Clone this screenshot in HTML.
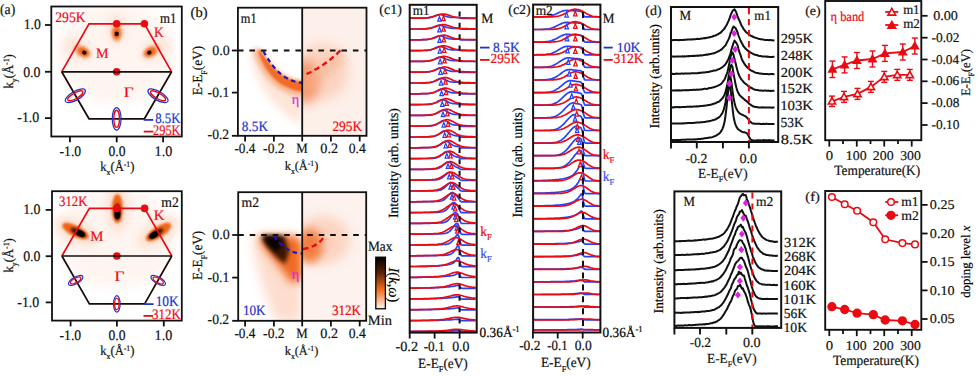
<!DOCTYPE html>
<html><head><meta charset="utf-8"><style>
html,body{margin:0;padding:0;background:#fff;width:980px;height:376px;overflow:hidden}
svg{display:block}
text{font-family:"Liberation Serif", serif; text-rendering:geometricPrecision}
</style></head><body>
<svg width="980" height="376" viewBox="0 0 980 376">
<defs>
<filter id="blur05" x="-50%" y="-50%" width="200%" height="200%"><feGaussianBlur stdDeviation="0.8"/></filter>
<filter id="blur1" x="-50%" y="-50%" width="200%" height="200%"><feGaussianBlur stdDeviation="1.8"/></filter>
<filter id="blur1s" x="-50%" y="-50%" width="200%" height="200%"><feGaussianBlur stdDeviation="1.3"/></filter>
<filter id="blur05s" x="-50%" y="-50%" width="200%" height="200%"><feGaussianBlur stdDeviation="0.6"/></filter>
<filter id="blur2" x="-50%" y="-50%" width="200%" height="200%"><feGaussianBlur stdDeviation="2.2"/></filter>
<filter id="blur4" x="-80%" y="-80%" width="260%" height="260%"><feGaussianBlur stdDeviation="5.5"/></filter>
<filter id="blur3" x="-80%" y="-80%" width="260%" height="260%"><feGaussianBlur stdDeviation="4"/></filter>
<clipPath id="clipa1"><rect x="51.3" y="6.5" width="130.5" height="130"/></clipPath>
<clipPath id="clipa0"><rect x="52" y="191.2" width="129.8" height="129.4"/></clipPath>
<clipPath id="clipb1L"><rect x="237.9" y="7.7" width="64.3" height="128.1"/></clipPath>
<clipPath id="clipb1R"><rect x="302.2" y="7.7" width="64.3" height="128.1"/></clipPath>
<clipPath id="clipb0L"><rect x="238.2" y="192.2" width="64" height="128.6"/></clipPath>
<clipPath id="clipb0R"><rect x="302.2" y="192.2" width="64" height="128.6"/></clipPath>
<linearGradient id="cbar" x1="0" y1="0" x2="0" y2="1"><stop offset="0" stop-color="#000"/><stop offset="0.3" stop-color="#5a2208"/><stop offset="0.62" stop-color="#f26a18"/><stop offset="1" stop-color="#fff4ee"/></linearGradient>
</defs>
<g clip-path="url(#clipa1)">
<ellipse cx="116.65" cy="53.8" rx="60" ry="50" fill="#fef5f1" filter="url(#blur4)"/>
<g transform="translate(116.7 33.9) rotate(90)">
<ellipse cx="-5" rx="16" ry="10" fill="#fcd9c6" opacity="0.55" filter="url(#blur3)"/>
<ellipse cx="-1.5" rx="10" ry="6" fill="#f9b088" opacity="0.7" filter="url(#blur1s)"/>
<ellipse cx="-0.8" rx="6.5" ry="4.2" fill="#f26a1a" filter="url(#blur1s)"/>
<ellipse rx="2.4" ry="2.0" fill="#0a0300" filter="url(#blur05s)"/>
</g>
<g transform="translate(84.3 52.6) rotate(30)">
<ellipse cx="-7.5" rx="16" ry="10" fill="#fcd9c6" opacity="0.55" filter="url(#blur3)"/>
<ellipse cx="-2.25" rx="10" ry="6" fill="#f9b088" opacity="0.7" filter="url(#blur1s)"/>
<ellipse cx="-1.2" rx="6.5" ry="4.2" fill="#f26a1a" filter="url(#blur1s)"/>
<ellipse rx="2.4" ry="2.0" fill="#0a0300" filter="url(#blur05s)"/>
</g>
<g transform="translate(149.3 52.6) rotate(-30)">
<ellipse cx="7.5" rx="16" ry="10" fill="#fcd9c6" opacity="0.55" filter="url(#blur3)"/>
<ellipse cx="2.25" rx="10" ry="6" fill="#f9b088" opacity="0.7" filter="url(#blur1s)"/>
<ellipse cx="1.2" rx="6.5" ry="4.2" fill="#f26a1a" filter="url(#blur1s)"/>
<ellipse rx="2.4" ry="2.0" fill="#0a0300" filter="url(#blur05s)"/>
</g>
</g>
<path d="M61.7 71.8 L89 23.8 L144.4 23.8 L171.6 71.8" stroke="#ec0a12" stroke-width="1.7" fill="none"/>
<path d="M61.7 71.8 L89 118.8 L144.4 118.8 L171.6 71.8" stroke="#1a0a0a" stroke-width="1.7" fill="none"/>
<circle cx="116.65" cy="23.8" r="3.8" fill="#ec0a12"/>
<circle cx="144.4" cy="23.8" r="3.8" fill="#ec0a12"/>
<circle cx="116.65" cy="71.8" r="3.8" fill="#ec0a12"/>
<line x1="61.7" y1="71.8" x2="171.6" y2="71.8" stroke="#111" stroke-width="1.7"/>
<g transform="translate(116.65 118.8) rotate(180)">
<ellipse rx="4.4" ry="11.3" fill="none" stroke="#2233cc" stroke-width="1.25"/>
<ellipse rx="2.8" ry="8.6" fill="none" stroke="#ec0a12" stroke-width="1.35"/>
</g>
<g transform="translate(75.35 95.8) rotate(240)">
<ellipse rx="4.4" ry="11.3" fill="none" stroke="#2233cc" stroke-width="1.25"/>
<ellipse rx="2.8" ry="8.6" fill="none" stroke="#ec0a12" stroke-width="1.35"/>
</g>
<g transform="translate(158 95.8) rotate(120)">
<ellipse rx="4.4" ry="11.3" fill="none" stroke="#2233cc" stroke-width="1.25"/>
<ellipse rx="2.8" ry="8.6" fill="none" stroke="#ec0a12" stroke-width="1.35"/>
</g>
<rect x="51.3" y="6.5" width="130.5" height="130" fill="none" stroke="#111" stroke-width="1.8"/>
<line x1="45" y1="25" x2="51.3" y2="25" stroke="#111" stroke-width="1.8"/>
<line x1="45" y1="71.8" x2="51.3" y2="71.8" stroke="#111" stroke-width="1.8"/>
<line x1="45" y1="118.1" x2="51.3" y2="118.1" stroke="#111" stroke-width="1.8"/>
<line x1="69.9" y1="136.5" x2="69.9" y2="142.3" stroke="#111" stroke-width="1.8"/>
<line x1="116.7" y1="136.5" x2="116.7" y2="142.3" stroke="#111" stroke-width="1.8"/>
<line x1="163.1" y1="136.5" x2="163.1" y2="142.3" stroke="#111" stroke-width="1.8"/>
<text transform="translate(23.64 28.68) scale(0.944 1)" font-size="14.50" fill="#111" stroke="#111" stroke-width="0.2">1.0</text>
<text transform="translate(23.15 76.58) scale(0.955 1)" font-size="14.50" fill="#111" stroke="#111" stroke-width="0.2">0.0</text>
<text transform="translate(17.32 121.88) scale(0.955 1)" font-size="14.50" fill="#111" stroke="#111" stroke-width="0.2">-1.0</text>
<text transform="translate(59.52 156.38) scale(0.941 1)" font-size="14.50" fill="#111" stroke="#111" stroke-width="0.2">-1.0</text>
<text transform="translate(108.56 156.38) scale(0.937 1)" font-size="14.50" fill="#111" stroke="#111" stroke-width="0.2">0.0</text>
<text transform="translate(154.6 156.38) scale(0.975 1)" font-size="14.50" fill="#111" stroke="#111" stroke-width="0.2">1.0</text>
<text transform="translate(100.2 171) scale(0.930 1)" font-size="13.60" fill="#111" stroke="#111" stroke-width="0.2">k<tspan font-size="8.4" dy="4.1">x</tspan><tspan dy="-4.1">(Å</tspan><tspan font-size="8.4" dy="-4.5">-1</tspan><tspan dy="4.5">)</tspan></text>
<text transform="translate(13.2 88.5) rotate(-90) scale(0.930 1)" font-size="13.60" fill="#111" stroke="#111" stroke-width="0.2">k<tspan font-size="8.4" dy="4.1">y</tspan><tspan dy="-4.1">(Å</tspan><tspan font-size="8.4" dy="-4.5">-1</tspan><tspan dy="4.5">)</tspan></text>
<text transform="translate(55.23 21.61) scale(0.948 1)" font-size="14.50" fill="#ec0a12" stroke="#ec0a12" stroke-width="0.2">295K</text>
<text transform="translate(159.94 22.55) scale(0.885 1)" font-size="14.50" fill="#111" stroke="#111" stroke-width="0.2">m1</text>
<text transform="translate(96.08 57.9) scale(0.972 1)" font-size="14.50" fill="#ec0a12" stroke="#ec0a12" stroke-width="0.2">M</text>
<text transform="translate(153.99 36.9) scale(0.933 1)" font-size="14.50" fill="#ec0a12" stroke="#ec0a12" stroke-width="0.2">K</text>
<text transform="translate(123.79 96.5) scale(1.178 1)" font-size="14.50" fill="#ec0a12" stroke="#ec0a12" stroke-width="0.2">Γ</text>
<line x1="143.7" y1="119.9" x2="153.3" y2="119.9" stroke="#2233cc" stroke-width="1.8"/>
<text transform="translate(155.19 123.38) scale(0.887 1)" font-size="14.50" fill="#2233cc" stroke="#2233cc" stroke-width="0.2">8.5K</text>
<line x1="143.7" y1="131.6" x2="153.3" y2="131.6" stroke="#ec0a12" stroke-width="1.8"/>
<text transform="translate(153.04 135.16) scale(0.854 1)" font-size="14.50" fill="#ec0a12" stroke="#ec0a12" stroke-width="0.2">295K</text>
<g clip-path="url(#clipa0)">
<ellipse cx="116.85" cy="238" rx="60" ry="50" fill="#fef5f1" filter="url(#blur4)"/>
<g transform="translate(117.4 208.7) rotate(90)">
<ellipse rx="24" ry="11" fill="#fcd0b8" opacity="0.55" filter="url(#blur3)"/>
<ellipse rx="14.5" ry="5.6" fill="#f26418" filter="url(#blur1s)"/>
<ellipse cx="3" rx="8.5" ry="2.9" fill="#3a1400" filter="url(#blur1s)"/>
<ellipse cx="5.5" rx="5" ry="2.9" fill="#000" filter="url(#blur05s)"/>
</g>
<g transform="translate(75.5 231) rotate(27)">
<ellipse rx="24" ry="11" fill="#fcd0b8" opacity="0.55" filter="url(#blur3)"/>
<ellipse rx="14.5" ry="5.6" fill="#f26418" filter="url(#blur1s)"/>
<ellipse cx="3" rx="8.5" ry="2.9" fill="#3a1400" filter="url(#blur1s)"/>
<ellipse cx="5.5" rx="5" ry="2.9" fill="#000" filter="url(#blur05s)"/>
</g>
<g transform="translate(158.5 232) rotate(-33)">
<ellipse rx="24" ry="11" fill="#fcd0b8" opacity="0.55" filter="url(#blur3)"/>
<ellipse rx="14.5" ry="5.6" fill="#f26418" filter="url(#blur1s)"/>
<ellipse cx="-3" rx="8.5" ry="2.9" fill="#3a1400" filter="url(#blur1s)"/>
<ellipse cx="-5.5" rx="5" ry="2.9" fill="#000" filter="url(#blur05s)"/>
</g>
</g>
<path d="M61.9 256 L89.4 208.4 L144.6 208.4 L171.8 256" stroke="#ec0a12" stroke-width="1.7" fill="none"/>
<path d="M61.9 256 L89.4 303.9 L144.6 303.9 L171.8 256" stroke="#1a0a0a" stroke-width="1.7" fill="none"/>
<circle cx="116.85" cy="208.4" r="3.8" fill="#ec0a12"/>
<circle cx="144.6" cy="208.4" r="3.8" fill="#ec0a12"/>
<circle cx="116.85" cy="256" r="3.8" fill="#ec0a12"/>
<line x1="61.9" y1="256" x2="171.8" y2="256" stroke="#111" stroke-width="1.7"/>
<g transform="translate(116.85 303.9) rotate(180)">
<ellipse rx="3.3" ry="8.2" fill="none" stroke="#2233cc" stroke-width="1.2"/>
<ellipse rx="2.2" ry="5.8" fill="none" stroke="#ec0a12" stroke-width="1.3"/>
</g>
<g transform="translate(75.65 280.45) rotate(240)">
<ellipse rx="3.3" ry="8.2" fill="none" stroke="#2233cc" stroke-width="1.2"/>
<ellipse rx="2.2" ry="5.8" fill="none" stroke="#ec0a12" stroke-width="1.3"/>
</g>
<g transform="translate(158.2 280.45) rotate(120)">
<ellipse rx="3.3" ry="8.2" fill="none" stroke="#2233cc" stroke-width="1.2"/>
<ellipse rx="2.2" ry="5.8" fill="none" stroke="#ec0a12" stroke-width="1.3"/>
</g>
<rect x="52" y="191.2" width="129.8" height="129.4" fill="none" stroke="#111" stroke-width="1.8"/>
<line x1="45.7" y1="209.9" x2="52" y2="209.9" stroke="#111" stroke-width="1.8"/>
<line x1="45.7" y1="256.2" x2="52" y2="256.2" stroke="#111" stroke-width="1.8"/>
<line x1="45.7" y1="302.4" x2="52" y2="302.4" stroke="#111" stroke-width="1.8"/>
<line x1="70.6" y1="320.6" x2="70.6" y2="326.4" stroke="#111" stroke-width="1.8"/>
<line x1="116.9" y1="320.6" x2="116.9" y2="326.4" stroke="#111" stroke-width="1.8"/>
<line x1="163.8" y1="320.6" x2="163.8" y2="326.4" stroke="#111" stroke-width="1.8"/>
<text transform="translate(23.13 213.98) scale(0.950 1)" font-size="14.50" fill="#111" stroke="#111" stroke-width="0.2">1.0</text>
<text transform="translate(23.15 260.58) scale(0.955 1)" font-size="14.50" fill="#111" stroke="#111" stroke-width="0.2">0.0</text>
<text transform="translate(17.32 306.88) scale(0.955 1)" font-size="14.50" fill="#111" stroke="#111" stroke-width="0.2">-1.0</text>
<text transform="translate(59.52 340.38) scale(0.941 1)" font-size="14.50" fill="#111" stroke="#111" stroke-width="0.2">-1.0</text>
<text transform="translate(108.56 340.38) scale(0.937 1)" font-size="14.50" fill="#111" stroke="#111" stroke-width="0.2">0.0</text>
<text transform="translate(154.6 340.38) scale(0.975 1)" font-size="14.50" fill="#111" stroke="#111" stroke-width="0.2">1.0</text>
<text transform="translate(100.2 355) scale(0.930 1)" font-size="13.60" fill="#111" stroke="#111" stroke-width="0.2">k<tspan font-size="8.4" dy="4.1">x</tspan><tspan dy="-4.1">(Å</tspan><tspan font-size="8.4" dy="-4.5">-1</tspan><tspan dy="4.5">)</tspan></text>
<text transform="translate(13.2 272.5) rotate(-90) scale(0.930 1)" font-size="13.60" fill="#111" stroke="#111" stroke-width="0.2">k<tspan font-size="8.4" dy="4.1">y</tspan><tspan dy="-4.1">(Å</tspan><tspan font-size="8.4" dy="-4.5">-1</tspan><tspan dy="4.5">)</tspan></text>
<text transform="translate(59.03 206.05) scale(0.879 1)" font-size="14.50" fill="#ec0a12" stroke="#ec0a12" stroke-width="0.2">312K</text>
<text transform="translate(161.33 206.8) scale(0.944 1)" font-size="14.50" fill="#111" stroke="#111" stroke-width="0.2">m2</text>
<text transform="translate(90.16 240.9) scale(1.022 1)" font-size="14.50" fill="#ec0a12" stroke="#ec0a12" stroke-width="0.2">M</text>
<text transform="translate(153.65 219.6) scale(1.034 1)" font-size="14.50" fill="#ec0a12" stroke="#ec0a12" stroke-width="0.2">K</text>
<text transform="translate(114.49 280.5) scale(1.178 1)" font-size="14.50" fill="#ec0a12" stroke="#ec0a12" stroke-width="0.2">Γ</text>
<line x1="144" y1="304.1" x2="153.6" y2="304.1" stroke="#2233cc" stroke-width="1.8"/>
<text transform="translate(155.66 305.75) scale(0.925 1)" font-size="14.50" fill="#2233cc" stroke="#2233cc" stroke-width="0.2">10K</text>
<line x1="143.5" y1="315.9" x2="153" y2="315.9" stroke="#ec0a12" stroke-width="1.8"/>
<text transform="translate(152.02 319.06) scale(0.895 1)" font-size="14.50" fill="#ec0a12" stroke="#ec0a12" stroke-width="0.2">312K</text>
<text transform="translate(0.05 14.48) scale(0.943 1)" font-size="14.50" fill="#111" stroke="#111" stroke-width="0.2">(a)</text>
<g clip-path="url(#clipb1L)">
<path d="M258 50 L268 56 Q285 82 302 90 L302 125 Q275 112 258 80 Q250 62 252 50 Z" fill="#fcd0b8" opacity="0.55" filter="url(#blur3)"/>
<path d="M256 47 Q266 64 281 74 Q292 80 303 80 L303 98 Q288 95 276 87 Q260 74 253 52 Z" fill="#f9b690" filter="url(#blur2)"/>
<path d="M259.5 48.5 Q269 65 282 75 Q292 81 303 82 L303 92 Q290 90 279 83 Q265 72 258 52 Z" fill="#f26a26" filter="url(#blur1s)"/>
</g>
<g clip-path="url(#clipb1R)">
<rect x="302.2" y="7.7" width="64.3" height="128.1" fill="#fdefe9"/>
<ellipse cx="322" cy="72" rx="26" ry="28" fill="#fbcfba" opacity="0.85" filter="url(#blur4)"/>
<ellipse cx="306" cy="82" rx="12" ry="22" fill="#f39060" opacity="0.9" filter="url(#blur4)"/>
<path d="M303 76 Q322 66 340 50 L346 58 Q325 78 303 96 Z" fill="#f7b08c" opacity="0.6" filter="url(#blur3)"/>
</g>
<line x1="237.9" y1="50.5" x2="366.5" y2="50.5" stroke="#111" stroke-width="2.0" stroke-dasharray="5.6 5.9"/>
<path d="M263.3 51 Q280 82 302 82.6" stroke="#1a1ab8" stroke-width="2.2" fill="none" stroke-dasharray="4.6 3.6"/>
<path d="M306.5 74 Q325 66 340.5 50.3" stroke="#ec0a12" stroke-width="2.3" fill="none" stroke-dasharray="5.5 3.5"/>
<line x1="302.2" y1="7.7" x2="302.2" y2="135.8" stroke="#111" stroke-width="1.8"/>
<rect x="237.9" y="7.7" width="128.6" height="128.1" fill="none" stroke="#111" stroke-width="1.8"/>
<line x1="231.9" y1="50.5" x2="237.9" y2="50.5" stroke="#111" stroke-width="1.8"/>
<line x1="231.9" y1="92.6" x2="237.9" y2="92.6" stroke="#111" stroke-width="1.8"/>
<line x1="231.9" y1="135.8" x2="237.9" y2="135.8" stroke="#111" stroke-width="1.8"/>
<line x1="245.1" y1="135.8" x2="245.1" y2="141.4" stroke="#111" stroke-width="1.8"/>
<line x1="273.9" y1="135.8" x2="273.9" y2="141.4" stroke="#111" stroke-width="1.8"/>
<line x1="302.2" y1="135.8" x2="302.2" y2="141.4" stroke="#111" stroke-width="1.8"/>
<line x1="330.9" y1="135.8" x2="330.9" y2="141.4" stroke="#111" stroke-width="1.8"/>
<line x1="359.7" y1="135.8" x2="359.7" y2="141.4" stroke="#111" stroke-width="1.8"/>
<text transform="translate(212.24 54.79) scale(0.980 1)" font-size="14.30" fill="#111" stroke="#111" stroke-width="0.2">0.0</text>
<text transform="translate(207.62 96.99) scale(0.953 1)" font-size="14.30" fill="#111" stroke="#111" stroke-width="0.2">-0.1</text>
<text transform="translate(207.62 139.09) scale(0.950 1)" font-size="14.30" fill="#111" stroke="#111" stroke-width="0.2">-0.2</text>
<text transform="translate(234.44 153.09) scale(0.925 1)" font-size="14.30" fill="#111" stroke="#111" stroke-width="0.2">-0.4</text>
<text transform="translate(263.12 153.09) scale(0.950 1)" font-size="14.30" fill="#111" stroke="#111" stroke-width="0.2">-0.2</text>
<text transform="translate(296.31 153.3) scale(0.902 1)" font-size="14.30" fill="#111" stroke="#111" stroke-width="0.2">M</text>
<text transform="translate(320.33 153.09) scale(0.993 1)" font-size="14.30" fill="#111" stroke="#111" stroke-width="0.2">0.2</text>
<text transform="translate(348.75 153.09) scale(0.954 1)" font-size="14.30" fill="#111" stroke="#111" stroke-width="0.2">0.4</text>
<text transform="translate(284.7 170.1) scale(0.950 1)" font-size="13.00" fill="#111" stroke="#111" stroke-width="0.2">k<tspan font-size="8.1" dy="3.9">x</tspan><tspan dy="-3.9">(Å</tspan><tspan font-size="8.1" dy="-4.3">-1</tspan><tspan dy="4.3">)</tspan></text>
<text transform="translate(202.4 95.2) rotate(-90) scale(0.950 1)" font-size="13.90" fill="#111" stroke="#111" stroke-width="0.2">E-E<tspan font-size="8.6" dy="4.2">F</tspan><tspan dy="-4.2">(eV)</tspan></text>
<text transform="translate(240.85 22.7) scale(0.862 1)" font-size="14.30" fill="#111" stroke="#111" stroke-width="0.2">m1</text>
<text transform="translate(241.87 131.09) scale(0.929 1)" font-size="14.30" fill="#2233cc" stroke="#2233cc" stroke-width="0.2">8.5K</text>
<text transform="translate(332.4 131.16) scale(0.940 1)" font-size="14.30" fill="#ec0a12" stroke="#ec0a12" stroke-width="0.2">295K</text>
<text transform="translate(291.79 103.63) scale(0.999 1)" font-size="14.30" fill="#e020e0" stroke="#e020e0" stroke-width="0.2">η</text>
<g clip-path="url(#clipb0L)">
<path d="M256 236 L302 236 L302 322 L276 322 Q258 280 252 240 Z" fill="#fcd2be" opacity="0.75" filter="url(#blur4)"/>
<path d="M259 236 L296 236 L302 244 L302 278 L292 284 Q282 270 272 258 Q262 246 259 238 Z" fill="#f06a22" filter="url(#blur3)"/>
<path d="M262 236 L285 236 L289 252 L285 264 Q276 258 269 249 Q263 242 262 238 Z" fill="#3a1604" filter="url(#blur2)"/>
<path d="M264 236 L280 236 L281 247 L276 252 Q268 246 265 240 Z" fill="#000" opacity="0.85" filter="url(#blur2)"/>
</g>
<g clip-path="url(#clipb0R)">
<rect x="302.2" y="192.2" width="64" height="128.6" fill="#fdf2ee"/>
<ellipse cx="322" cy="240" rx="28" ry="24" fill="#fbc8ae" opacity="0.7" filter="url(#blur4)"/>
<ellipse cx="310" cy="246" rx="13" ry="17" fill="#f27a3a" opacity="0.95" filter="url(#blur3)"/>
</g>
<line x1="238.2" y1="235" x2="366.2" y2="235" stroke="#111" stroke-width="2.0" stroke-dasharray="5.6 5.9"/>
<path d="M274 236 Q286 253 302 253.5" stroke="#1a1ab8" stroke-width="2.2" fill="none" stroke-dasharray="4.6 3.6"/>
<path d="M303 249 Q318 247 324.5 236" stroke="#ec0a12" stroke-width="2.3" fill="none" stroke-dasharray="5.5 3.5"/>
<line x1="302.2" y1="192.2" x2="302.2" y2="320.8" stroke="#111" stroke-width="1.8"/>
<rect x="238.2" y="192.2" width="128" height="128.6" fill="none" stroke="#111" stroke-width="1.8"/>
<line x1="232.2" y1="235" x2="238.2" y2="235" stroke="#111" stroke-width="1.8"/>
<line x1="232.2" y1="277.6" x2="238.2" y2="277.6" stroke="#111" stroke-width="1.8"/>
<line x1="232.2" y1="320.8" x2="238.2" y2="320.8" stroke="#111" stroke-width="1.8"/>
<line x1="245.1" y1="320.8" x2="245.1" y2="326.4" stroke="#111" stroke-width="1.8"/>
<line x1="273.9" y1="320.8" x2="273.9" y2="326.4" stroke="#111" stroke-width="1.8"/>
<line x1="302.2" y1="320.8" x2="302.2" y2="326.4" stroke="#111" stroke-width="1.8"/>
<line x1="330.9" y1="320.8" x2="330.9" y2="326.4" stroke="#111" stroke-width="1.8"/>
<line x1="359.7" y1="320.8" x2="359.7" y2="326.4" stroke="#111" stroke-width="1.8"/>
<text transform="translate(212.24 239.29) scale(0.980 1)" font-size="14.30" fill="#111" stroke="#111" stroke-width="0.2">0.0</text>
<text transform="translate(207.62 281.99) scale(0.953 1)" font-size="14.30" fill="#111" stroke="#111" stroke-width="0.2">-0.1</text>
<text transform="translate(207.62 324.09) scale(0.950 1)" font-size="14.30" fill="#111" stroke="#111" stroke-width="0.2">-0.2</text>
<text transform="translate(234.44 337.89) scale(0.925 1)" font-size="14.30" fill="#111" stroke="#111" stroke-width="0.2">-0.4</text>
<text transform="translate(263.12 337.89) scale(0.950 1)" font-size="14.30" fill="#111" stroke="#111" stroke-width="0.2">-0.2</text>
<text transform="translate(296.31 338.1) scale(0.902 1)" font-size="14.30" fill="#111" stroke="#111" stroke-width="0.2">M</text>
<text transform="translate(320.33 337.89) scale(0.993 1)" font-size="14.30" fill="#111" stroke="#111" stroke-width="0.2">0.2</text>
<text transform="translate(348.75 337.89) scale(0.954 1)" font-size="14.30" fill="#111" stroke="#111" stroke-width="0.2">0.4</text>
<text transform="translate(284.7 354.9) scale(0.950 1)" font-size="13.00" fill="#111" stroke="#111" stroke-width="0.2">k<tspan font-size="8.1" dy="3.9">x</tspan><tspan dy="-3.9">(Å</tspan><tspan font-size="8.1" dy="-4.3">-1</tspan><tspan dy="4.3">)</tspan></text>
<text transform="translate(202.4 280) rotate(-90) scale(0.950 1)" font-size="13.90" fill="#111" stroke="#111" stroke-width="0.2">E-E<tspan font-size="8.6" dy="4.2">F</tspan><tspan dy="-4.2">(eV)</tspan></text>
<text transform="translate(241.53 207) scale(0.958 1)" font-size="14.30" fill="#111" stroke="#111" stroke-width="0.2">m2</text>
<text transform="translate(242.88 315.06) scale(0.925 1)" font-size="14.30" fill="#2233cc" stroke="#2233cc" stroke-width="0.2">10K</text>
<text transform="translate(331.91 315.06) scale(0.914 1)" font-size="14.30" fill="#ec0a12" stroke="#ec0a12" stroke-width="0.2">312K</text>
<text transform="translate(291.79 278.63) scale(0.999 1)" font-size="14.30" fill="#e020e0" stroke="#e020e0" stroke-width="0.2">η</text>
<text transform="translate(190.55 16.53) scale(1.017 1)" font-size="14.30" fill="#111" stroke="#111" stroke-width="0.2">(b)</text>
<rect x="375.8" y="257.2" width="9.6" height="51.6" fill="url(#cbar)" stroke="#000" stroke-width="1.3"/>
<text transform="translate(367.9 250.56) scale(0.935 1)" font-size="14.30" fill="#111" stroke="#111" stroke-width="0.2">Max</text>
<text transform="translate(367.86 324.6) scale(1.014 1)" font-size="14.30" fill="#111" stroke="#111" stroke-width="0.2">Min</text>
<text transform="translate(389.0 267.5) rotate(90) scale(0.97 1)" font-size="15" fill="#000" stroke="#000" stroke-width="0.2"><tspan font-style="italic">I</tspan>(<tspan font-style="italic">k</tspan>,<tspan font-style="italic">ω</tspan>)</text>
<path d="M409.7 18.2 L410.9 18.2 L412.1 18.2 L413.3 18.2 L414.5 18.2 L415.7 18.2 L416.9 18.2 L418.1 18.2 L419.3 18.2 L420.5 18.2 L421.7 18.2 L422.9 18.1 L424.1 18.1 L425.3 18.0 L426.5 18.0 L427.7 17.8 L428.9 17.7 L430.1 17.4 L431.3 17.1 L432.5 16.7 L433.7 16.3 L434.9 15.8 L436.1 15.4 L437.3 15.0 L438.5 14.7 L439.7 14.6 L440.9 14.7 L442.1 15.0 L443.3 15.4 L444.5 15.9 L445.7 16.3 L446.9 16.6 L448.1 17.0 L449.3 17.2 L450.5 17.4 L451.7 17.5 L452.9 17.5 L454.1 17.5 L455.3 17.5 L456.5 17.5 L457.7 17.5 L458.9 17.6 L460.1 18.0 L461.3 18.3 L462.5 18.3 L463.7 18.3 L464.9 18.3 L466.1 18.3 L467.3 18.3 L468.5 18.3 L469.7 18.3 L470.9 18.3 L472.1 18.3 L473.3 18.3 L474.5 18.3 L475.7 18.3" stroke="#2244ff" stroke-width="1.7" fill="none" stroke-linejoin="round"/>
<path d="M409.7 18.2 L410.9 18.2 L412.1 18.2 L413.3 18.2 L414.5 18.2 L415.7 18.2 L416.9 18.2 L418.1 18.2 L419.3 18.2 L420.5 18.2 L421.7 18.1 L422.9 18.1 L424.1 18.1 L425.3 18.0 L426.5 17.9 L427.7 17.8 L428.9 17.6 L430.1 17.4 L431.3 17.2 L432.5 16.9 L433.7 16.5 L434.9 16.1 L436.1 15.7 L437.3 15.3 L438.5 14.9 L439.7 14.5 L440.9 14.2 L442.1 14.1 L443.3 14.0 L444.5 14.1 L445.7 14.3 L446.9 14.6 L448.1 15.0 L449.3 15.4 L450.5 15.8 L451.7 16.2 L452.9 16.6 L454.1 16.9 L455.3 17.1 L456.5 17.3 L457.7 17.5 L458.9 17.6 L460.1 17.7 L461.3 17.8 L462.5 17.8 L463.7 17.9 L464.9 17.9 L466.1 17.9 L467.3 17.9 L468.5 18.0 L469.7 18.0 L470.9 18.0 L472.1 18.0 L473.3 18.1 L474.5 18.1 L475.7 18.1" stroke="#ec0a12" stroke-width="1.7" fill="none" stroke-linejoin="round"/>
<path d="M409.7 29.0 L410.9 29.0 L412.1 29.0 L413.3 29.0 L414.5 29.0 L415.7 29.0 L416.9 29.0 L418.1 29.0 L419.3 29.0 L420.5 29.0 L421.7 29.0 L422.9 28.9 L424.1 28.9 L425.3 28.8 L426.5 28.8 L427.7 28.6 L428.9 28.5 L430.1 28.2 L431.3 27.9 L432.5 27.5 L433.7 27.1 L434.9 26.6 L436.1 26.1 L437.3 25.6 L438.5 25.3 L439.7 25.2 L440.9 25.4 L442.1 25.7 L443.3 26.1 L444.5 26.6 L445.7 27.0 L446.9 27.4 L448.1 27.7 L449.3 28.0 L450.5 28.1 L451.7 28.2 L452.9 28.3 L454.1 28.3 L455.3 28.3 L456.5 28.3 L457.7 28.3 L458.9 28.4 L460.1 28.8 L461.3 29.1 L462.5 29.1 L463.7 29.1 L464.9 29.1 L466.1 29.1 L467.3 29.1 L468.5 29.1 L469.7 29.1 L470.9 29.1 L472.1 29.1 L473.3 29.1 L474.5 29.1 L475.7 29.1" stroke="#2244ff" stroke-width="1.7" fill="none" stroke-linejoin="round"/>
<path d="M409.7 29.0 L410.9 29.0 L412.1 29.0 L413.3 29.0 L414.5 29.0 L415.7 29.0 L416.9 29.0 L418.1 29.0 L419.3 29.0 L420.5 29.0 L421.7 28.9 L422.9 28.9 L424.1 28.8 L425.3 28.8 L426.5 28.7 L427.7 28.6 L428.9 28.4 L430.1 28.2 L431.3 27.9 L432.5 27.6 L433.7 27.3 L434.9 26.9 L436.1 26.4 L437.3 26.0 L438.5 25.6 L439.7 25.2 L440.9 24.9 L442.1 24.7 L443.3 24.6 L444.5 24.7 L445.7 24.9 L446.9 25.2 L448.1 25.6 L449.3 26.0 L450.5 26.4 L451.7 26.9 L452.9 27.2 L454.1 27.6 L455.3 27.8 L456.5 28.1 L457.7 28.2 L458.9 28.4 L460.1 28.5 L461.3 28.5 L462.5 28.6 L463.7 28.6 L464.9 28.7 L466.1 28.7 L467.3 28.7 L468.5 28.8 L469.7 28.8 L470.9 28.8 L472.1 28.8 L473.3 28.9 L474.5 28.9 L475.7 28.9" stroke="#ec0a12" stroke-width="1.7" fill="none" stroke-linejoin="round"/>
<path d="M409.7 39.8 L410.9 39.8 L412.1 39.8 L413.3 39.8 L414.5 39.8 L415.7 39.8 L416.9 39.8 L418.1 39.8 L419.3 39.8 L420.5 39.8 L421.7 39.8 L422.9 39.7 L424.1 39.7 L425.3 39.6 L426.5 39.6 L427.7 39.4 L428.9 39.3 L430.1 39.0 L431.3 38.7 L432.5 38.3 L433.7 37.9 L434.9 37.3 L436.1 36.8 L437.3 36.3 L438.5 36.0 L439.7 35.9 L440.9 36.0 L442.1 36.3 L443.3 36.7 L444.5 37.2 L445.7 37.7 L446.9 38.1 L448.1 38.5 L449.3 38.7 L450.5 38.9 L451.7 39.0 L452.9 39.1 L454.1 39.1 L455.3 39.1 L456.5 39.1 L457.7 39.0 L458.9 39.2 L460.1 39.6 L461.3 39.9 L462.5 39.9 L463.7 39.9 L464.9 39.9 L466.1 39.9 L467.3 39.9 L468.5 39.9 L469.7 39.9 L470.9 39.9 L472.1 39.9 L473.3 39.9 L474.5 39.9 L475.7 39.9" stroke="#2244ff" stroke-width="1.7" fill="none" stroke-linejoin="round"/>
<path d="M409.7 39.8 L410.9 39.8 L412.1 39.8 L413.3 39.8 L414.5 39.8 L415.7 39.8 L416.9 39.8 L418.1 39.8 L419.3 39.8 L420.5 39.8 L421.7 39.7 L422.9 39.7 L424.1 39.6 L425.3 39.6 L426.5 39.5 L427.7 39.4 L428.9 39.2 L430.1 39.0 L431.3 38.7 L432.5 38.4 L433.7 38.1 L434.9 37.6 L436.1 37.2 L437.3 36.7 L438.5 36.3 L439.7 35.9 L440.9 35.5 L442.1 35.3 L443.3 35.2 L444.5 35.2 L445.7 35.4 L446.9 35.7 L448.1 36.1 L449.3 36.6 L450.5 37.0 L451.7 37.5 L452.9 37.9 L454.1 38.3 L455.3 38.6 L456.5 38.8 L457.7 39.0 L458.9 39.1 L460.1 39.2 L461.3 39.3 L462.5 39.4 L463.7 39.4 L464.9 39.5 L466.1 39.5 L467.3 39.5 L468.5 39.5 L469.7 39.6 L470.9 39.6 L472.1 39.6 L473.3 39.7 L474.5 39.7 L475.7 39.7" stroke="#ec0a12" stroke-width="1.7" fill="none" stroke-linejoin="round"/>
<path d="M409.7 50.6 L410.9 50.6 L412.1 50.6 L413.3 50.6 L414.5 50.6 L415.7 50.6 L416.9 50.6 L418.1 50.6 L419.3 50.6 L420.5 50.6 L421.7 50.6 L422.9 50.5 L424.1 50.5 L425.3 50.4 L426.5 50.4 L427.7 50.3 L428.9 50.1 L430.1 49.9 L431.3 49.6 L432.5 49.2 L433.7 48.7 L434.9 48.2 L436.1 47.6 L437.3 47.1 L438.5 46.7 L439.7 46.5 L440.9 46.6 L442.1 46.9 L443.3 47.3 L444.5 47.8 L445.7 48.3 L446.9 48.8 L448.1 49.2 L449.3 49.5 L450.5 49.7 L451.7 49.8 L452.9 49.9 L454.1 49.9 L455.3 49.9 L456.5 49.9 L457.7 49.8 L458.9 50.0 L460.1 50.4 L461.3 50.7 L462.5 50.7 L463.7 50.7 L464.9 50.7 L466.1 50.7 L467.3 50.7 L468.5 50.7 L469.7 50.7 L470.9 50.7 L472.1 50.7 L473.3 50.7 L474.5 50.7 L475.7 50.7" stroke="#2244ff" stroke-width="1.7" fill="none" stroke-linejoin="round"/>
<path d="M409.7 50.6 L410.9 50.6 L412.1 50.6 L413.3 50.6 L414.5 50.6 L415.7 50.6 L416.9 50.6 L418.1 50.6 L419.3 50.6 L420.5 50.5 L421.7 50.5 L422.9 50.5 L424.1 50.4 L425.3 50.4 L426.5 50.3 L427.7 50.2 L428.9 50.0 L430.1 49.8 L431.3 49.6 L432.5 49.2 L433.7 48.9 L434.9 48.4 L436.1 48.0 L437.3 47.5 L438.5 47.0 L439.7 46.6 L440.9 46.2 L442.1 45.9 L443.3 45.8 L444.5 45.8 L445.7 46.0 L446.9 46.3 L448.1 46.7 L449.3 47.1 L450.5 47.6 L451.7 48.1 L452.9 48.5 L454.1 48.9 L455.3 49.2 L456.5 49.5 L457.7 49.7 L458.9 49.9 L460.1 50.0 L461.3 50.1 L462.5 50.1 L463.7 50.2 L464.9 50.2 L466.1 50.3 L467.3 50.3 L468.5 50.3 L469.7 50.4 L470.9 50.4 L472.1 50.4 L473.3 50.4 L474.5 50.5 L475.7 50.5" stroke="#ec0a12" stroke-width="1.7" fill="none" stroke-linejoin="round"/>
<path d="M409.7 61.4 L410.9 61.4 L412.1 61.4 L413.3 61.4 L414.5 61.4 L415.7 61.4 L416.9 61.4 L418.1 61.4 L419.3 61.4 L420.5 61.4 L421.7 61.4 L422.9 61.3 L424.1 61.3 L425.3 61.3 L426.5 61.2 L427.7 61.1 L428.9 60.9 L430.1 60.7 L431.3 60.4 L432.5 60.0 L433.7 59.6 L434.9 59.0 L436.1 58.4 L437.3 57.9 L438.5 57.4 L439.7 57.2 L440.9 57.2 L442.1 57.5 L443.3 57.9 L444.5 58.4 L445.7 59.0 L446.9 59.4 L448.1 59.8 L449.3 60.2 L450.5 60.4 L451.7 60.5 L452.9 60.6 L454.1 60.7 L455.3 60.7 L456.5 60.6 L457.7 60.6 L458.9 60.7 L460.1 61.2 L461.3 61.5 L462.5 61.5 L463.7 61.5 L464.9 61.5 L466.1 61.5 L467.3 61.5 L468.5 61.5 L469.7 61.5 L470.9 61.5 L472.1 61.5 L473.3 61.5 L474.5 61.5 L475.7 61.5" stroke="#2244ff" stroke-width="1.7" fill="none" stroke-linejoin="round"/>
<path d="M409.7 61.4 L410.9 61.4 L412.1 61.4 L413.3 61.4 L414.5 61.4 L415.7 61.4 L416.9 61.4 L418.1 61.4 L419.3 61.4 L420.5 61.3 L421.7 61.3 L422.9 61.3 L424.1 61.2 L425.3 61.2 L426.5 61.1 L427.7 61.0 L428.9 60.8 L430.1 60.6 L431.3 60.4 L432.5 60.1 L433.7 59.7 L434.9 59.3 L436.1 58.8 L437.3 58.3 L438.5 57.8 L439.7 57.3 L440.9 56.9 L442.1 56.6 L443.3 56.4 L444.5 56.4 L445.7 56.5 L446.9 56.8 L448.1 57.2 L449.3 57.6 L450.5 58.1 L451.7 58.6 L452.9 59.1 L454.1 59.5 L455.3 59.9 L456.5 60.2 L457.7 60.4 L458.9 60.6 L460.1 60.7 L461.3 60.8 L462.5 60.9 L463.7 61.0 L464.9 61.0 L466.1 61.1 L467.3 61.1 L468.5 61.1 L469.7 61.2 L470.9 61.2 L472.1 61.2 L473.3 61.2 L474.5 61.3 L475.7 61.3" stroke="#ec0a12" stroke-width="1.7" fill="none" stroke-linejoin="round"/>
<path d="M409.7 72.2 L410.9 72.2 L412.1 72.2 L413.3 72.2 L414.5 72.2 L415.7 72.2 L416.9 72.2 L418.1 72.2 L419.3 72.2 L420.5 72.2 L421.7 72.2 L422.9 72.1 L424.1 72.1 L425.3 72.1 L426.5 72.0 L427.7 71.9 L428.9 71.8 L430.1 71.6 L431.3 71.3 L432.5 71.0 L433.7 70.5 L434.9 70.0 L436.1 69.4 L437.3 68.8 L438.5 68.2 L439.7 67.9 L440.9 67.8 L442.1 68.0 L443.3 68.4 L444.5 68.9 L445.7 69.5 L446.9 70.0 L448.1 70.5 L449.3 70.8 L450.5 71.1 L451.7 71.3 L452.9 71.4 L454.1 71.4 L455.3 71.4 L456.5 71.4 L457.7 71.4 L458.9 71.5 L460.1 72.0 L461.3 72.3 L462.5 72.3 L463.7 72.3 L464.9 72.3 L466.1 72.3 L467.3 72.3 L468.5 72.3 L469.7 72.3 L470.9 72.3 L472.1 72.3 L473.3 72.3 L474.5 72.3 L475.7 72.3" stroke="#2244ff" stroke-width="1.7" fill="none" stroke-linejoin="round"/>
<path d="M409.7 72.2 L410.9 72.2 L412.1 72.2 L413.3 72.2 L414.5 72.2 L415.7 72.2 L416.9 72.2 L418.1 72.2 L419.3 72.2 L420.5 72.1 L421.7 72.1 L422.9 72.1 L424.1 72.1 L425.3 72.0 L426.5 71.9 L427.7 71.8 L428.9 71.7 L430.1 71.5 L431.3 71.2 L432.5 70.9 L433.7 70.6 L434.9 70.2 L436.1 69.7 L437.3 69.2 L438.5 68.6 L439.7 68.1 L440.9 67.7 L442.1 67.3 L443.3 67.0 L444.5 66.9 L445.7 67.0 L446.9 67.3 L448.1 67.6 L449.3 68.1 L450.5 68.6 L451.7 69.1 L452.9 69.6 L454.1 70.1 L455.3 70.5 L456.5 70.8 L457.7 71.1 L458.9 71.3 L460.1 71.5 L461.3 71.6 L462.5 71.7 L463.7 71.7 L464.9 71.8 L466.1 71.8 L467.3 71.9 L468.5 71.9 L469.7 71.9 L470.9 72.0 L472.1 72.0 L473.3 72.0 L474.5 72.1 L475.7 72.1" stroke="#ec0a12" stroke-width="1.7" fill="none" stroke-linejoin="round"/>
<path d="M409.7 83.0 L410.9 83.0 L412.1 83.0 L413.3 83.0 L414.5 83.0 L415.7 83.0 L416.9 83.0 L418.1 83.0 L419.3 83.0 L420.5 83.0 L421.7 83.0 L422.9 82.9 L424.1 82.9 L425.3 82.9 L426.5 82.8 L427.7 82.8 L428.9 82.7 L430.1 82.5 L431.3 82.2 L432.5 81.9 L433.7 81.5 L434.9 80.9 L436.1 80.3 L437.3 79.7 L438.5 79.1 L439.7 78.6 L440.9 78.4 L442.1 78.5 L443.3 78.9 L444.5 79.4 L445.7 80.0 L446.9 80.6 L448.1 81.1 L449.3 81.5 L450.5 81.8 L451.7 82.0 L452.9 82.1 L454.1 82.2 L455.3 82.2 L456.5 82.2 L457.7 82.2 L458.9 82.3 L460.1 82.8 L461.3 83.1 L462.5 83.1 L463.7 83.1 L464.9 83.1 L466.1 83.1 L467.3 83.1 L468.5 83.1 L469.7 83.1 L470.9 83.1 L472.1 83.1 L473.3 83.1 L474.5 83.1 L475.7 83.1" stroke="#2244ff" stroke-width="1.7" fill="none" stroke-linejoin="round"/>
<path d="M409.7 83.0 L410.9 83.0 L412.1 83.0 L413.3 83.0 L414.5 83.0 L415.7 83.0 L416.9 83.0 L418.1 83.0 L419.3 83.0 L420.5 82.9 L421.7 82.9 L422.9 82.9 L424.1 82.9 L425.3 82.8 L426.5 82.7 L427.7 82.6 L428.9 82.5 L430.1 82.3 L431.3 82.1 L432.5 81.8 L433.7 81.5 L434.9 81.1 L436.1 80.6 L437.3 80.1 L438.5 79.5 L439.7 79.0 L440.9 78.5 L442.1 78.0 L443.3 77.7 L444.5 77.5 L445.7 77.6 L446.9 77.7 L448.1 78.1 L449.3 78.5 L450.5 79.1 L451.7 79.6 L452.9 80.2 L454.1 80.7 L455.3 81.1 L456.5 81.5 L457.7 81.8 L458.9 82.0 L460.1 82.2 L461.3 82.3 L462.5 82.4 L463.7 82.5 L464.9 82.6 L466.1 82.6 L467.3 82.7 L468.5 82.7 L469.7 82.7 L470.9 82.8 L472.1 82.8 L473.3 82.8 L474.5 82.8 L475.7 82.9" stroke="#ec0a12" stroke-width="1.7" fill="none" stroke-linejoin="round"/>
<path d="M409.7 93.8 L410.9 93.8 L412.1 93.8 L413.3 93.8 L414.5 93.8 L415.7 93.8 L416.9 93.8 L418.1 93.8 L419.3 93.8 L420.5 93.8 L421.7 93.8 L422.9 93.7 L424.1 93.7 L425.3 93.7 L426.5 93.7 L427.7 93.6 L428.9 93.5 L430.1 93.4 L431.3 93.2 L432.5 92.9 L433.7 92.5 L434.9 92.0 L436.1 91.4 L437.3 90.7 L438.5 90.1 L439.7 89.5 L440.9 89.1 L442.1 89.1 L443.3 89.3 L444.5 89.8 L445.7 90.4 L446.9 91.0 L448.1 91.6 L449.3 92.1 L450.5 92.4 L451.7 92.7 L452.9 92.9 L454.1 92.9 L455.3 93.0 L456.5 93.0 L457.7 93.0 L458.9 93.1 L460.1 93.6 L461.3 93.9 L462.5 93.9 L463.7 93.9 L464.9 93.9 L466.1 93.9 L467.3 93.9 L468.5 93.9 L469.7 93.9 L470.9 93.9 L472.1 93.9 L473.3 93.9 L474.5 93.9 L475.7 93.9" stroke="#2244ff" stroke-width="1.7" fill="none" stroke-linejoin="round"/>
<path d="M409.7 93.8 L410.9 93.8 L412.1 93.8 L413.3 93.8 L414.5 93.8 L415.7 93.8 L416.9 93.8 L418.1 93.8 L419.3 93.8 L420.5 93.7 L421.7 93.7 L422.9 93.7 L424.1 93.7 L425.3 93.6 L426.5 93.6 L427.7 93.5 L428.9 93.4 L430.1 93.2 L431.3 93.0 L432.5 92.7 L433.7 92.4 L434.9 92.0 L436.1 91.5 L437.3 91.0 L438.5 90.4 L439.7 89.9 L440.9 89.3 L442.1 88.8 L443.3 88.4 L444.5 88.2 L445.7 88.1 L446.9 88.2 L448.1 88.5 L449.3 89.0 L450.5 89.5 L451.7 90.0 L452.9 90.6 L454.1 91.2 L455.3 91.7 L456.5 92.1 L457.7 92.4 L458.9 92.7 L460.1 92.9 L461.3 93.1 L462.5 93.2 L463.7 93.3 L464.9 93.3 L466.1 93.4 L467.3 93.4 L468.5 93.5 L469.7 93.5 L470.9 93.6 L472.1 93.6 L473.3 93.6 L474.5 93.6 L475.7 93.7" stroke="#ec0a12" stroke-width="1.7" fill="none" stroke-linejoin="round"/>
<path d="M409.7 104.6 L410.9 104.6 L412.1 104.6 L413.3 104.6 L414.5 104.6 L415.7 104.6 L416.9 104.6 L418.1 104.6 L419.3 104.6 L420.5 104.6 L421.7 104.6 L422.9 104.5 L424.1 104.5 L425.3 104.5 L426.5 104.5 L427.7 104.4 L428.9 104.4 L430.1 104.2 L431.3 104.1 L432.5 103.8 L433.7 103.5 L434.9 103.0 L436.1 102.5 L437.3 101.8 L438.5 101.1 L439.7 100.5 L440.9 99.9 L442.1 99.7 L443.3 99.8 L444.5 100.2 L445.7 100.8 L446.9 101.4 L448.1 102.0 L449.3 102.6 L450.5 103.0 L451.7 103.3 L452.9 103.6 L454.1 103.7 L455.3 103.7 L456.5 103.8 L457.7 103.7 L458.9 103.9 L460.1 104.4 L461.3 104.7 L462.5 104.7 L463.7 104.7 L464.9 104.7 L466.1 104.7 L467.3 104.7 L468.5 104.7 L469.7 104.7 L470.9 104.7 L472.1 104.7 L473.3 104.7 L474.5 104.7 L475.7 104.7" stroke="#2244ff" stroke-width="1.7" fill="none" stroke-linejoin="round"/>
<path d="M409.7 104.6 L410.9 104.6 L412.1 104.6 L413.3 104.6 L414.5 104.6 L415.7 104.6 L416.9 104.6 L418.1 104.6 L419.3 104.6 L420.5 104.5 L421.7 104.5 L422.9 104.5 L424.1 104.5 L425.3 104.4 L426.5 104.4 L427.7 104.3 L428.9 104.2 L430.1 104.0 L431.3 103.9 L432.5 103.6 L433.7 103.3 L434.9 102.9 L436.1 102.5 L437.3 101.9 L438.5 101.4 L439.7 100.8 L440.9 100.2 L442.1 99.7 L443.3 99.2 L444.5 98.9 L445.7 98.7 L446.9 98.7 L448.1 99.0 L449.3 99.4 L450.5 99.9 L451.7 100.4 L452.9 101.0 L454.1 101.6 L455.3 102.2 L456.5 102.6 L457.7 103.0 L458.9 103.4 L460.1 103.6 L461.3 103.8 L462.5 103.9 L463.7 104.0 L464.9 104.1 L466.1 104.2 L467.3 104.2 L468.5 104.3 L469.7 104.3 L470.9 104.3 L472.1 104.4 L473.3 104.4 L474.5 104.4 L475.7 104.5" stroke="#ec0a12" stroke-width="1.7" fill="none" stroke-linejoin="round"/>
<path d="M409.7 115.4 L410.9 115.4 L412.1 115.4 L413.3 115.4 L414.5 115.4 L415.7 115.4 L416.9 115.4 L418.1 115.4 L419.3 115.4 L420.5 115.4 L421.7 115.4 L422.9 115.3 L424.1 115.3 L425.3 115.3 L426.5 115.3 L427.7 115.2 L428.9 115.2 L430.1 115.1 L431.3 115.0 L432.5 114.8 L433.7 114.4 L434.9 114.0 L436.1 113.5 L437.3 112.8 L438.5 112.1 L439.7 111.3 L440.9 110.7 L442.1 110.2 L443.3 110.1 L444.5 110.3 L445.7 110.8 L446.9 111.5 L448.1 112.2 L449.3 112.9 L450.5 113.4 L451.7 113.8 L452.9 114.1 L454.1 114.3 L455.3 114.4 L456.5 114.5 L457.7 114.5 L458.9 114.7 L460.1 115.2 L461.3 115.5 L462.5 115.5 L463.7 115.5 L464.9 115.5 L466.1 115.5 L467.3 115.5 L468.5 115.5 L469.7 115.5 L470.9 115.5 L472.1 115.5 L473.3 115.5 L474.5 115.5 L475.7 115.5" stroke="#2244ff" stroke-width="1.7" fill="none" stroke-linejoin="round"/>
<path d="M409.7 115.4 L410.9 115.4 L412.1 115.4 L413.3 115.4 L414.5 115.4 L415.7 115.4 L416.9 115.4 L418.1 115.4 L419.3 115.4 L420.5 115.3 L421.7 115.3 L422.9 115.3 L424.1 115.3 L425.3 115.2 L426.5 115.2 L427.7 115.1 L428.9 115.0 L430.1 114.9 L431.3 114.7 L432.5 114.5 L433.7 114.2 L434.9 113.8 L436.1 113.4 L437.3 112.9 L438.5 112.3 L439.7 111.7 L440.9 111.1 L442.1 110.5 L443.3 109.9 L444.5 109.5 L445.7 109.3 L446.9 109.2 L448.1 109.3 L449.3 109.7 L450.5 110.1 L451.7 110.7 L452.9 111.4 L454.1 112.0 L455.3 112.6 L456.5 113.1 L457.7 113.6 L458.9 113.9 L460.1 114.2 L461.3 114.5 L462.5 114.6 L463.7 114.8 L464.9 114.9 L466.1 114.9 L467.3 115.0 L468.5 115.0 L469.7 115.1 L470.9 115.1 L472.1 115.2 L473.3 115.2 L474.5 115.2 L475.7 115.2" stroke="#ec0a12" stroke-width="1.7" fill="none" stroke-linejoin="round"/>
<path d="M409.7 126.2 L410.9 126.2 L412.1 126.2 L413.3 126.2 L414.5 126.2 L415.7 126.2 L416.9 126.2 L418.1 126.2 L419.3 126.2 L420.5 126.2 L421.7 126.2 L422.9 126.1 L424.1 126.1 L425.3 126.1 L426.5 126.1 L427.7 126.1 L428.9 126.0 L430.1 125.9 L431.3 125.8 L432.5 125.7 L433.7 125.4 L434.9 125.1 L436.1 124.6 L437.3 124.0 L438.5 123.2 L439.7 122.4 L440.9 121.6 L442.1 120.9 L443.3 120.5 L444.5 120.5 L445.7 120.9 L446.9 121.5 L448.1 122.3 L449.3 123.0 L450.5 123.7 L451.7 124.2 L452.9 124.6 L454.1 124.9 L455.3 125.1 L456.5 125.2 L457.7 125.2 L458.9 125.4 L460.1 126.0 L461.3 126.3 L462.5 126.3 L463.7 126.3 L464.9 126.3 L466.1 126.3 L467.3 126.3 L468.5 126.3 L469.7 126.3 L470.9 126.3 L472.1 126.3 L473.3 126.3 L474.5 126.3 L475.7 126.3" stroke="#2244ff" stroke-width="1.7" fill="none" stroke-linejoin="round"/>
<path d="M409.7 126.2 L410.9 126.2 L412.1 126.2 L413.3 126.2 L414.5 126.2 L415.7 126.2 L416.9 126.2 L418.1 126.2 L419.3 126.2 L420.5 126.1 L421.7 126.1 L422.9 126.1 L424.1 126.1 L425.3 126.0 L426.5 126.0 L427.7 125.9 L428.9 125.9 L430.1 125.7 L431.3 125.6 L432.5 125.4 L433.7 125.1 L434.9 124.8 L436.1 124.3 L437.3 123.8 L438.5 123.3 L439.7 122.7 L440.9 122.0 L442.1 121.4 L443.3 120.8 L444.5 120.2 L445.7 119.9 L446.9 119.7 L448.1 119.7 L449.3 120.0 L450.5 120.4 L451.7 121.0 L452.9 121.6 L454.1 122.3 L455.3 122.9 L456.5 123.5 L457.7 124.1 L458.9 124.5 L460.1 124.9 L461.3 125.1 L462.5 125.3 L463.7 125.5 L464.9 125.6 L466.1 125.7 L467.3 125.8 L468.5 125.8 L469.7 125.9 L470.9 125.9 L472.1 125.9 L473.3 126.0 L474.5 126.0 L475.7 126.0" stroke="#ec0a12" stroke-width="1.7" fill="none" stroke-linejoin="round"/>
<path d="M409.7 137.0 L410.9 137.0 L412.1 137.0 L413.3 137.0 L414.5 137.0 L415.7 137.0 L416.9 137.0 L418.1 137.0 L419.3 137.0 L420.5 137.0 L421.7 137.0 L422.9 136.9 L424.1 136.9 L425.3 136.9 L426.5 136.9 L427.7 136.9 L428.9 136.8 L430.1 136.8 L431.3 136.7 L432.5 136.6 L433.7 136.4 L434.9 136.1 L436.1 135.7 L437.3 135.1 L438.5 134.4 L439.7 133.6 L440.9 132.7 L442.1 131.8 L443.3 131.2 L444.5 130.8 L445.7 130.9 L446.9 131.4 L448.1 132.2 L449.3 133.0 L450.5 133.8 L451.7 134.5 L452.9 135.0 L454.1 135.4 L455.3 135.7 L456.5 135.8 L457.7 135.9 L458.9 136.1 L460.1 136.8 L461.3 137.1 L462.5 137.1 L463.7 137.1 L464.9 137.1 L466.1 137.1 L467.3 137.1 L468.5 137.1 L469.7 137.1 L470.9 137.1 L472.1 137.1 L473.3 137.1 L474.5 137.1 L475.7 137.1" stroke="#2244ff" stroke-width="1.7" fill="none" stroke-linejoin="round"/>
<path d="M409.7 137.0 L410.9 137.0 L412.1 137.0 L413.3 137.0 L414.5 137.0 L415.7 137.0 L416.9 137.0 L418.1 137.0 L419.3 136.9 L420.5 136.9 L421.7 136.9 L422.9 136.9 L424.1 136.9 L425.3 136.8 L426.5 136.8 L427.7 136.8 L428.9 136.7 L430.1 136.6 L431.3 136.4 L432.5 136.3 L433.7 136.0 L434.9 135.7 L436.1 135.3 L437.3 134.8 L438.5 134.3 L439.7 133.7 L440.9 133.0 L442.1 132.3 L443.3 131.6 L444.5 131.0 L445.7 130.6 L446.9 130.3 L448.1 130.2 L449.3 130.3 L450.5 130.6 L451.7 131.2 L452.9 131.8 L454.1 132.5 L455.3 133.2 L456.5 133.9 L457.7 134.5 L458.9 135.0 L460.1 135.4 L461.3 135.8 L462.5 136.0 L463.7 136.2 L464.9 136.3 L466.1 136.4 L467.3 136.5 L468.5 136.6 L469.7 136.6 L470.9 136.7 L472.1 136.7 L473.3 136.8 L474.5 136.8 L475.7 136.8" stroke="#ec0a12" stroke-width="1.7" fill="none" stroke-linejoin="round"/>
<path d="M409.7 147.8 L410.9 147.8 L412.1 147.8 L413.3 147.8 L414.5 147.8 L415.7 147.8 L416.9 147.8 L418.1 147.8 L419.3 147.8 L420.5 147.8 L421.7 147.8 L422.9 147.7 L424.1 147.7 L425.3 147.7 L426.5 147.7 L427.7 147.7 L428.9 147.6 L430.1 147.6 L431.3 147.5 L432.5 147.5 L433.7 147.3 L434.9 147.1 L436.1 146.8 L437.3 146.3 L438.5 145.7 L439.7 145.0 L440.9 144.0 L442.1 143.1 L443.3 142.2 L444.5 141.5 L445.7 141.2 L446.9 141.3 L448.1 141.9 L449.3 142.8 L450.5 143.7 L451.7 144.5 L452.9 145.2 L454.1 145.8 L455.3 146.2 L456.5 146.4 L457.7 146.5 L458.9 146.8 L460.1 147.5 L461.3 147.9 L462.5 147.9 L463.7 147.9 L464.9 147.9 L466.1 147.9 L467.3 147.9 L468.5 147.9 L469.7 147.9 L470.9 147.9 L472.1 147.9 L473.3 147.9 L474.5 147.9 L475.7 147.9" stroke="#2244ff" stroke-width="1.7" fill="none" stroke-linejoin="round"/>
<path d="M409.7 147.8 L410.9 147.8 L412.1 147.8 L413.3 147.8 L414.5 147.8 L415.7 147.8 L416.9 147.8 L418.1 147.8 L419.3 147.7 L420.5 147.7 L421.7 147.7 L422.9 147.7 L424.1 147.7 L425.3 147.7 L426.5 147.6 L427.7 147.6 L428.9 147.5 L430.1 147.4 L431.3 147.3 L432.5 147.1 L433.7 146.9 L434.9 146.6 L436.1 146.3 L437.3 145.8 L438.5 145.3 L439.7 144.7 L440.9 144.0 L442.1 143.3 L443.3 142.6 L444.5 141.9 L445.7 141.3 L446.9 140.9 L448.1 140.7 L449.3 140.7 L450.5 140.9 L451.7 141.4 L452.9 142.0 L454.1 142.7 L455.3 143.5 L456.5 144.2 L457.7 144.9 L458.9 145.4 L460.1 145.9 L461.3 146.3 L462.5 146.6 L463.7 146.9 L464.9 147.1 L466.1 147.2 L467.3 147.3 L468.5 147.4 L469.7 147.4 L470.9 147.5 L472.1 147.5 L473.3 147.5 L474.5 147.6 L475.7 147.6" stroke="#ec0a12" stroke-width="1.7" fill="none" stroke-linejoin="round"/>
<path d="M409.7 158.6 L410.9 158.6 L412.1 158.6 L413.3 158.6 L414.5 158.6 L415.7 158.6 L416.9 158.6 L418.1 158.6 L419.3 158.6 L420.5 158.6 L421.7 158.6 L422.9 158.5 L424.1 158.5 L425.3 158.5 L426.5 158.5 L427.7 158.5 L428.9 158.5 L430.1 158.4 L431.3 158.4 L432.5 158.3 L433.7 158.2 L434.9 158.1 L436.1 157.9 L437.3 157.5 L438.5 157.0 L439.7 156.4 L440.9 155.5 L442.1 154.5 L443.3 153.5 L444.5 152.5 L445.7 151.8 L446.9 151.5 L448.1 151.8 L449.3 152.5 L450.5 153.4 L451.7 154.3 L452.9 155.2 L454.1 155.9 L455.3 156.5 L456.5 156.9 L457.7 157.1 L458.9 157.5 L460.1 158.3 L461.3 158.7 L462.5 158.7 L463.7 158.7 L464.9 158.7 L466.1 158.7 L467.3 158.7 L468.5 158.7 L469.7 158.7 L470.9 158.7 L472.1 158.7 L473.3 158.7 L474.5 158.7 L475.7 158.7" stroke="#2244ff" stroke-width="1.7" fill="none" stroke-linejoin="round"/>
<path d="M409.7 158.6 L410.9 158.6 L412.1 158.6 L413.3 158.6 L414.5 158.6 L415.7 158.6 L416.9 158.6 L418.1 158.6 L419.3 158.5 L420.5 158.5 L421.7 158.5 L422.9 158.5 L424.1 158.5 L425.3 158.5 L426.5 158.4 L427.7 158.4 L428.9 158.3 L430.1 158.2 L431.3 158.1 L432.5 158.0 L433.7 157.8 L434.9 157.6 L436.1 157.2 L437.3 156.8 L438.5 156.3 L439.7 155.8 L440.9 155.1 L442.1 154.4 L443.3 153.6 L444.5 152.9 L445.7 152.2 L446.9 151.7 L448.1 151.3 L449.3 151.1 L450.5 151.2 L451.7 151.6 L452.9 152.1 L454.1 152.8 L455.3 153.6 L456.5 154.4 L457.7 155.1 L458.9 155.8 L460.1 156.4 L461.3 156.9 L462.5 157.2 L463.7 157.5 L464.9 157.7 L466.1 157.9 L467.3 158.0 L468.5 158.1 L469.7 158.2 L470.9 158.2 L472.1 158.3 L473.3 158.3 L474.5 158.4 L475.7 158.4" stroke="#ec0a12" stroke-width="1.7" fill="none" stroke-linejoin="round"/>
<path d="M409.7 169.4 L410.9 169.4 L412.1 169.4 L413.3 169.4 L414.5 169.4 L415.7 169.4 L416.9 169.4 L418.1 169.4 L419.3 169.4 L420.5 169.4 L421.7 169.4 L422.9 169.3 L424.1 169.3 L425.3 169.3 L426.5 169.3 L427.7 169.3 L428.9 169.3 L430.1 169.2 L431.3 169.2 L432.5 169.2 L433.7 169.1 L434.9 169.0 L436.1 168.9 L437.3 168.6 L438.5 168.3 L439.7 167.8 L440.9 167.0 L442.1 166.2 L443.3 165.1 L444.5 164.0 L445.7 162.9 L446.9 162.2 L448.1 161.9 L449.3 162.2 L450.5 162.9 L451.7 163.9 L452.9 164.9 L454.1 165.8 L455.3 166.6 L456.5 167.2 L457.7 167.6 L458.9 168.1 L460.1 169.0 L461.3 169.5 L462.5 169.5 L463.7 169.5 L464.9 169.5 L466.1 169.5 L467.3 169.5 L468.5 169.5 L469.7 169.5 L470.9 169.5 L472.1 169.5 L473.3 169.5 L474.5 169.5 L475.7 169.5" stroke="#2244ff" stroke-width="1.7" fill="none" stroke-linejoin="round"/>
<path d="M409.7 169.4 L410.9 169.4 L412.1 169.4 L413.3 169.4 L414.5 169.4 L415.7 169.4 L416.9 169.4 L418.1 169.3 L419.3 169.3 L420.5 169.3 L421.7 169.3 L422.9 169.3 L424.1 169.3 L425.3 169.2 L426.5 169.2 L427.7 169.2 L428.9 169.1 L430.1 169.1 L431.3 169.0 L432.5 168.9 L433.7 168.7 L434.9 168.5 L436.1 168.2 L437.3 167.8 L438.5 167.4 L439.7 166.8 L440.9 166.2 L442.1 165.5 L443.3 164.7 L444.5 163.9 L445.7 163.2 L446.9 162.5 L448.1 162.0 L449.3 161.7 L450.5 161.6 L451.7 161.8 L452.9 162.3 L454.1 162.9 L455.3 163.7 L456.5 164.5 L457.7 165.4 L458.9 166.1 L460.1 166.8 L461.3 167.3 L462.5 167.8 L463.7 168.1 L464.9 168.4 L466.1 168.6 L467.3 168.7 L468.5 168.9 L469.7 168.9 L470.9 169.0 L472.1 169.1 L473.3 169.1 L474.5 169.1 L475.7 169.2" stroke="#ec0a12" stroke-width="1.7" fill="none" stroke-linejoin="round"/>
<path d="M409.7 180.2 L410.9 180.2 L412.1 180.2 L413.3 180.2 L414.5 180.2 L415.7 180.2 L416.9 180.2 L418.1 180.2 L419.3 180.2 L420.5 180.2 L421.7 180.2 L422.9 180.1 L424.1 180.1 L425.3 180.1 L426.5 180.1 L427.7 180.1 L428.9 180.1 L430.1 180.0 L431.3 180.0 L432.5 180.0 L433.7 179.9 L434.9 179.9 L436.1 179.8 L437.3 179.6 L438.5 179.4 L439.7 179.0 L440.9 178.5 L442.1 177.8 L443.3 176.9 L444.5 175.8 L445.7 174.6 L446.9 173.4 L448.1 172.6 L449.3 172.2 L450.5 172.5 L451.7 173.3 L452.9 174.3 L454.1 175.4 L455.3 176.4 L456.5 177.2 L457.7 177.9 L458.9 178.6 L460.1 179.8 L461.3 180.3 L462.5 180.3 L463.7 180.3 L464.9 180.3 L466.1 180.3 L467.3 180.3 L468.5 180.3 L469.7 180.3 L470.9 180.3 L472.1 180.3 L473.3 180.3 L474.5 180.3 L475.7 180.3" stroke="#2244ff" stroke-width="1.7" fill="none" stroke-linejoin="round"/>
<path d="M409.7 180.2 L410.9 180.2 L412.1 180.2 L413.3 180.2 L414.5 180.2 L415.7 180.2 L416.9 180.2 L418.1 180.1 L419.3 180.1 L420.5 180.1 L421.7 180.1 L422.9 180.1 L424.1 180.1 L425.3 180.0 L426.5 180.0 L427.7 180.0 L428.9 179.9 L430.1 179.9 L431.3 179.8 L432.5 179.7 L433.7 179.6 L434.9 179.4 L436.1 179.1 L437.3 178.8 L438.5 178.4 L439.7 177.9 L440.9 177.3 L442.1 176.6 L443.3 175.8 L444.5 175.0 L445.7 174.2 L446.9 173.5 L448.1 172.8 L449.3 172.4 L450.5 172.1 L451.7 172.2 L452.9 172.5 L454.1 173.0 L455.3 173.8 L456.5 174.6 L457.7 175.5 L458.9 176.3 L460.1 177.1 L461.3 177.7 L462.5 178.3 L463.7 178.7 L464.9 179.0 L466.1 179.3 L467.3 179.5 L468.5 179.6 L469.7 179.7 L470.9 179.8 L472.1 179.8 L473.3 179.9 L474.5 179.9 L475.7 180.0" stroke="#ec0a12" stroke-width="1.7" fill="none" stroke-linejoin="round"/>
<path d="M409.7 191.0 L410.9 191.0 L412.1 191.0 L413.3 191.0 L414.5 191.0 L415.7 191.0 L416.9 191.0 L418.1 191.0 L419.3 191.0 L420.5 191.0 L421.7 191.0 L422.9 190.9 L424.1 190.9 L425.3 190.9 L426.5 190.9 L427.7 190.9 L428.9 190.9 L430.1 190.8 L431.3 190.8 L432.5 190.8 L433.7 190.8 L434.9 190.7 L436.1 190.7 L437.3 190.6 L438.5 190.4 L439.7 190.2 L440.9 189.9 L442.1 189.3 L443.3 188.6 L444.5 187.7 L445.7 186.5 L446.9 185.3 L448.1 184.0 L449.3 183.1 L450.5 182.6 L451.7 182.8 L452.9 183.6 L454.1 184.7 L455.3 185.8 L456.5 186.9 L457.7 187.8 L458.9 188.9 L460.1 190.4 L461.3 191.0 L462.5 191.1 L463.7 191.1 L464.9 191.1 L466.1 191.1 L467.3 191.1 L468.5 191.1 L469.7 191.1 L470.9 191.1 L472.1 191.1 L473.3 191.1 L474.5 191.1 L475.7 191.1" stroke="#2244ff" stroke-width="1.7" fill="none" stroke-linejoin="round"/>
<path d="M409.7 191.0 L410.9 191.0 L412.1 191.0 L413.3 191.0 L414.5 191.0 L415.7 191.0 L416.9 191.0 L418.1 190.9 L419.3 190.9 L420.5 190.9 L421.7 190.9 L422.9 190.9 L424.1 190.9 L425.3 190.8 L426.5 190.8 L427.7 190.8 L428.9 190.7 L430.1 190.7 L431.3 190.6 L432.5 190.6 L433.7 190.4 L434.9 190.3 L436.1 190.1 L437.3 189.8 L438.5 189.4 L439.7 189.0 L440.9 188.4 L442.1 187.8 L443.3 187.0 L444.5 186.2 L445.7 185.4 L446.9 184.5 L448.1 183.8 L449.3 183.2 L450.5 182.7 L451.7 182.6 L452.9 182.7 L454.1 183.2 L455.3 183.8 L456.5 184.6 L457.7 185.5 L458.9 186.4 L460.1 187.3 L461.3 188.0 L462.5 188.7 L463.7 189.2 L464.9 189.6 L466.1 189.9 L467.3 190.1 L468.5 190.3 L469.7 190.4 L470.9 190.5 L472.1 190.6 L473.3 190.7 L474.5 190.7 L475.7 190.7" stroke="#ec0a12" stroke-width="1.7" fill="none" stroke-linejoin="round"/>
<path d="M409.7 201.8 L410.9 201.8 L412.1 201.8 L413.3 201.8 L414.5 201.8 L415.7 201.8 L416.9 201.8 L418.1 201.8 L419.3 201.8 L420.5 201.8 L421.7 201.8 L422.9 201.7 L424.1 201.7 L425.3 201.7 L426.5 201.7 L427.7 201.7 L428.9 201.7 L430.1 201.6 L431.3 201.6 L432.5 201.6 L433.7 201.6 L434.9 201.5 L436.1 201.5 L437.3 201.4 L438.5 201.3 L439.7 201.2 L440.9 201.0 L442.1 200.7 L443.3 200.1 L444.5 199.4 L445.7 198.4 L446.9 197.2 L448.1 195.8 L449.3 194.4 L450.5 193.3 L451.7 192.6 L452.9 192.7 L454.1 193.5 L455.3 194.6 L456.5 195.9 L457.7 197.2 L458.9 198.8 L460.1 200.9 L461.3 201.8 L462.5 201.9 L463.7 201.9 L464.9 201.9 L466.1 201.9 L467.3 201.9 L468.5 201.9 L469.7 201.9 L470.9 201.9 L472.1 201.9 L473.3 201.9 L474.5 201.9 L475.7 201.9" stroke="#2244ff" stroke-width="1.7" fill="none" stroke-linejoin="round"/>
<path d="M409.7 201.8 L410.9 201.8 L412.1 201.8 L413.3 201.8 L414.5 201.8 L415.7 201.8 L416.9 201.7 L418.1 201.7 L419.3 201.7 L420.5 201.7 L421.7 201.7 L422.9 201.7 L424.1 201.6 L425.3 201.6 L426.5 201.6 L427.7 201.6 L428.9 201.5 L430.1 201.5 L431.3 201.4 L432.5 201.4 L433.7 201.3 L434.9 201.1 L436.1 201.0 L437.3 200.7 L438.5 200.4 L439.7 200.0 L440.9 199.5 L442.1 199.0 L443.3 198.3 L444.5 197.5 L445.7 196.6 L446.9 195.8 L448.1 194.9 L449.3 194.2 L450.5 193.6 L451.7 193.3 L452.9 193.2 L454.1 193.5 L455.3 194.0 L456.5 194.7 L457.7 195.6 L458.9 196.5 L460.1 197.4 L461.3 198.3 L462.5 199.0 L463.7 199.6 L464.9 200.1 L466.1 200.5 L467.3 200.7 L468.5 201.0 L469.7 201.1 L470.9 201.2 L472.1 201.3 L473.3 201.4 L474.5 201.5 L475.7 201.5" stroke="#ec0a12" stroke-width="1.7" fill="none" stroke-linejoin="round"/>
<path d="M409.7 212.6 L410.9 212.6 L412.1 212.6 L413.3 212.6 L414.5 212.6 L415.7 212.6 L416.9 212.6 L418.1 212.6 L419.3 212.6 L420.5 212.6 L421.7 212.6 L422.9 212.5 L424.1 212.5 L425.3 212.5 L426.5 212.5 L427.7 212.5 L428.9 212.5 L430.1 212.4 L431.3 212.4 L432.5 212.4 L433.7 212.4 L434.9 212.3 L436.1 212.3 L437.3 212.3 L438.5 212.2 L439.7 212.1 L440.9 212.0 L442.1 211.8 L443.3 211.5 L444.5 211.0 L445.7 210.3 L446.9 209.3 L448.1 208.0 L449.3 206.5 L450.5 205.0 L451.7 203.6 L452.9 202.7 L454.1 202.6 L455.3 203.3 L456.5 204.5 L457.7 205.9 L458.9 208.1 L460.1 211.3 L461.3 212.6 L462.5 212.7 L463.7 212.7 L464.9 212.7 L466.1 212.7 L467.3 212.7 L468.5 212.7 L469.7 212.7 L470.9 212.7 L472.1 212.7 L473.3 212.7 L474.5 212.7 L475.7 212.7" stroke="#2244ff" stroke-width="1.7" fill="none" stroke-linejoin="round"/>
<path d="M409.7 212.6 L410.9 212.6 L412.1 212.6 L413.3 212.6 L414.5 212.6 L415.7 212.5 L416.9 212.5 L418.1 212.5 L419.3 212.5 L420.5 212.5 L421.7 212.5 L422.9 212.5 L424.1 212.4 L425.3 212.4 L426.5 212.4 L427.7 212.4 L428.9 212.3 L430.1 212.3 L431.3 212.2 L432.5 212.2 L433.7 212.1 L434.9 212.0 L436.1 211.8 L437.3 211.7 L438.5 211.4 L439.7 211.1 L440.9 210.6 L442.1 210.1 L443.3 209.5 L444.5 208.7 L445.7 207.9 L446.9 207.0 L448.1 206.2 L449.3 205.4 L450.5 204.7 L451.7 204.2 L452.9 203.9 L454.1 203.9 L455.3 204.3 L456.5 204.8 L457.7 205.6 L458.9 206.6 L460.1 207.5 L461.3 208.4 L462.5 209.2 L463.7 209.9 L464.9 210.5 L466.1 211.0 L467.3 211.3 L468.5 211.6 L469.7 211.8 L470.9 211.9 L472.1 212.0 L473.3 212.1 L474.5 212.2 L475.7 212.3" stroke="#ec0a12" stroke-width="1.7" fill="none" stroke-linejoin="round"/>
<path d="M409.7 223.4 L410.9 223.4 L412.1 223.4 L413.3 223.4 L414.5 223.4 L415.7 223.4 L416.9 223.4 L418.1 223.4 L419.3 223.4 L420.5 223.4 L421.7 223.4 L422.9 223.3 L424.1 223.3 L425.3 223.3 L426.5 223.3 L427.7 223.3 L428.9 223.3 L430.1 223.3 L431.3 223.2 L432.5 223.2 L433.7 223.2 L434.9 223.2 L436.1 223.1 L437.3 223.1 L438.5 223.0 L439.7 223.0 L440.9 222.9 L442.1 222.8 L443.3 222.6 L444.5 222.3 L445.7 221.9 L446.9 221.2 L448.1 220.3 L449.3 219.0 L450.5 217.5 L451.7 215.8 L452.9 214.2 L454.1 213.0 L455.3 212.5 L456.5 213.0 L457.7 214.2 L458.9 217.0 L460.1 221.4 L461.3 223.3 L462.5 223.5 L463.7 223.5 L464.9 223.5 L466.1 223.5 L467.3 223.5 L468.5 223.5 L469.7 223.5 L470.9 223.5 L472.1 223.5 L473.3 223.5 L474.5 223.5 L475.7 223.5" stroke="#2244ff" stroke-width="1.7" fill="none" stroke-linejoin="round"/>
<path d="M409.7 223.4 L410.9 223.4 L412.1 223.4 L413.3 223.4 L414.5 223.3 L415.7 223.3 L416.9 223.3 L418.1 223.3 L419.3 223.3 L420.5 223.3 L421.7 223.3 L422.9 223.2 L424.1 223.2 L425.3 223.2 L426.5 223.2 L427.7 223.1 L428.9 223.1 L430.1 223.1 L431.3 223.0 L432.5 223.0 L433.7 222.9 L434.9 222.8 L436.1 222.7 L437.3 222.5 L438.5 222.3 L439.7 222.0 L440.9 221.7 L442.1 221.2 L443.3 220.6 L444.5 220.0 L445.7 219.2 L446.9 218.3 L448.1 217.5 L449.3 216.6 L450.5 215.8 L451.7 215.1 L452.9 214.7 L454.1 214.5 L455.3 214.6 L456.5 215.0 L457.7 215.7 L458.9 216.6 L460.1 217.5 L461.3 218.5 L462.5 219.4 L463.7 220.2 L464.9 220.9 L466.1 221.4 L467.3 221.8 L468.5 222.2 L469.7 222.4 L470.9 222.6 L472.1 222.7 L473.3 222.9 L474.5 222.9 L475.7 223.0" stroke="#ec0a12" stroke-width="1.7" fill="none" stroke-linejoin="round"/>
<path d="M409.7 234.2 L410.9 234.2 L412.1 234.2 L413.3 234.2 L414.5 234.2 L415.7 234.2 L416.9 234.2 L418.1 234.2 L419.3 234.2 L420.5 234.2 L421.7 234.2 L422.9 234.2 L424.1 234.2 L425.3 234.1 L426.5 234.1 L427.7 234.1 L428.9 234.1 L430.1 234.1 L431.3 234.1 L432.5 234.0 L433.7 234.0 L434.9 234.0 L436.1 234.0 L437.3 233.9 L438.5 233.9 L439.7 233.9 L440.9 233.8 L442.1 233.7 L443.3 233.6 L444.5 233.5 L445.7 233.3 L446.9 232.9 L448.1 232.4 L449.3 231.6 L450.5 230.5 L451.7 229.1 L452.9 227.4 L454.1 225.8 L455.3 224.3 L456.5 223.5 L457.7 223.7 L458.9 226.3 L460.1 231.7 L461.3 234.1 L462.5 234.3 L463.7 234.3 L464.9 234.3 L466.1 234.3 L467.3 234.3 L468.5 234.3 L469.7 234.3 L470.9 234.3 L472.1 234.3 L473.3 234.3 L474.5 234.3 L475.7 234.3" stroke="#2244ff" stroke-width="1.7" fill="none" stroke-linejoin="round"/>
<path d="M409.7 234.2 L410.9 234.2 L412.1 234.2 L413.3 234.2 L414.5 234.1 L415.7 234.1 L416.9 234.1 L418.1 234.1 L419.3 234.1 L420.5 234.1 L421.7 234.1 L422.9 234.0 L424.1 234.0 L425.3 234.0 L426.5 234.0 L427.7 234.0 L428.9 233.9 L430.1 233.9 L431.3 233.8 L432.5 233.8 L433.7 233.7 L434.9 233.7 L436.1 233.6 L437.3 233.5 L438.5 233.3 L439.7 233.1 L440.9 232.8 L442.1 232.5 L443.3 232.0 L444.5 231.5 L445.7 230.8 L446.9 230.1 L448.1 229.3 L449.3 228.5 L450.5 227.7 L451.7 227.0 L452.9 226.5 L454.1 226.1 L455.3 226.1 L456.5 226.2 L457.7 226.7 L458.9 227.4 L460.1 228.2 L461.3 229.1 L462.5 229.9 L463.7 230.7 L464.9 231.4 L466.1 232.0 L467.3 232.5 L468.5 232.9 L469.7 233.1 L470.9 233.4 L472.1 233.5 L473.3 233.6 L474.5 233.7 L475.7 233.8" stroke="#ec0a12" stroke-width="1.7" fill="none" stroke-linejoin="round"/>
<path d="M409.7 245.0 L410.9 245.0 L412.1 245.0 L413.3 245.0 L414.5 245.0 L415.7 245.0 L416.9 245.0 L418.1 245.0 L419.3 245.0 L420.5 245.0 L421.7 245.0 L422.9 245.0 L424.1 245.0 L425.3 244.9 L426.5 244.9 L427.7 244.9 L428.9 244.9 L430.1 244.9 L431.3 244.9 L432.5 244.9 L433.7 244.8 L434.9 244.8 L436.1 244.8 L437.3 244.8 L438.5 244.7 L439.7 244.7 L440.9 244.6 L442.1 244.6 L443.3 244.5 L444.5 244.5 L445.7 244.3 L446.9 244.2 L448.1 243.9 L449.3 243.4 L450.5 242.7 L451.7 241.7 L452.9 240.4 L454.1 238.9 L455.3 237.1 L456.5 235.5 L457.7 234.5 L458.9 236.2 L460.1 242.0 L461.3 244.8 L462.5 245.1 L463.7 245.1 L464.9 245.1 L466.1 245.1 L467.3 245.1 L468.5 245.1 L469.7 245.1 L470.9 245.1 L472.1 245.1 L473.3 245.1 L474.5 245.1 L475.7 245.1" stroke="#2244ff" stroke-width="1.7" fill="none" stroke-linejoin="round"/>
<path d="M409.7 245.0 L410.9 245.0 L412.1 245.0 L413.3 245.0 L414.5 245.0 L415.7 244.9 L416.9 244.9 L418.1 244.9 L419.3 244.9 L420.5 244.9 L421.7 244.9 L422.9 244.9 L424.1 244.8 L425.3 244.8 L426.5 244.8 L427.7 244.8 L428.9 244.7 L430.1 244.7 L431.3 244.7 L432.5 244.6 L433.7 244.6 L434.9 244.5 L436.1 244.5 L437.3 244.4 L438.5 244.2 L439.7 244.1 L440.9 243.9 L442.1 243.6 L443.3 243.3 L444.5 242.9 L445.7 242.3 L446.9 241.7 L448.1 241.1 L449.3 240.4 L450.5 239.6 L451.7 238.9 L452.9 238.3 L454.1 237.9 L455.3 237.6 L456.5 237.6 L457.7 237.9 L458.9 238.3 L460.1 239.0 L461.3 239.7 L462.5 240.5 L463.7 241.3 L464.9 242.0 L466.1 242.6 L467.3 243.1 L468.5 243.5 L469.7 243.8 L470.9 244.1 L472.1 244.3 L473.3 244.4 L474.5 244.5 L475.7 244.6" stroke="#ec0a12" stroke-width="1.7" fill="none" stroke-linejoin="round"/>
<path d="M409.7 255.8 L410.9 255.8 L412.1 255.8 L413.3 255.8 L414.5 255.8 L415.7 255.8 L416.9 255.8 L418.1 255.8 L419.3 255.8 L420.5 255.8 L421.7 255.8 L422.9 255.8 L424.1 255.7 L425.3 255.7 L426.5 255.7 L427.7 255.7 L428.9 255.7 L430.1 255.7 L431.3 255.7 L432.5 255.6 L433.7 255.6 L434.9 255.6 L436.1 255.6 L437.3 255.5 L438.5 255.5 L439.7 255.5 L440.9 255.4 L442.1 255.4 L443.3 255.3 L444.5 255.3 L445.7 255.2 L446.9 255.1 L448.1 254.9 L449.3 254.6 L450.5 254.2 L451.7 253.6 L452.9 252.6 L454.1 251.3 L455.3 249.6 L456.5 247.6 L457.7 245.7 L458.9 246.5 L460.1 252.4 L461.3 255.6 L462.5 255.9 L463.7 255.9 L464.9 255.9 L466.1 255.9 L467.3 255.9 L468.5 255.9 L469.7 255.9 L470.9 255.9 L472.1 255.9 L473.3 255.9 L474.5 255.9 L475.7 255.9" stroke="#2244ff" stroke-width="1.7" fill="none" stroke-linejoin="round"/>
<path d="M409.7 255.8 L410.9 255.8 L412.1 255.8 L413.3 255.8 L414.5 255.8 L415.7 255.8 L416.9 255.7 L418.1 255.7 L419.3 255.7 L420.5 255.7 L421.7 255.7 L422.9 255.7 L424.1 255.7 L425.3 255.6 L426.5 255.6 L427.7 255.6 L428.9 255.6 L430.1 255.5 L431.3 255.5 L432.5 255.5 L433.7 255.4 L434.9 255.4 L436.1 255.3 L437.3 255.3 L438.5 255.2 L439.7 255.1 L440.9 254.9 L442.1 254.8 L443.3 254.5 L444.5 254.2 L445.7 253.9 L446.9 253.4 L448.1 252.9 L449.3 252.3 L450.5 251.7 L451.7 251.1 L452.9 250.6 L454.1 250.1 L455.3 249.8 L456.5 249.6 L457.7 249.7 L458.9 249.9 L460.1 250.3 L461.3 250.9 L462.5 251.6 L463.7 252.2 L464.9 252.9 L466.1 253.4 L467.3 253.9 L468.5 254.3 L469.7 254.6 L470.9 254.9 L472.1 255.1 L473.3 255.2 L474.5 255.3 L475.7 255.4" stroke="#ec0a12" stroke-width="1.7" fill="none" stroke-linejoin="round"/>
<path d="M409.7 266.5 L410.9 266.5 L412.1 266.5 L413.3 266.5 L414.5 266.5 L415.7 266.5 L416.9 266.5 L418.1 266.4 L419.3 266.4 L420.5 266.4 L421.7 266.4 L422.9 266.3 L424.1 266.3 L425.3 266.3 L426.5 266.3 L427.7 266.2 L428.9 266.2 L430.1 266.1 L431.3 266.1 L432.5 266.0 L433.7 266.0 L434.9 265.9 L436.1 265.9 L437.3 265.8 L438.5 265.7 L439.7 265.6 L440.9 265.5 L442.1 265.4 L443.3 265.3 L444.5 265.2 L445.7 265.1 L446.9 264.9 L448.1 264.7 L449.3 264.5 L450.5 264.2 L451.7 263.8 L452.9 263.2 L454.1 262.3 L455.3 261.0 L456.5 259.4 L457.7 257.5 L458.9 257.9 L460.1 263.3 L461.3 266.4 L462.5 266.7 L463.7 266.7 L464.9 266.7 L466.1 266.7 L467.3 266.7 L468.5 266.7 L469.7 266.7 L470.9 266.7 L472.1 266.7 L473.3 266.7 L474.5 266.7 L475.7 266.7" stroke="#2244ff" stroke-width="1.7" fill="none" stroke-linejoin="round"/>
<path d="M409.7 266.6 L410.9 266.6 L412.1 266.5 L413.3 266.5 L414.5 266.5 L415.7 266.5 L416.9 266.5 L418.1 266.5 L419.3 266.5 L420.5 266.4 L421.7 266.4 L422.9 266.4 L424.1 266.4 L425.3 266.3 L426.5 266.3 L427.7 266.3 L428.9 266.2 L430.1 266.2 L431.3 266.2 L432.5 266.1 L433.7 266.1 L434.9 266.0 L436.1 265.9 L437.3 265.9 L438.5 265.8 L439.7 265.7 L440.9 265.5 L442.1 265.3 L443.3 265.1 L444.5 264.8 L445.7 264.5 L446.9 264.1 L448.1 263.7 L449.3 263.2 L450.5 262.7 L451.7 262.2 L452.9 261.7 L454.1 261.3 L455.3 261.0 L456.5 260.9 L457.7 260.9 L458.9 261.1 L460.1 261.5 L461.3 262.0 L462.5 262.5 L463.7 263.1 L464.9 263.6 L466.1 264.1 L467.3 264.5 L468.5 264.9 L469.7 265.2 L470.9 265.4 L472.1 265.6 L473.3 265.8 L474.5 265.9 L475.7 266.0" stroke="#ec0a12" stroke-width="1.7" fill="none" stroke-linejoin="round"/>
<path d="M409.7 277.4 L410.9 277.4 L412.1 277.4 L413.3 277.4 L414.5 277.3 L415.7 277.3 L416.9 277.3 L418.1 277.3 L419.3 277.3 L420.5 277.3 L421.7 277.3 L422.9 277.2 L424.1 277.2 L425.3 277.2 L426.5 277.2 L427.7 277.1 L428.9 277.1 L430.1 277.1 L431.3 277.0 L432.5 277.0 L433.7 277.0 L434.9 276.9 L436.1 276.9 L437.3 276.8 L438.5 276.8 L439.7 276.7 L440.9 276.6 L442.1 276.5 L443.3 276.5 L444.5 276.4 L445.7 276.3 L446.9 276.2 L448.1 276.1 L449.3 275.9 L450.5 275.8 L451.7 275.6 L452.9 275.4 L454.1 275.1 L455.3 274.7 L456.5 274.1 L457.7 273.5 L458.9 273.7 L460.1 276.0 L461.3 277.4 L462.5 277.5 L463.7 277.5 L464.9 277.5 L466.1 277.5 L467.3 277.5 L468.5 277.5 L469.7 277.5 L470.9 277.5 L472.1 277.5 L473.3 277.5 L474.5 277.5 L475.7 277.5" stroke="#2244ff" stroke-width="1.7" fill="none" stroke-linejoin="round"/>
<path d="M409.7 277.3 L410.9 277.3 L412.1 277.3 L413.3 277.3 L414.5 277.3 L415.7 277.3 L416.9 277.3 L418.1 277.2 L419.3 277.2 L420.5 277.2 L421.7 277.2 L422.9 277.1 L424.1 277.1 L425.3 277.1 L426.5 277.0 L427.7 277.0 L428.9 277.0 L430.1 276.9 L431.3 276.9 L432.5 276.8 L433.7 276.8 L434.9 276.7 L436.1 276.6 L437.3 276.6 L438.5 276.5 L439.7 276.3 L440.9 276.2 L442.1 276.0 L443.3 275.8 L444.5 275.6 L445.7 275.3 L446.9 275.0 L448.1 274.6 L449.3 274.2 L450.5 273.7 L451.7 273.3 L452.9 272.9 L454.1 272.6 L455.3 272.3 L456.5 272.2 L457.7 272.2 L458.9 272.4 L460.1 272.7 L461.3 273.1 L462.5 273.5 L463.7 274.0 L464.9 274.5 L466.1 274.9 L467.3 275.3 L468.5 275.6 L469.7 275.9 L470.9 276.1 L472.1 276.3 L473.3 276.4 L474.5 276.5 L475.7 276.6" stroke="#ec0a12" stroke-width="1.7" fill="none" stroke-linejoin="round"/>
<path d="M409.7 288.2 L410.9 288.2 L412.1 288.2 L413.3 288.2 L414.5 288.1 L415.7 288.1 L416.9 288.1 L418.1 288.1 L419.3 288.1 L420.5 288.1 L421.7 288.1 L422.9 288.0 L424.1 288.0 L425.3 288.0 L426.5 288.0 L427.7 287.9 L428.9 287.9 L430.1 287.9 L431.3 287.8 L432.5 287.8 L433.7 287.8 L434.9 287.7 L436.1 287.7 L437.3 287.6 L438.5 287.6 L439.7 287.5 L440.9 287.4 L442.1 287.4 L443.3 287.3 L444.5 287.2 L445.7 287.1 L446.9 287.0 L448.1 286.9 L449.3 286.8 L450.5 286.6 L451.7 286.5 L452.9 286.3 L454.1 286.1 L455.3 285.9 L456.5 285.5 L457.7 285.2 L458.9 285.4 L460.1 287.2 L461.3 288.2 L462.5 288.3 L463.7 288.3 L464.9 288.3 L466.1 288.3 L467.3 288.3 L468.5 288.3 L469.7 288.3 L470.9 288.3 L472.1 288.3 L473.3 288.3 L474.5 288.3 L475.7 288.3" stroke="#2244ff" stroke-width="1.7" fill="none" stroke-linejoin="round"/>
<path d="M409.7 288.2 L410.9 288.1 L412.1 288.1 L413.3 288.1 L414.5 288.1 L415.7 288.1 L416.9 288.1 L418.1 288.1 L419.3 288.0 L420.5 288.0 L421.7 288.0 L422.9 288.0 L424.1 287.9 L425.3 287.9 L426.5 287.9 L427.7 287.8 L428.9 287.8 L430.1 287.8 L431.3 287.7 L432.5 287.7 L433.7 287.6 L434.9 287.6 L436.1 287.5 L437.3 287.4 L438.5 287.3 L439.7 287.2 L440.9 287.1 L442.1 287.0 L443.3 286.8 L444.5 286.6 L445.7 286.3 L446.9 286.0 L448.1 285.7 L449.3 285.4 L450.5 285.0 L451.7 284.6 L452.9 284.3 L454.1 284.0 L455.3 283.8 L456.5 283.7 L457.7 283.7 L458.9 283.9 L460.1 284.1 L461.3 284.4 L462.5 284.8 L463.7 285.2 L464.9 285.6 L466.1 286.0 L467.3 286.3 L468.5 286.6 L469.7 286.8 L470.9 287.0 L472.1 287.2 L473.3 287.3 L474.5 287.4 L475.7 287.5" stroke="#ec0a12" stroke-width="1.7" fill="none" stroke-linejoin="round"/>
<path d="M409.7 299.0 L410.9 299.0 L412.1 299.0 L413.3 299.0 L414.5 299.0 L415.7 299.0 L416.9 298.9 L418.1 298.9 L419.3 298.9 L420.5 298.9 L421.7 298.9 L422.9 298.9 L424.1 298.9 L425.3 298.8 L426.5 298.8 L427.7 298.8 L428.9 298.8 L430.1 298.7 L431.3 298.7 L432.5 298.7 L433.7 298.6 L434.9 298.6 L436.1 298.6 L437.3 298.5 L438.5 298.5 L439.7 298.4 L440.9 298.4 L442.1 298.3 L443.3 298.2 L444.5 298.2 L445.7 298.1 L446.9 298.0 L448.1 297.9 L449.3 297.8 L450.5 297.7 L451.7 297.6 L452.9 297.4 L454.1 297.3 L455.3 297.1 L456.5 296.9 L457.7 296.7 L458.9 297.0 L460.1 298.3 L461.3 299.0 L462.5 299.1 L463.7 299.1 L464.9 299.1 L466.1 299.1 L467.3 299.1 L468.5 299.1 L469.7 299.1 L470.9 299.1 L472.1 299.1 L473.3 299.1 L474.5 299.1 L475.7 299.1" stroke="#2244ff" stroke-width="1.7" fill="none" stroke-linejoin="round"/>
<path d="M409.7 299.0 L410.9 298.9 L412.1 298.9 L413.3 298.9 L414.5 298.9 L415.7 298.9 L416.9 298.9 L418.1 298.9 L419.3 298.8 L420.5 298.8 L421.7 298.8 L422.9 298.8 L424.1 298.7 L425.3 298.7 L426.5 298.7 L427.7 298.6 L428.9 298.6 L430.1 298.6 L431.3 298.5 L432.5 298.5 L433.7 298.4 L434.9 298.4 L436.1 298.3 L437.3 298.2 L438.5 298.1 L439.7 298.1 L440.9 297.9 L442.1 297.8 L443.3 297.6 L444.5 297.4 L445.7 297.2 L446.9 296.9 L448.1 296.6 L449.3 296.3 L450.5 296.0 L451.7 295.6 L452.9 295.3 L454.1 295.1 L455.3 294.9 L456.5 294.8 L457.7 294.8 L458.9 294.9 L460.1 295.2 L461.3 295.5 L462.5 295.8 L463.7 296.2 L464.9 296.5 L466.1 296.9 L467.3 297.2 L468.5 297.4 L469.7 297.6 L470.9 297.8 L472.1 298.0 L473.3 298.1 L474.5 298.2 L475.7 298.3" stroke="#ec0a12" stroke-width="1.7" fill="none" stroke-linejoin="round"/>
<path d="M409.7 309.8 L410.9 309.8 L412.1 309.8 L413.3 309.8 L414.5 309.8 L415.7 309.8 L416.9 309.8 L418.1 309.8 L419.3 309.7 L420.5 309.7 L421.7 309.7 L422.9 309.7 L424.1 309.7 L425.3 309.7 L426.5 309.6 L427.7 309.6 L428.9 309.6 L430.1 309.6 L431.3 309.6 L432.5 309.5 L433.7 309.5 L434.9 309.5 L436.1 309.4 L437.3 309.4 L438.5 309.3 L439.7 309.3 L440.9 309.2 L442.1 309.2 L443.3 309.1 L444.5 309.1 L445.7 309.0 L446.9 308.9 L448.1 308.8 L449.3 308.8 L450.5 308.7 L451.7 308.6 L452.9 308.4 L454.1 308.3 L455.3 308.2 L456.5 308.0 L457.7 307.9 L458.9 308.2 L460.1 309.3 L461.3 309.8 L462.5 309.9 L463.7 309.9 L464.9 309.9 L466.1 309.9 L467.3 309.9 L468.5 309.9 L469.7 309.9 L470.9 309.9 L472.1 309.9 L473.3 309.9 L474.5 309.9 L475.7 309.9" stroke="#2244ff" stroke-width="1.7" fill="none" stroke-linejoin="round"/>
<path d="M409.7 309.8 L410.9 309.7 L412.1 309.7 L413.3 309.7 L414.5 309.7 L415.7 309.7 L416.9 309.7 L418.1 309.7 L419.3 309.6 L420.5 309.6 L421.7 309.6 L422.9 309.6 L424.1 309.5 L425.3 309.5 L426.5 309.5 L427.7 309.5 L428.9 309.4 L430.1 309.4 L431.3 309.3 L432.5 309.3 L433.7 309.2 L434.9 309.2 L436.1 309.1 L437.3 309.1 L438.5 309.0 L439.7 308.9 L440.9 308.8 L442.1 308.6 L443.3 308.5 L444.5 308.3 L445.7 308.1 L446.9 307.8 L448.1 307.6 L449.3 307.3 L450.5 307.0 L451.7 306.7 L452.9 306.4 L454.1 306.2 L455.3 306.0 L456.5 305.9 L457.7 305.9 L458.9 306.0 L460.1 306.2 L461.3 306.5 L462.5 306.8 L463.7 307.2 L464.9 307.5 L466.1 307.8 L467.3 308.0 L468.5 308.3 L469.7 308.5 L470.9 308.7 L472.1 308.8 L473.3 308.9 L474.5 309.0 L475.7 309.1" stroke="#ec0a12" stroke-width="1.7" fill="none" stroke-linejoin="round"/>
<path d="M409.7 320.6 L410.9 320.6 L412.1 320.6 L413.3 320.6 L414.5 320.6 L415.7 320.6 L416.9 320.6 L418.1 320.6 L419.3 320.6 L420.5 320.6 L421.7 320.6 L422.9 320.5 L424.1 320.5 L425.3 320.5 L426.5 320.5 L427.7 320.5 L428.9 320.5 L430.1 320.5 L431.3 320.4 L432.5 320.4 L433.7 320.4 L434.9 320.4 L436.1 320.3 L437.3 320.3 L438.5 320.3 L439.7 320.2 L440.9 320.2 L442.1 320.2 L443.3 320.1 L444.5 320.1 L445.7 320.0 L446.9 320.0 L448.1 319.9 L449.3 319.8 L450.5 319.8 L451.7 319.7 L452.9 319.6 L454.1 319.5 L455.3 319.4 L456.5 319.3 L457.7 319.2 L458.9 319.4 L460.1 320.2 L461.3 320.7 L462.5 320.7 L463.7 320.7 L464.9 320.7 L466.1 320.7 L467.3 320.7 L468.5 320.7 L469.7 320.7 L470.9 320.7 L472.1 320.7 L473.3 320.7 L474.5 320.7 L475.7 320.7" stroke="#2244ff" stroke-width="1.7" fill="none" stroke-linejoin="round"/>
<path d="M409.7 320.6 L410.9 320.6 L412.1 320.6 L413.3 320.5 L414.5 320.5 L415.7 320.5 L416.9 320.5 L418.1 320.5 L419.3 320.5 L420.5 320.5 L421.7 320.4 L422.9 320.4 L424.1 320.4 L425.3 320.4 L426.5 320.3 L427.7 320.3 L428.9 320.3 L430.1 320.2 L431.3 320.2 L432.5 320.2 L433.7 320.1 L434.9 320.1 L436.1 320.0 L437.3 320.0 L438.5 319.9 L439.7 319.8 L440.9 319.7 L442.1 319.6 L443.3 319.5 L444.5 319.3 L445.7 319.1 L446.9 318.9 L448.1 318.7 L449.3 318.4 L450.5 318.2 L451.7 317.9 L452.9 317.7 L454.1 317.5 L455.3 317.4 L456.5 317.3 L457.7 317.3 L458.9 317.4 L460.1 317.6 L461.3 317.8 L462.5 318.1 L463.7 318.3 L464.9 318.6 L466.1 318.9 L467.3 319.1 L468.5 319.3 L469.7 319.5 L470.9 319.6 L472.1 319.7 L473.3 319.8 L474.5 319.9 L475.7 320.0" stroke="#ec0a12" stroke-width="1.7" fill="none" stroke-linejoin="round"/>
<path d="M409.7 331.5 L410.9 331.5 L412.1 331.5 L413.3 331.4 L414.5 331.4 L415.7 331.4 L416.9 331.4 L418.1 331.4 L419.3 331.4 L420.5 331.4 L421.7 331.4 L422.9 331.4 L424.1 331.4 L425.3 331.4 L426.5 331.4 L427.7 331.4 L428.9 331.3 L430.1 331.3 L431.3 331.3 L432.5 331.3 L433.7 331.3 L434.9 331.3 L436.1 331.3 L437.3 331.2 L438.5 331.2 L439.7 331.2 L440.9 331.2 L442.1 331.1 L443.3 331.1 L444.5 331.1 L445.7 331.0 L446.9 331.0 L448.1 331.0 L449.3 330.9 L450.5 330.9 L451.7 330.8 L452.9 330.8 L454.1 330.7 L455.3 330.6 L456.5 330.6 L457.7 330.5 L458.9 330.6 L460.1 331.2 L461.3 331.5 L462.5 331.5 L463.7 331.5 L464.9 331.5 L466.1 331.5 L467.3 331.5 L468.5 331.5 L469.7 331.5 L470.9 331.5 L472.1 331.5 L473.3 331.5 L474.5 331.5 L475.7 331.5" stroke="#2244ff" stroke-width="1.7" fill="none" stroke-linejoin="round"/>
<path d="M409.7 331.4 L410.9 331.4 L412.1 331.4 L413.3 331.4 L414.5 331.4 L415.7 331.4 L416.9 331.4 L418.1 331.4 L419.3 331.3 L420.5 331.3 L421.7 331.3 L422.9 331.3 L424.1 331.3 L425.3 331.3 L426.5 331.3 L427.7 331.2 L428.9 331.2 L430.1 331.2 L431.3 331.2 L432.5 331.1 L433.7 331.1 L434.9 331.1 L436.1 331.0 L437.3 331.0 L438.5 330.9 L439.7 330.9 L440.9 330.8 L442.1 330.8 L443.3 330.7 L444.5 330.6 L445.7 330.5 L446.9 330.3 L448.1 330.2 L449.3 330.0 L450.5 329.9 L451.7 329.7 L452.9 329.6 L454.1 329.4 L455.3 329.3 L456.5 329.3 L457.7 329.3 L458.9 329.4 L460.1 329.5 L461.3 329.6 L462.5 329.8 L463.7 330.0 L464.9 330.1 L466.1 330.3 L467.3 330.4 L468.5 330.6 L469.7 330.7 L470.9 330.8 L472.1 330.8 L473.3 330.9 L474.5 331.0 L475.7 331.0" stroke="#ec0a12" stroke-width="1.7" fill="none" stroke-linejoin="round"/>
<path d="M437.73 21.2 L441.23 21.2 L439.48 16.6 Z" stroke="#2244ff" stroke-width="1.25" fill="#fff"/>
<path d="M441.75 20.61 L445.25 20.61 L443.5 16.01 Z" stroke="#ec0a12" stroke-width="1.25" fill="#fff"/>
<path d="M437.77 31.84 L441.27 31.84 L439.52 27.24 Z" stroke="#2244ff" stroke-width="1.25" fill="#fff"/>
<path d="M441.87 31.19 L445.37 31.19 L443.62 26.59 Z" stroke="#ec0a12" stroke-width="1.25" fill="#fff"/>
<path d="M437.9 42.48 L441.4 42.48 L439.65 37.88 Z" stroke="#2244ff" stroke-width="1.25" fill="#fff"/>
<path d="M442.1 41.78 L445.6 41.78 L443.85 37.18 Z" stroke="#ec0a12" stroke-width="1.25" fill="#fff"/>
<path d="M438.12 53.11 L441.62 53.11 L439.87 48.51 Z" stroke="#2244ff" stroke-width="1.25" fill="#fff"/>
<path d="M442.42 52.37 L445.92 52.37 L444.17 47.77 Z" stroke="#ec0a12" stroke-width="1.25" fill="#fff"/>
<path d="M438.43 63.75 L441.93 63.75 L440.18 59.15 Z" stroke="#2244ff" stroke-width="1.25" fill="#fff"/>
<path d="M442.81 62.96 L446.31 62.96 L444.56 58.36 Z" stroke="#ec0a12" stroke-width="1.25" fill="#fff"/>
<path d="M438.82 74.39 L442.32 74.39 L440.57 69.79 Z" stroke="#2244ff" stroke-width="1.25" fill="#fff"/>
<path d="M443.26 73.55 L446.76 73.55 L445.01 68.95 Z" stroke="#ec0a12" stroke-width="1.25" fill="#fff"/>
<path d="M439.3 85.03 L442.8 85.03 L441.05 80.43 Z" stroke="#2244ff" stroke-width="1.25" fill="#fff"/>
<path d="M443.77 84.14 L447.27 84.14 L445.52 79.54 Z" stroke="#ec0a12" stroke-width="1.25" fill="#fff"/>
<path d="M439.86 95.66 L443.36 95.66 L441.61 91.06 Z" stroke="#2244ff" stroke-width="1.25" fill="#fff"/>
<path d="M444.33 94.73 L447.83 94.73 L446.08 90.13 Z" stroke="#ec0a12" stroke-width="1.25" fill="#fff"/>
<path d="M440.52 106.3 L444.02 106.3 L442.27 101.7 Z" stroke="#2244ff" stroke-width="1.25" fill="#fff"/>
<path d="M444.94 105.32 L448.44 105.32 L446.69 100.72 Z" stroke="#ec0a12" stroke-width="1.25" fill="#fff"/>
<path d="M441.26 116.66 L444.76 116.66 L443.01 112.06 Z" stroke="#2244ff" stroke-width="1.25" fill="#fff"/>
<path d="M445.61 115.82 L449.11 115.82 L447.36 111.22 Z" stroke="#ec0a12" stroke-width="1.25" fill="#fff"/>
<path d="M442.08 127.03 L445.58 127.03 L443.83 122.43 Z" stroke="#2244ff" stroke-width="1.25" fill="#fff"/>
<path d="M446.31 126.32 L449.81 126.32 L448.06 121.72 Z" stroke="#ec0a12" stroke-width="1.25" fill="#fff"/>
<path d="M443 137.39 L446.5 137.39 L444.75 132.79 Z" stroke="#2244ff" stroke-width="1.25" fill="#fff"/>
<path d="M447.06 136.82 L450.56 136.82 L448.81 132.22 Z" stroke="#ec0a12" stroke-width="1.25" fill="#fff"/>
<path d="M444 147.75 L447.5 147.75 L445.75 143.15 Z" stroke="#2244ff" stroke-width="1.25" fill="#fff"/>
<path d="M447.86 147.32 L451.36 147.32 L449.61 142.72 Z" stroke="#ec0a12" stroke-width="1.25" fill="#fff"/>
<path d="M445.09 158.11 L448.59 158.11 L446.84 153.51 Z" stroke="#2244ff" stroke-width="1.25" fill="#fff"/>
<path d="M448.69 157.83 L452.19 157.83 L450.44 153.23 Z" stroke="#ec0a12" stroke-width="1.25" fill="#fff"/>
<path d="M446.26 168.48 L449.76 168.48 L448.01 163.88 Z" stroke="#2244ff" stroke-width="1.25" fill="#fff"/>
<path d="M449.56 168.35 L453.06 168.35 L451.31 163.75 Z" stroke="#ec0a12" stroke-width="1.25" fill="#fff"/>
<path d="M447.52 178.84 L451.02 178.84 L449.27 174.24 Z" stroke="#2244ff" stroke-width="1.25" fill="#fff"/>
<path d="M450.48 178.87 L453.98 178.87 L452.23 174.27 Z" stroke="#ec0a12" stroke-width="1.25" fill="#fff"/>
<path d="M448.87 189.2 L452.37 189.2 L450.62 184.6 Z" stroke="#2244ff" stroke-width="1.25" fill="#fff"/>
<path d="M451.42 189.41 L454.92 189.41 L453.17 184.81 Z" stroke="#ec0a12" stroke-width="1.25" fill="#fff"/>
<path d="M450.31 199.17 L453.81 199.17 L452.06 194.57 Z" stroke="#2244ff" stroke-width="1.25" fill="#fff"/>
<path d="M452.41 200.1 L455.91 200.1 L454.16 195.5 Z" stroke="#ec0a12" stroke-width="1.25" fill="#fff"/>
<path d="M451.83 209.14 L455.33 209.14 L453.58 204.54 Z" stroke="#2244ff" stroke-width="1.25" fill="#fff"/>
<path d="M453.43 210.8 L456.93 210.8 L455.18 206.2 Z" stroke="#ec0a12" stroke-width="1.25" fill="#fff"/>
<path d="M453.44 219.1 L456.94 219.1 L455.19 214.5 Z" stroke="#2244ff" stroke-width="1.25" fill="#fff"/>
<path d="M454.48 221.52 L457.98 221.52 L456.23 216.92 Z" stroke="#ec0a12" stroke-width="1.25" fill="#fff"/>
<path d="M455.14 230.07 L458.64 230.07 L456.89 225.47 Z" stroke="#2244ff" stroke-width="1.25" fill="#fff"/>
<path d="M455.57 233.13 L459.07 233.13 L457.32 228.53 Z" stroke="#ec0a12" stroke-width="1.25" fill="#fff"/>
<path d="M456.7 244.73 L460.2 244.73 L458.45 240.13 Z" stroke="#ec0a12" stroke-width="1.25" fill="#fff"/>
<line x1="459.6" y1="5.8" x2="459.6" y2="332.6" stroke="#111" stroke-width="2.0" stroke-dasharray="5 6.375" stroke-dashoffset="5.775"/>
<rect x="409.7" y="4.8" width="67" height="327.8" fill="none" stroke="#111" stroke-width="2.0"/>
<line x1="409.7" y1="332.6" x2="409.7" y2="338.6" stroke="#111" stroke-width="1.8"/>
<line x1="434.6" y1="332.6" x2="434.6" y2="338.6" stroke="#111" stroke-width="1.8"/>
<line x1="459.6" y1="332.6" x2="459.6" y2="338.6" stroke="#111" stroke-width="1.8"/>
<text transform="translate(395.5 351.09) scale(1.018 1)" font-size="14.00" fill="#111" stroke="#111" stroke-width="0.2">-0.2</text>
<text transform="translate(423.74 351.09) scale(0.940 1)" font-size="14.00" fill="#111" stroke="#111" stroke-width="0.2">-0.1</text>
<text transform="translate(452.15 351.09) scale(0.989 1)" font-size="14.00" fill="#111" stroke="#111" stroke-width="0.2">0.0</text>
<text transform="translate(479.6 336.5) scale(0.95 1)" font-size="14" fill="#000" stroke="#000" stroke-width="0.2">0.36Å<tspan font-size="9" dy="-5">-1</tspan></text>
<text transform="translate(418.1 367.6) scale(0.950 1)" font-size="14.00" fill="#111" stroke="#111" stroke-width="0.2">E-E<tspan font-size="8.7" dy="4.2">F</tspan><tspan dy="-4.2">(eV)</tspan></text>
<text transform="translate(397.6 218.1) rotate(-90) scale(0.965 1)" font-size="14" fill="#000" stroke="#000" stroke-width="0.2">Intensity (arb. units)</text>
<text transform="translate(379.37 13.99) scale(0.996 1)" font-size="14.00" fill="#111" stroke="#111" stroke-width="0.2">(c1)</text>
<text transform="translate(412.84 14.9) scale(0.935 1)" font-size="14.00" fill="#111" stroke="#111" stroke-width="0.2">m1</text>
<text transform="translate(481.2 22.7) scale(0.964 1)" font-size="14.00" fill="#111" stroke="#111" stroke-width="0.2">M</text>
<line x1="480" y1="47.6" x2="489.6" y2="47.6" stroke="#2233cc" stroke-width="1.8"/>
<text transform="translate(493.06 51.69) scale(0.964 1)" font-size="14.00" fill="#2233cc" stroke="#2233cc" stroke-width="0.2">8.5K</text>
<line x1="480" y1="59.9" x2="489.6" y2="59.9" stroke="#ec0a12" stroke-width="1.8"/>
<text transform="translate(490.6 62.96) scale(0.947 1)" font-size="14.00" fill="#ec0a12" stroke="#ec0a12" stroke-width="0.2">295K</text>
<text transform="translate(480.3 235.7) scale(0.95 1)" font-size="14.2" fill="#ec0a12" stroke="#ec0a12" stroke-width="0.2">k<tspan font-size="9" dy="4">F</tspan></text>
<text transform="translate(480.3 257.8) scale(0.95 1)" font-size="14.2" fill="#3355ee" stroke="#3355ee" stroke-width="0.2">k<tspan font-size="9" dy="4">F</tspan></text>
<path d="M533.1 16.9 L534.3 16.9 L535.5 16.9 L536.7 16.9 L537.9 16.9 L539.1 16.9 L540.3 16.8 L541.5 16.8 L542.7 16.8 L543.9 16.7 L545.1 16.6 L546.3 16.5 L547.5 16.4 L548.7 16.2 L549.9 16.0 L551.1 15.7 L552.3 15.3 L553.5 14.9 L554.7 14.5 L555.9 14.0 L557.1 13.4 L558.3 12.9 L559.5 12.3 L560.7 11.8 L561.9 11.3 L563.1 10.9 L564.3 10.6 L565.5 10.5 L566.7 10.4 L567.9 10.4 L569.1 10.5 L570.3 10.6 L571.5 10.7 L572.7 10.7 L573.9 10.8 L575.1 10.9 L576.3 10.9 L577.5 11.0 L578.7 11.1 L579.9 11.2 L581.1 11.3 L582.3 12.4 L583.5 15.4 L584.7 16.8 L585.9 16.9 L587.1 16.9 L588.3 16.9 L589.5 16.9 L590.7 16.9 L591.9 16.9 L593.1 16.9 L594.3 16.9 L595.5 16.9 L596.7 16.9 L597.9 16.9 L599.1 16.9 L600.3 16.9" stroke="#2244ff" stroke-width="1.7" fill="none" stroke-linejoin="round"/>
<path d="M533.1 16.9 L534.3 16.9 L535.5 16.9 L536.7 16.9 L537.9 16.9 L539.1 16.9 L540.3 16.9 L541.5 16.9 L542.7 16.9 L543.9 16.9 L545.1 16.9 L546.3 16.9 L547.5 16.9 L548.7 16.9 L549.9 16.8 L551.1 16.8 L552.3 16.8 L553.5 16.7 L554.7 16.6 L555.9 16.5 L557.1 16.3 L558.3 16.1 L559.5 15.8 L560.7 15.4 L561.9 15.0 L563.1 14.4 L564.3 13.8 L565.5 13.2 L566.7 12.5 L567.9 11.8 L569.1 11.1 L570.3 10.5 L571.5 9.9 L572.7 9.5 L573.9 9.3 L575.1 9.2 L576.3 9.3 L577.5 9.5 L578.7 9.7 L579.9 10.1 L581.1 10.6 L582.3 11.1 L583.5 11.8 L584.7 12.5 L585.9 13.2 L587.1 13.9 L588.3 14.5 L589.5 15.1 L590.7 15.6 L591.9 16.0 L593.1 16.3 L594.3 16.5 L595.5 16.6 L596.7 16.7 L597.9 16.8 L599.1 16.8 L600.3 16.9" stroke="#ec0a12" stroke-width="1.7" fill="none" stroke-linejoin="round"/>
<path d="M533.1 29.5 L534.3 29.5 L535.5 29.5 L536.7 29.5 L537.9 29.5 L539.1 29.5 L540.3 29.5 L541.5 29.4 L542.7 29.4 L543.9 29.3 L545.1 29.2 L546.3 29.1 L547.5 29.0 L548.7 28.8 L549.9 28.5 L551.1 28.2 L552.3 27.8 L553.5 27.4 L554.7 26.9 L555.9 26.3 L557.1 25.7 L558.3 25.1 L559.5 24.5 L560.7 23.9 L561.9 23.4 L563.1 23.0 L564.3 22.6 L565.5 22.4 L566.7 22.4 L567.9 22.4 L569.1 22.5 L570.3 22.6 L571.5 22.6 L572.7 22.7 L573.9 22.8 L575.1 22.9 L576.3 23.0 L577.5 23.0 L578.7 23.1 L579.9 23.2 L581.1 23.3 L582.3 24.6 L583.5 27.8 L584.7 29.4 L585.9 29.5 L587.1 29.5 L588.3 29.5 L589.5 29.5 L590.7 29.5 L591.9 29.5 L593.1 29.5 L594.3 29.5 L595.5 29.5 L596.7 29.5 L597.9 29.5 L599.1 29.5 L600.3 29.5" stroke="#2244ff" stroke-width="1.7" fill="none" stroke-linejoin="round"/>
<path d="M533.1 29.5 L534.3 29.5 L535.5 29.5 L536.7 29.5 L537.9 29.5 L539.1 29.5 L540.3 29.5 L541.5 29.5 L542.7 29.5 L543.9 29.5 L545.1 29.5 L546.3 29.5 L547.5 29.5 L548.7 29.5 L549.9 29.5 L551.1 29.4 L552.3 29.4 L553.5 29.3 L554.7 29.2 L555.9 29.1 L557.1 28.9 L558.3 28.7 L559.5 28.4 L560.7 28.0 L561.9 27.6 L563.1 27.0 L564.3 26.4 L565.5 25.8 L566.7 25.1 L567.9 24.3 L569.1 23.6 L570.3 23.0 L571.5 22.5 L572.7 22.0 L573.9 21.8 L575.1 21.7 L576.3 21.8 L577.5 22.0 L578.7 22.3 L579.9 22.6 L581.1 23.1 L582.3 23.7 L583.5 24.3 L584.7 25.0 L585.9 25.7 L587.1 26.5 L588.3 27.1 L589.5 27.7 L590.7 28.2 L591.9 28.6 L593.1 28.9 L594.3 29.1 L595.5 29.3 L596.7 29.4 L597.9 29.4 L599.1 29.5 L600.3 29.5" stroke="#ec0a12" stroke-width="1.7" fill="none" stroke-linejoin="round"/>
<path d="M533.1 42.1 L534.3 42.1 L535.5 42.1 L536.7 42.1 L537.9 42.1 L539.1 42.1 L540.3 42.1 L541.5 42.1 L542.7 42.0 L543.9 41.9 L545.1 41.9 L546.3 41.7 L547.5 41.6 L548.7 41.4 L549.9 41.1 L551.1 40.8 L552.3 40.4 L553.5 39.9 L554.7 39.4 L555.9 38.8 L557.1 38.2 L558.3 37.5 L559.5 36.8 L560.7 36.2 L561.9 35.6 L563.1 35.1 L564.3 34.7 L565.5 34.4 L566.7 34.3 L567.9 34.3 L569.1 34.4 L570.3 34.5 L571.5 34.6 L572.7 34.7 L573.9 34.8 L575.1 34.9 L576.3 35.0 L577.5 35.0 L578.7 35.1 L579.9 35.2 L581.1 35.4 L582.3 36.7 L583.5 40.3 L584.7 42.0 L585.9 42.1 L587.1 42.1 L588.3 42.1 L589.5 42.1 L590.7 42.1 L591.9 42.1 L593.1 42.1 L594.3 42.1 L595.5 42.1 L596.7 42.1 L597.9 42.1 L599.1 42.1 L600.3 42.1" stroke="#2244ff" stroke-width="1.7" fill="none" stroke-linejoin="round"/>
<path d="M533.1 42.1 L534.3 42.1 L535.5 42.1 L536.7 42.1 L537.9 42.1 L539.1 42.1 L540.3 42.1 L541.5 42.1 L542.7 42.1 L543.9 42.1 L545.1 42.1 L546.3 42.1 L547.5 42.1 L548.7 42.1 L549.9 42.1 L551.1 42.1 L552.3 42.0 L553.5 41.9 L554.7 41.8 L555.9 41.7 L557.1 41.5 L558.3 41.3 L559.5 41.0 L560.7 40.6 L561.9 40.2 L563.1 39.6 L564.3 39.0 L565.5 38.3 L566.7 37.6 L567.9 36.9 L569.1 36.2 L570.3 35.5 L571.5 35.0 L572.7 34.6 L573.9 34.3 L575.1 34.2 L576.3 34.3 L577.5 34.5 L578.7 34.8 L579.9 35.2 L581.1 35.7 L582.3 36.2 L583.5 36.9 L584.7 37.6 L585.9 38.3 L587.1 39.0 L588.3 39.7 L589.5 40.3 L590.7 40.8 L591.9 41.2 L593.1 41.5 L594.3 41.7 L595.5 41.9 L596.7 42.0 L597.9 42.0 L599.1 42.1 L600.3 42.1" stroke="#ec0a12" stroke-width="1.7" fill="none" stroke-linejoin="round"/>
<path d="M533.1 54.8 L534.3 54.8 L535.5 54.8 L536.7 54.7 L537.9 54.7 L539.1 54.7 L540.3 54.7 L541.5 54.7 L542.7 54.6 L543.9 54.6 L545.1 54.5 L546.3 54.4 L547.5 54.2 L548.7 54.0 L549.9 53.8 L551.1 53.5 L552.3 53.1 L553.5 52.6 L554.7 52.1 L555.9 51.4 L557.1 50.8 L558.3 50.1 L559.5 49.3 L560.7 48.6 L561.9 47.9 L563.1 47.3 L564.3 46.9 L565.5 46.5 L566.7 46.3 L567.9 46.3 L569.1 46.3 L570.3 46.4 L571.5 46.5 L572.7 46.6 L573.9 46.7 L575.1 46.8 L576.3 46.9 L577.5 47.0 L578.7 47.1 L579.9 47.2 L581.1 47.4 L582.3 48.9 L583.5 52.8 L584.7 54.6 L585.9 54.8 L587.1 54.8 L588.3 54.8 L589.5 54.8 L590.7 54.8 L591.9 54.8 L593.1 54.8 L594.3 54.8 L595.5 54.8 L596.7 54.8 L597.9 54.8 L599.1 54.8 L600.3 54.8" stroke="#2244ff" stroke-width="1.7" fill="none" stroke-linejoin="round"/>
<path d="M533.1 54.8 L534.3 54.8 L535.5 54.8 L536.7 54.8 L537.9 54.8 L539.1 54.8 L540.3 54.8 L541.5 54.8 L542.7 54.8 L543.9 54.8 L545.1 54.8 L546.3 54.7 L547.5 54.7 L548.7 54.7 L549.9 54.7 L551.1 54.7 L552.3 54.6 L553.5 54.6 L554.7 54.5 L555.9 54.3 L557.1 54.2 L558.3 53.9 L559.5 53.6 L560.7 53.2 L561.9 52.8 L563.1 52.2 L564.3 51.6 L565.5 50.9 L566.7 50.2 L567.9 49.5 L569.1 48.8 L570.3 48.1 L571.5 47.5 L572.7 47.1 L573.9 46.9 L575.1 46.8 L576.3 46.8 L577.5 47.0 L578.7 47.3 L579.9 47.7 L581.1 48.2 L582.3 48.8 L583.5 49.4 L584.7 50.1 L585.9 50.9 L587.1 51.6 L588.3 52.3 L589.5 52.9 L590.7 53.4 L591.9 53.8 L593.1 54.1 L594.3 54.3 L595.5 54.5 L596.7 54.6 L597.9 54.7 L599.1 54.7 L600.3 54.7" stroke="#ec0a12" stroke-width="1.7" fill="none" stroke-linejoin="round"/>
<path d="M533.1 67.4 L534.3 67.4 L535.5 67.4 L536.7 67.4 L537.9 67.4 L539.1 67.4 L540.3 67.3 L541.5 67.3 L542.7 67.3 L543.9 67.2 L545.1 67.2 L546.3 67.0 L547.5 66.9 L548.7 66.7 L549.9 66.5 L551.1 66.2 L552.3 65.8 L553.5 65.3 L554.7 64.7 L555.9 64.1 L557.1 63.4 L558.3 62.6 L559.5 61.8 L560.7 61.0 L561.9 60.2 L563.1 59.5 L564.3 58.9 L565.5 58.4 L566.7 58.0 L567.9 57.9 L569.1 57.9 L570.3 58.0 L571.5 58.1 L572.7 58.3 L573.9 58.4 L575.1 58.5 L576.3 58.6 L577.5 58.7 L578.7 58.8 L579.9 59.0 L581.1 59.2 L582.3 60.8 L583.5 65.1 L584.7 67.2 L585.9 67.4 L587.1 67.4 L588.3 67.4 L589.5 67.4 L590.7 67.4 L591.9 67.4 L593.1 67.4 L594.3 67.4 L595.5 67.4 L596.7 67.4 L597.9 67.4 L599.1 67.4 L600.3 67.4" stroke="#2244ff" stroke-width="1.7" fill="none" stroke-linejoin="round"/>
<path d="M533.1 67.4 L534.3 67.4 L535.5 67.4 L536.7 67.4 L537.9 67.4 L539.1 67.4 L540.3 67.4 L541.5 67.4 L542.7 67.4 L543.9 67.4 L545.1 67.4 L546.3 67.4 L547.5 67.4 L548.7 67.3 L549.9 67.3 L551.1 67.3 L552.3 67.3 L553.5 67.2 L554.7 67.1 L555.9 67.0 L557.1 66.8 L558.3 66.5 L559.5 66.2 L560.7 65.9 L561.9 65.4 L563.1 64.9 L564.3 64.3 L565.5 63.6 L566.7 62.8 L567.9 62.1 L569.1 61.4 L570.3 60.7 L571.5 60.1 L572.7 59.7 L573.9 59.4 L575.1 59.3 L576.3 59.3 L577.5 59.5 L578.7 59.8 L579.9 60.2 L581.1 60.7 L582.3 61.3 L583.5 61.9 L584.7 62.7 L585.9 63.4 L587.1 64.1 L588.3 64.8 L589.5 65.5 L590.7 66.0 L591.9 66.4 L593.1 66.7 L594.3 66.9 L595.5 67.1 L596.7 67.2 L597.9 67.3 L599.1 67.3 L600.3 67.3" stroke="#ec0a12" stroke-width="1.7" fill="none" stroke-linejoin="round"/>
<path d="M533.1 80.0 L534.3 80.0 L535.5 80.0 L536.7 80.0 L537.9 80.0 L539.1 80.0 L540.3 80.0 L541.5 79.9 L542.7 79.9 L543.9 79.9 L545.1 79.8 L546.3 79.7 L547.5 79.6 L548.7 79.4 L549.9 79.2 L551.1 78.9 L552.3 78.6 L553.5 78.1 L554.7 77.6 L555.9 76.9 L557.1 76.2 L558.3 75.4 L559.5 74.6 L560.7 73.7 L561.9 72.8 L563.1 71.9 L564.3 71.1 L565.5 70.5 L566.7 69.9 L567.9 69.6 L569.1 69.5 L570.3 69.6 L571.5 69.7 L572.7 69.8 L573.9 70.0 L575.1 70.1 L576.3 70.3 L577.5 70.4 L578.7 70.5 L579.9 70.7 L581.1 70.9 L582.3 72.8 L583.5 77.5 L584.7 79.8 L585.9 80.0 L587.1 80.0 L588.3 80.0 L589.5 80.0 L590.7 80.0 L591.9 80.0 L593.1 80.0 L594.3 80.0 L595.5 80.0 L596.7 80.0 L597.9 80.0 L599.1 80.0 L600.3 80.0" stroke="#2244ff" stroke-width="1.7" fill="none" stroke-linejoin="round"/>
<path d="M533.1 80.0 L534.3 80.0 L535.5 80.0 L536.7 80.0 L537.9 80.0 L539.1 80.0 L540.3 80.0 L541.5 80.0 L542.7 80.0 L543.9 80.0 L545.1 80.0 L546.3 80.0 L547.5 80.0 L548.7 80.0 L549.9 80.0 L551.1 79.9 L552.3 79.9 L553.5 79.8 L554.7 79.7 L555.9 79.6 L557.1 79.4 L558.3 79.2 L559.5 78.9 L560.7 78.5 L561.9 78.1 L563.1 77.5 L564.3 76.9 L565.5 76.2 L566.7 75.5 L567.9 74.8 L569.1 74.0 L570.3 73.3 L571.5 72.7 L572.7 72.2 L573.9 71.9 L575.1 71.8 L576.3 71.8 L577.5 72.0 L578.7 72.3 L579.9 72.7 L581.1 73.2 L582.3 73.8 L583.5 74.4 L584.7 75.2 L585.9 75.9 L587.1 76.7 L588.3 77.4 L589.5 78.0 L590.7 78.6 L591.9 79.0 L593.1 79.3 L594.3 79.5 L595.5 79.7 L596.7 79.8 L597.9 79.9 L599.1 79.9 L600.3 80.0" stroke="#ec0a12" stroke-width="1.7" fill="none" stroke-linejoin="round"/>
<path d="M533.1 92.6 L534.3 92.6 L535.5 92.6 L536.7 92.6 L537.9 92.6 L539.1 92.6 L540.3 92.6 L541.5 92.6 L542.7 92.6 L543.9 92.5 L545.1 92.5 L546.3 92.4 L547.5 92.3 L548.7 92.2 L549.9 92.0 L551.1 91.7 L552.3 91.4 L553.5 91.0 L554.7 90.4 L555.9 89.8 L557.1 89.1 L558.3 88.3 L559.5 87.3 L560.7 86.4 L561.9 85.3 L563.1 84.3 L564.3 83.3 L565.5 82.4 L566.7 81.7 L567.9 81.1 L569.1 80.7 L570.3 80.6 L571.5 80.7 L572.7 80.9 L573.9 81.1 L575.1 81.2 L576.3 81.4 L577.5 81.6 L578.7 81.7 L579.9 81.9 L581.1 82.2 L582.3 84.3 L583.5 89.8 L584.7 92.4 L585.9 92.6 L587.1 92.6 L588.3 92.6 L589.5 92.6 L590.7 92.6 L591.9 92.6 L593.1 92.6 L594.3 92.6 L595.5 92.6 L596.7 92.6 L597.9 92.6 L599.1 92.6 L600.3 92.6" stroke="#2244ff" stroke-width="1.7" fill="none" stroke-linejoin="round"/>
<path d="M533.1 92.6 L534.3 92.6 L535.5 92.6 L536.7 92.6 L537.9 92.6 L539.1 92.6 L540.3 92.6 L541.5 92.6 L542.7 92.6 L543.9 92.6 L545.1 92.6 L546.3 92.6 L547.5 92.6 L548.7 92.6 L549.9 92.6 L551.1 92.5 L552.3 92.5 L553.5 92.5 L554.7 92.4 L555.9 92.2 L557.1 92.1 L558.3 91.9 L559.5 91.6 L560.7 91.2 L561.9 90.8 L563.1 90.3 L564.3 89.7 L565.5 89.0 L566.7 88.3 L567.9 87.5 L569.1 86.7 L570.3 86.0 L571.5 85.4 L572.7 84.9 L573.9 84.6 L575.1 84.4 L576.3 84.4 L577.5 84.6 L578.7 84.8 L579.9 85.2 L581.1 85.7 L582.3 86.3 L583.5 86.9 L584.7 87.7 L585.9 88.4 L587.1 89.2 L588.3 89.9 L589.5 90.6 L590.7 91.1 L591.9 91.6 L593.1 91.9 L594.3 92.1 L595.5 92.3 L596.7 92.4 L597.9 92.5 L599.1 92.5 L600.3 92.6" stroke="#ec0a12" stroke-width="1.7" fill="none" stroke-linejoin="round"/>
<path d="M533.1 105.2 L534.3 105.2 L535.5 105.2 L536.7 105.2 L537.9 105.2 L539.1 105.2 L540.3 105.2 L541.5 105.2 L542.7 105.2 L543.9 105.2 L545.1 105.1 L546.3 105.1 L547.5 105.0 L548.7 104.9 L549.9 104.7 L551.1 104.5 L552.3 104.3 L553.5 103.9 L554.7 103.4 L555.9 102.9 L557.1 102.2 L558.3 101.4 L559.5 100.5 L560.7 99.4 L561.9 98.3 L563.1 97.2 L564.3 96.0 L565.5 94.9 L566.7 93.9 L567.9 93.0 L569.1 92.4 L570.3 91.9 L571.5 91.7 L572.7 91.8 L573.9 92.1 L575.1 92.3 L576.3 92.5 L577.5 92.7 L578.7 92.9 L579.9 93.1 L581.1 93.5 L582.3 95.9 L583.5 102.0 L584.7 105.0 L585.9 105.2 L587.1 105.2 L588.3 105.2 L589.5 105.2 L590.7 105.2 L591.9 105.2 L593.1 105.2 L594.3 105.2 L595.5 105.2 L596.7 105.2 L597.9 105.2 L599.1 105.2 L600.3 105.2" stroke="#2244ff" stroke-width="1.7" fill="none" stroke-linejoin="round"/>
<path d="M533.1 105.2 L534.3 105.2 L535.5 105.2 L536.7 105.2 L537.9 105.2 L539.1 105.2 L540.3 105.2 L541.5 105.2 L542.7 105.2 L543.9 105.2 L545.1 105.2 L546.3 105.2 L547.5 105.2 L548.7 105.2 L549.9 105.2 L551.1 105.2 L552.3 105.1 L553.5 105.1 L554.7 105.0 L555.9 104.9 L557.1 104.8 L558.3 104.5 L559.5 104.3 L560.7 103.9 L561.9 103.5 L563.1 103.0 L564.3 102.4 L565.5 101.8 L566.7 101.1 L567.9 100.3 L569.1 99.5 L570.3 98.8 L571.5 98.1 L572.7 97.6 L573.9 97.2 L575.1 97.0 L576.3 96.9 L577.5 97.1 L578.7 97.3 L579.9 97.7 L581.1 98.2 L582.3 98.7 L583.5 99.4 L584.7 100.2 L585.9 100.9 L587.1 101.7 L588.3 102.5 L589.5 103.1 L590.7 103.7 L591.9 104.1 L593.1 104.5 L594.3 104.7 L595.5 104.9 L596.7 105.0 L597.9 105.1 L599.1 105.2 L600.3 105.2" stroke="#ec0a12" stroke-width="1.7" fill="none" stroke-linejoin="round"/>
<path d="M533.1 117.9 L534.3 117.9 L535.5 117.9 L536.7 117.9 L537.9 117.9 L539.1 117.9 L540.3 117.9 L541.5 117.8 L542.7 117.8 L543.9 117.8 L545.1 117.8 L546.3 117.8 L547.5 117.7 L548.7 117.6 L549.9 117.5 L551.1 117.4 L552.3 117.2 L553.5 116.9 L554.7 116.5 L555.9 116.0 L557.1 115.4 L558.3 114.7 L559.5 113.9 L560.7 112.9 L561.9 111.8 L563.1 110.6 L564.3 109.3 L565.5 108.0 L566.7 106.8 L567.9 105.6 L569.1 104.6 L570.3 103.7 L571.5 103.2 L572.7 102.9 L573.9 102.9 L575.1 103.2 L576.3 103.5 L577.5 103.7 L578.7 104.0 L579.9 104.3 L581.1 104.7 L582.3 107.5 L583.5 114.3 L584.7 117.6 L585.9 117.9 L587.1 117.9 L588.3 117.9 L589.5 117.9 L590.7 117.9 L591.9 117.9 L593.1 117.9 L594.3 117.9 L595.5 117.9 L596.7 117.9 L597.9 117.9 L599.1 117.9 L600.3 117.9" stroke="#2244ff" stroke-width="1.7" fill="none" stroke-linejoin="round"/>
<path d="M533.1 117.9 L534.3 117.9 L535.5 117.9 L536.7 117.9 L537.9 117.9 L539.1 117.9 L540.3 117.9 L541.5 117.9 L542.7 117.9 L543.9 117.9 L545.1 117.9 L546.3 117.9 L547.5 117.8 L548.7 117.8 L549.9 117.8 L551.1 117.8 L552.3 117.8 L553.5 117.7 L554.7 117.7 L555.9 117.6 L557.1 117.4 L558.3 117.3 L559.5 117.0 L560.7 116.7 L561.9 116.3 L563.1 115.8 L564.3 115.3 L565.5 114.7 L566.7 114.0 L567.9 113.2 L569.1 112.4 L570.3 111.7 L571.5 111.0 L572.7 110.4 L573.9 109.9 L575.1 109.7 L576.3 109.6 L577.5 109.6 L578.7 109.9 L579.9 110.2 L581.1 110.7 L582.3 111.2 L583.5 111.9 L584.7 112.6 L585.9 113.4 L587.1 114.2 L588.3 115.0 L589.5 115.7 L590.7 116.2 L591.9 116.7 L593.1 117.1 L594.3 117.3 L595.5 117.5 L596.7 117.6 L597.9 117.7 L599.1 117.8 L600.3 117.8" stroke="#ec0a12" stroke-width="1.7" fill="none" stroke-linejoin="round"/>
<path d="M533.1 130.5 L534.3 130.5 L535.5 130.5 L536.7 130.5 L537.9 130.5 L539.1 130.5 L540.3 130.5 L541.5 130.5 L542.7 130.5 L543.9 130.5 L545.1 130.4 L546.3 130.4 L547.5 130.4 L548.7 130.4 L549.9 130.3 L551.1 130.2 L552.3 130.0 L553.5 129.9 L554.7 129.6 L555.9 129.2 L557.1 128.8 L558.3 128.2 L559.5 127.5 L560.7 126.7 L561.9 125.7 L563.1 124.6 L564.3 123.3 L565.5 122.0 L566.7 120.7 L567.9 119.3 L569.1 118.0 L570.3 116.8 L571.5 115.8 L572.7 115.1 L573.9 114.6 L575.1 114.5 L576.3 114.7 L577.5 115.1 L578.7 115.5 L579.9 115.8 L581.1 116.4 L582.3 119.3 L583.5 126.7 L584.7 130.2 L585.9 130.5 L587.1 130.5 L588.3 130.5 L589.5 130.5 L590.7 130.5 L591.9 130.5 L593.1 130.5 L594.3 130.5 L595.5 130.5 L596.7 130.5 L597.9 130.5 L599.1 130.5 L600.3 130.5" stroke="#2244ff" stroke-width="1.7" fill="none" stroke-linejoin="round"/>
<path d="M533.1 130.5 L534.3 130.5 L535.5 130.5 L536.7 130.5 L537.9 130.5 L539.1 130.5 L540.3 130.5 L541.5 130.5 L542.7 130.5 L543.9 130.5 L545.1 130.5 L546.3 130.5 L547.5 130.5 L548.7 130.5 L549.9 130.5 L551.1 130.4 L552.3 130.4 L553.5 130.4 L554.7 130.3 L555.9 130.2 L557.1 130.1 L558.3 130.0 L559.5 129.8 L560.7 129.5 L561.9 129.1 L563.1 128.7 L564.3 128.2 L565.5 127.6 L566.7 126.9 L567.9 126.2 L569.1 125.4 L570.3 124.7 L571.5 123.9 L572.7 123.3 L573.9 122.7 L575.1 122.4 L576.3 122.2 L577.5 122.2 L578.7 122.4 L579.9 122.7 L581.1 123.1 L582.3 123.7 L583.5 124.3 L584.7 125.1 L585.9 125.9 L587.1 126.7 L588.3 127.4 L589.5 128.2 L590.7 128.8 L591.9 129.3 L593.1 129.6 L594.3 129.9 L595.5 130.1 L596.7 130.2 L597.9 130.3 L599.1 130.4 L600.3 130.4" stroke="#ec0a12" stroke-width="1.7" fill="none" stroke-linejoin="round"/>
<path d="M533.1 143.1 L534.3 143.1 L535.5 143.1 L536.7 143.1 L537.9 143.1 L539.1 143.1 L540.3 143.1 L541.5 143.1 L542.7 143.1 L543.9 143.1 L545.1 143.1 L546.3 143.1 L547.5 143.1 L548.7 143.0 L549.9 143.0 L551.1 142.9 L552.3 142.9 L553.5 142.7 L554.7 142.6 L555.9 142.3 L557.1 142.0 L558.3 141.6 L559.5 141.1 L560.7 140.5 L561.9 139.7 L563.1 138.7 L564.3 137.6 L565.5 136.4 L566.7 135.0 L567.9 133.6 L569.1 132.2 L570.3 130.7 L571.5 129.4 L572.7 128.2 L573.9 127.2 L575.1 126.5 L576.3 126.1 L577.5 126.2 L578.7 126.7 L579.9 127.2 L581.1 127.9 L582.3 131.2 L583.5 139.0 L584.7 142.8 L585.9 143.1 L587.1 143.1 L588.3 143.1 L589.5 143.1 L590.7 143.1 L591.9 143.1 L593.1 143.1 L594.3 143.1 L595.5 143.1 L596.7 143.1 L597.9 143.1 L599.1 143.1 L600.3 143.1" stroke="#2244ff" stroke-width="1.7" fill="none" stroke-linejoin="round"/>
<path d="M533.1 143.1 L534.3 143.1 L535.5 143.1 L536.7 143.1 L537.9 143.1 L539.1 143.1 L540.3 143.1 L541.5 143.1 L542.7 143.1 L543.9 143.1 L545.1 143.1 L546.3 143.1 L547.5 143.1 L548.7 143.1 L549.9 143.1 L551.1 143.1 L552.3 143.1 L553.5 143.0 L554.7 143.0 L555.9 142.9 L557.1 142.8 L558.3 142.7 L559.5 142.5 L560.7 142.3 L561.9 142.0 L563.1 141.6 L564.3 141.1 L565.5 140.6 L566.7 140.0 L567.9 139.2 L569.1 138.5 L570.3 137.7 L571.5 137.0 L572.7 136.3 L573.9 135.6 L575.1 135.2 L576.3 134.9 L577.5 134.8 L578.7 134.9 L579.9 135.2 L581.1 135.6 L582.3 136.1 L583.5 136.7 L584.7 137.4 L585.9 138.2 L587.1 139.1 L588.3 139.9 L589.5 140.6 L590.7 141.3 L591.9 141.8 L593.1 142.2 L594.3 142.5 L595.5 142.7 L596.7 142.8 L597.9 142.9 L599.1 143.0 L600.3 143.0" stroke="#ec0a12" stroke-width="1.7" fill="none" stroke-linejoin="round"/>
<path d="M533.1 155.7 L534.3 155.7 L535.5 155.7 L536.7 155.7 L537.9 155.7 L539.1 155.7 L540.3 155.7 L541.5 155.7 L542.7 155.7 L543.9 155.7 L545.1 155.7 L546.3 155.7 L547.5 155.7 L548.7 155.7 L549.9 155.7 L551.1 155.6 L552.3 155.6 L553.5 155.5 L554.7 155.5 L555.9 155.3 L557.1 155.1 L558.3 154.9 L559.5 154.5 L560.7 154.1 L561.9 153.5 L563.1 152.8 L564.3 151.9 L565.5 150.9 L566.7 149.7 L567.9 148.4 L569.1 146.9 L570.3 145.4 L571.5 143.9 L572.7 142.3 L573.9 140.9 L575.1 139.7 L576.3 138.7 L577.5 138.0 L578.7 137.7 L579.9 138.1 L581.1 139.1 L582.3 142.8 L583.5 151.4 L584.7 155.4 L585.9 155.7 L587.1 155.7 L588.3 155.7 L589.5 155.7 L590.7 155.7 L591.9 155.7 L593.1 155.7 L594.3 155.7 L595.5 155.7 L596.7 155.7 L597.9 155.7 L599.1 155.7 L600.3 155.7" stroke="#2244ff" stroke-width="1.7" fill="none" stroke-linejoin="round"/>
<path d="M533.1 155.7 L534.3 155.7 L535.5 155.7 L536.7 155.7 L537.9 155.7 L539.1 155.7 L540.3 155.7 L541.5 155.7 L542.7 155.7 L543.9 155.7 L545.1 155.7 L546.3 155.7 L547.5 155.7 L548.7 155.7 L549.9 155.7 L551.1 155.7 L552.3 155.7 L553.5 155.7 L554.7 155.6 L555.9 155.6 L557.1 155.5 L558.3 155.4 L559.5 155.3 L560.7 155.1 L561.9 154.8 L563.1 154.5 L564.3 154.1 L565.5 153.6 L566.7 153.0 L567.9 152.3 L569.1 151.6 L570.3 150.8 L571.5 150.0 L572.7 149.2 L573.9 148.5 L575.1 147.9 L576.3 147.5 L577.5 147.3 L578.7 147.2 L579.9 147.4 L581.1 147.8 L582.3 148.3 L583.5 148.9 L584.7 149.6 L585.9 150.5 L587.1 151.3 L588.3 152.2 L589.5 153.0 L590.7 153.7 L591.9 154.2 L593.1 154.7 L594.3 155.0 L595.5 155.3 L596.7 155.4 L597.9 155.5 L599.1 155.6 L600.3 155.6" stroke="#ec0a12" stroke-width="1.7" fill="none" stroke-linejoin="round"/>
<path d="M533.1 168.3 L534.3 168.3 L535.5 168.3 L536.7 168.3 L537.9 168.3 L539.1 168.3 L540.3 168.3 L541.5 168.3 L542.7 168.3 L543.9 168.3 L545.1 168.3 L546.3 168.3 L547.5 168.3 L548.7 168.3 L549.9 168.3 L551.1 168.3 L552.3 168.3 L553.5 168.3 L554.7 168.2 L555.9 168.2 L557.1 168.1 L558.3 167.9 L559.5 167.7 L560.7 167.5 L561.9 167.1 L563.1 166.7 L564.3 166.1 L565.5 165.4 L566.7 164.5 L567.9 163.5 L569.1 162.3 L570.3 161.0 L571.5 159.5 L572.7 158.0 L573.9 156.4 L575.1 154.9 L576.3 153.5 L577.5 152.2 L578.7 151.2 L579.9 150.5 L581.1 150.5 L582.3 154.5 L583.5 163.9 L584.7 168.0 L585.9 168.3 L587.1 168.3 L588.3 168.3 L589.5 168.3 L590.7 168.3 L591.9 168.3 L593.1 168.3 L594.3 168.3 L595.5 168.3 L596.7 168.3 L597.9 168.3 L599.1 168.3 L600.3 168.3" stroke="#2244ff" stroke-width="1.7" fill="none" stroke-linejoin="round"/>
<path d="M533.1 168.3 L534.3 168.3 L535.5 168.3 L536.7 168.3 L537.9 168.3 L539.1 168.3 L540.3 168.3 L541.5 168.3 L542.7 168.3 L543.9 168.3 L545.1 168.3 L546.3 168.3 L547.5 168.3 L548.7 168.3 L549.9 168.3 L551.1 168.3 L552.3 168.3 L553.5 168.3 L554.7 168.3 L555.9 168.2 L557.1 168.2 L558.3 168.1 L559.5 168.0 L560.7 167.9 L561.9 167.7 L563.1 167.4 L564.3 167.1 L565.5 166.6 L566.7 166.1 L567.9 165.5 L569.1 164.9 L570.3 164.1 L571.5 163.3 L572.7 162.6 L573.9 161.8 L575.1 161.1 L576.3 160.6 L577.5 160.2 L578.7 160.0 L579.9 160.1 L581.1 160.3 L582.3 160.7 L583.5 161.3 L584.7 162.0 L585.9 162.8 L587.1 163.7 L588.3 164.6 L589.5 165.4 L590.7 166.1 L591.9 166.7 L593.1 167.2 L594.3 167.6 L595.5 167.8 L596.7 168.0 L597.9 168.1 L599.1 168.2 L600.3 168.3" stroke="#ec0a12" stroke-width="1.7" fill="none" stroke-linejoin="round"/>
<path d="M533.1 180.6 L534.3 180.6 L535.5 180.6 L536.7 180.6 L537.9 180.5 L539.1 180.5 L540.3 180.5 L541.5 180.5 L542.7 180.4 L543.9 180.4 L545.1 180.3 L546.3 180.3 L547.5 180.3 L548.7 180.2 L549.9 180.1 L551.1 180.1 L552.3 180.0 L553.5 179.9 L554.7 179.8 L555.9 179.7 L557.1 179.6 L558.3 179.5 L559.5 179.3 L560.7 179.2 L561.9 179.0 L563.1 178.8 L564.3 178.5 L565.5 178.2 L566.7 177.9 L567.9 177.5 L569.1 177.1 L570.3 176.5 L571.5 175.9 L572.7 175.1 L573.9 174.1 L575.1 172.9 L576.3 171.4 L577.5 169.6 L578.7 167.5 L579.9 165.2 L581.1 163.1 L582.3 165.3 L583.5 175.3 L584.7 180.5 L585.9 181.0 L587.1 181.0 L588.3 181.0 L589.5 181.0 L590.7 181.0 L591.9 181.0 L593.1 181.0 L594.3 181.0 L595.5 181.0 L596.7 181.0 L597.9 181.0 L599.1 181.0 L600.3 181.0" stroke="#2244ff" stroke-width="1.7" fill="none" stroke-linejoin="round"/>
<path d="M533.1 181.0 L534.3 181.0 L535.5 181.0 L536.7 181.0 L537.9 181.0 L539.1 181.0 L540.3 181.0 L541.5 181.0 L542.7 181.0 L543.9 181.0 L545.1 181.0 L546.3 181.0 L547.5 181.0 L548.7 181.0 L549.9 181.0 L551.1 181.0 L552.3 180.9 L553.5 180.9 L554.7 180.9 L555.9 180.9 L557.1 180.9 L558.3 180.8 L559.5 180.7 L560.7 180.6 L561.9 180.5 L563.1 180.3 L564.3 180.0 L565.5 179.7 L566.7 179.3 L567.9 178.8 L569.1 178.2 L570.3 177.5 L571.5 176.8 L572.7 176.0 L573.9 175.2 L575.1 174.5 L576.3 173.8 L577.5 173.3 L578.7 172.9 L579.9 172.8 L581.1 172.9 L582.3 173.2 L583.5 173.7 L584.7 174.4 L585.9 175.2 L587.1 176.0 L588.3 176.9 L589.5 177.8 L590.7 178.5 L591.9 179.2 L593.1 179.7 L594.3 180.1 L595.5 180.4 L596.7 180.6 L597.9 180.7 L599.1 180.8 L600.3 180.9" stroke="#ec0a12" stroke-width="1.7" fill="none" stroke-linejoin="round"/>
<path d="M533.1 193.3 L534.3 193.2 L535.5 193.2 L536.7 193.2 L537.9 193.2 L539.1 193.2 L540.3 193.1 L541.5 193.1 L542.7 193.1 L543.9 193.0 L545.1 193.0 L546.3 192.9 L547.5 192.9 L548.7 192.8 L549.9 192.8 L551.1 192.7 L552.3 192.7 L553.5 192.6 L554.7 192.5 L555.9 192.4 L557.1 192.3 L558.3 192.2 L559.5 192.0 L560.7 191.9 L561.9 191.7 L563.1 191.5 L564.3 191.3 L565.5 191.0 L566.7 190.7 L567.9 190.4 L569.1 190.0 L570.3 189.5 L571.5 188.9 L572.7 188.2 L573.9 187.4 L575.1 186.4 L576.3 185.1 L577.5 183.6 L578.7 181.7 L579.9 179.5 L581.1 177.4 L582.3 178.9 L583.5 188.2 L584.7 193.1 L585.9 193.6 L587.1 193.6 L588.3 193.6 L589.5 193.6 L590.7 193.6 L591.9 193.6 L593.1 193.6 L594.3 193.6 L595.5 193.6 L596.7 193.6 L597.9 193.6 L599.1 193.6 L600.3 193.6" stroke="#2244ff" stroke-width="1.7" fill="none" stroke-linejoin="round"/>
<path d="M533.1 193.6 L534.3 193.6 L535.5 193.6 L536.7 193.6 L537.9 193.6 L539.1 193.6 L540.3 193.6 L541.5 193.6 L542.7 193.6 L543.9 193.6 L545.1 193.6 L546.3 193.6 L547.5 193.6 L548.7 193.6 L549.9 193.6 L551.1 193.6 L552.3 193.6 L553.5 193.6 L554.7 193.6 L555.9 193.5 L557.1 193.5 L558.3 193.5 L559.5 193.5 L560.7 193.4 L561.9 193.3 L563.1 193.2 L564.3 193.0 L565.5 192.7 L566.7 192.4 L567.9 192.0 L569.1 191.5 L570.3 191.0 L571.5 190.3 L572.7 189.6 L573.9 188.8 L575.1 188.0 L576.3 187.3 L577.5 186.6 L578.7 186.0 L579.9 185.7 L581.1 185.6 L582.3 185.7 L583.5 186.1 L584.7 186.7 L585.9 187.5 L587.1 188.3 L588.3 189.2 L589.5 190.1 L590.7 190.9 L591.9 191.6 L593.1 192.1 L594.3 192.6 L595.5 192.9 L596.7 193.1 L597.9 193.3 L599.1 193.4 L600.3 193.5" stroke="#ec0a12" stroke-width="1.7" fill="none" stroke-linejoin="round"/>
<path d="M533.1 205.9 L534.3 205.9 L535.5 205.9 L536.7 205.9 L537.9 205.9 L539.1 205.9 L540.3 205.8 L541.5 205.8 L542.7 205.8 L543.9 205.8 L545.1 205.7 L546.3 205.7 L547.5 205.6 L548.7 205.6 L549.9 205.6 L551.1 205.5 L552.3 205.5 L553.5 205.4 L554.7 205.3 L555.9 205.2 L557.1 205.2 L558.3 205.1 L559.5 205.0 L560.7 204.8 L561.9 204.7 L563.1 204.5 L564.3 204.4 L565.5 204.2 L566.7 203.9 L567.9 203.7 L569.1 203.4 L570.3 203.0 L571.5 202.6 L572.7 202.1 L573.9 201.5 L575.1 200.7 L576.3 199.8 L577.5 198.7 L578.7 197.3 L579.9 195.7 L581.1 194.0 L582.3 195.0 L583.5 202.0 L584.7 205.9 L585.9 206.2 L587.1 206.2 L588.3 206.2 L589.5 206.2 L590.7 206.2 L591.9 206.2 L593.1 206.2 L594.3 206.2 L595.5 206.2 L596.7 206.2 L597.9 206.2 L599.1 206.2 L600.3 206.2" stroke="#2244ff" stroke-width="1.7" fill="none" stroke-linejoin="round"/>
<path d="M533.1 206.2 L534.3 206.2 L535.5 206.2 L536.7 206.2 L537.9 206.2 L539.1 206.2 L540.3 206.2 L541.5 206.2 L542.7 206.2 L543.9 206.2 L545.1 206.2 L546.3 206.2 L547.5 206.2 L548.7 206.2 L549.9 206.2 L551.1 206.2 L552.3 206.2 L553.5 206.2 L554.7 206.2 L555.9 206.2 L557.1 206.2 L558.3 206.2 L559.5 206.1 L560.7 206.1 L561.9 206.0 L563.1 205.9 L564.3 205.8 L565.5 205.6 L566.7 205.4 L567.9 205.1 L569.1 204.7 L570.3 204.3 L571.5 203.7 L572.7 203.1 L573.9 202.5 L575.1 201.8 L576.3 201.1 L577.5 200.4 L578.7 199.9 L579.9 199.5 L581.1 199.2 L582.3 199.2 L583.5 199.5 L584.7 200.0 L585.9 200.6 L587.1 201.3 L588.3 202.1 L589.5 202.9 L590.7 203.6 L591.9 204.3 L593.1 204.8 L594.3 205.2 L595.5 205.5 L596.7 205.7 L597.9 205.9 L599.1 206.0 L600.3 206.1" stroke="#ec0a12" stroke-width="1.7" fill="none" stroke-linejoin="round"/>
<path d="M533.1 218.6 L534.3 218.6 L535.5 218.6 L536.7 218.6 L537.9 218.6 L539.1 218.6 L540.3 218.6 L541.5 218.5 L542.7 218.5 L543.9 218.5 L545.1 218.5 L546.3 218.5 L547.5 218.4 L548.7 218.4 L549.9 218.4 L551.1 218.3 L552.3 218.3 L553.5 218.3 L554.7 218.2 L555.9 218.2 L557.1 218.1 L558.3 218.0 L559.5 218.0 L560.7 217.9 L561.9 217.8 L563.1 217.7 L564.3 217.6 L565.5 217.4 L566.7 217.3 L567.9 217.1 L569.1 216.9 L570.3 216.7 L571.5 216.4 L572.7 216.1 L573.9 215.7 L575.1 215.2 L576.3 214.7 L577.5 214.0 L578.7 213.2 L579.9 212.1 L581.1 211.0 L582.3 211.6 L583.5 216.1 L584.7 218.6 L585.9 218.8 L587.1 218.8 L588.3 218.8 L589.5 218.8 L590.7 218.8 L591.9 218.8 L593.1 218.8 L594.3 218.8 L595.5 218.8 L596.7 218.8 L597.9 218.8 L599.1 218.8 L600.3 218.8" stroke="#2244ff" stroke-width="1.7" fill="none" stroke-linejoin="round"/>
<path d="M533.1 218.8 L534.3 218.8 L535.5 218.8 L536.7 218.8 L537.9 218.8 L539.1 218.8 L540.3 218.8 L541.5 218.8 L542.7 218.8 L543.9 218.8 L545.1 218.8 L546.3 218.8 L547.5 218.8 L548.7 218.8 L549.9 218.8 L551.1 218.8 L552.3 218.8 L553.5 218.8 L554.7 218.8 L555.9 218.8 L557.1 218.8 L558.3 218.8 L559.5 218.8 L560.7 218.7 L561.9 218.7 L563.1 218.6 L564.3 218.5 L565.5 218.4 L566.7 218.2 L567.9 218.0 L569.1 217.7 L570.3 217.3 L571.5 216.9 L572.7 216.4 L573.9 215.8 L575.1 215.2 L576.3 214.5 L577.5 213.9 L578.7 213.3 L579.9 212.8 L581.1 212.5 L582.3 212.4 L583.5 212.5 L584.7 212.9 L585.9 213.4 L587.1 214.1 L588.3 214.9 L589.5 215.6 L590.7 216.3 L591.9 216.9 L593.1 217.4 L594.3 217.8 L595.5 218.1 L596.7 218.4 L597.9 218.5 L599.1 218.6 L600.3 218.7" stroke="#ec0a12" stroke-width="1.7" fill="none" stroke-linejoin="round"/>
<path d="M533.1 231.3 L534.3 231.3 L535.5 231.3 L536.7 231.3 L537.9 231.3 L539.1 231.3 L540.3 231.3 L541.5 231.3 L542.7 231.3 L543.9 231.3 L545.1 231.2 L546.3 231.2 L547.5 231.2 L548.7 231.2 L549.9 231.2 L551.1 231.2 L552.3 231.1 L553.5 231.1 L554.7 231.1 L555.9 231.1 L557.1 231.0 L558.3 231.0 L559.5 230.9 L560.7 230.9 L561.9 230.8 L563.1 230.8 L564.3 230.7 L565.5 230.6 L566.7 230.6 L567.9 230.5 L569.1 230.4 L570.3 230.2 L571.5 230.1 L572.7 229.9 L573.9 229.7 L575.1 229.5 L576.3 229.2 L577.5 228.8 L578.7 228.4 L579.9 227.8 L581.1 227.3 L582.3 227.6 L583.5 230.0 L584.7 231.3 L585.9 231.4 L587.1 231.4 L588.3 231.4 L589.5 231.4 L590.7 231.4 L591.9 231.4 L593.1 231.4 L594.3 231.4 L595.5 231.4 L596.7 231.4 L597.9 231.4 L599.1 231.4 L600.3 231.4" stroke="#2244ff" stroke-width="1.7" fill="none" stroke-linejoin="round"/>
<path d="M533.1 231.4 L534.3 231.4 L535.5 231.4 L536.7 231.4 L537.9 231.4 L539.1 231.4 L540.3 231.4 L541.5 231.4 L542.7 231.4 L543.9 231.4 L545.1 231.4 L546.3 231.4 L547.5 231.4 L548.7 231.4 L549.9 231.4 L551.1 231.4 L552.3 231.4 L553.5 231.4 L554.7 231.4 L555.9 231.4 L557.1 231.4 L558.3 231.4 L559.5 231.4 L560.7 231.4 L561.9 231.4 L563.1 231.3 L564.3 231.2 L565.5 231.1 L566.7 231.0 L567.9 230.8 L569.1 230.6 L570.3 230.3 L571.5 230.0 L572.7 229.5 L573.9 229.0 L575.1 228.5 L576.3 227.9 L577.5 227.2 L578.7 226.7 L579.9 226.2 L581.1 225.8 L582.3 225.6 L583.5 225.6 L584.7 225.8 L585.9 226.3 L587.1 226.9 L588.3 227.5 L589.5 228.3 L590.7 228.9 L591.9 229.5 L593.1 230.0 L594.3 230.4 L595.5 230.7 L596.7 231.0 L597.9 231.1 L599.1 231.2 L600.3 231.3" stroke="#ec0a12" stroke-width="1.7" fill="none" stroke-linejoin="round"/>
<path d="M533.1 244.0 L534.3 244.0 L535.5 244.0 L536.7 244.0 L537.9 243.9 L539.1 243.9 L540.3 243.9 L541.5 243.9 L542.7 243.9 L543.9 243.9 L545.1 243.9 L546.3 243.9 L547.5 243.9 L548.7 243.9 L549.9 243.8 L551.1 243.8 L552.3 243.8 L553.5 243.8 L554.7 243.8 L555.9 243.7 L557.1 243.7 L558.3 243.7 L559.5 243.6 L560.7 243.6 L561.9 243.6 L563.1 243.5 L564.3 243.5 L565.5 243.4 L566.7 243.3 L567.9 243.2 L569.1 243.2 L570.3 243.0 L571.5 242.9 L572.7 242.8 L573.9 242.6 L575.1 242.4 L576.3 242.2 L577.5 241.9 L578.7 241.6 L579.9 241.2 L581.1 240.7 L582.3 241.0 L583.5 242.9 L584.7 244.0 L585.9 244.1 L587.1 244.1 L588.3 244.1 L589.5 244.1 L590.7 244.1 L591.9 244.1 L593.1 244.1 L594.3 244.1 L595.5 244.1 L596.7 244.1 L597.9 244.1 L599.1 244.1 L600.3 244.1" stroke="#2244ff" stroke-width="1.7" fill="none" stroke-linejoin="round"/>
<path d="M533.1 244.1 L534.3 244.1 L535.5 244.1 L536.7 244.1 L537.9 244.1 L539.1 244.1 L540.3 244.1 L541.5 244.1 L542.7 244.1 L543.9 244.1 L545.1 244.1 L546.3 244.1 L547.5 244.1 L548.7 244.1 L549.9 244.1 L551.1 244.1 L552.3 244.1 L553.5 244.1 L554.7 244.1 L555.9 244.1 L557.1 244.1 L558.3 244.0 L559.5 244.0 L560.7 244.0 L561.9 244.0 L563.1 244.0 L564.3 243.9 L565.5 243.9 L566.7 243.8 L567.9 243.7 L569.1 243.5 L570.3 243.3 L571.5 243.0 L572.7 242.7 L573.9 242.3 L575.1 241.8 L576.3 241.4 L577.5 240.8 L578.7 240.3 L579.9 239.8 L581.1 239.5 L582.3 239.2 L583.5 239.1 L584.7 239.2 L585.9 239.5 L587.1 240.0 L588.3 240.6 L589.5 241.2 L590.7 241.8 L591.9 242.3 L593.1 242.8 L594.3 243.1 L595.5 243.4 L596.7 243.6 L597.9 243.8 L599.1 243.9 L600.3 243.9" stroke="#ec0a12" stroke-width="1.7" fill="none" stroke-linejoin="round"/>
<path d="M533.1 256.6 L534.3 256.6 L535.5 256.6 L536.7 256.6 L537.9 256.6 L539.1 256.6 L540.3 256.6 L541.5 256.6 L542.7 256.6 L543.9 256.6 L545.1 256.5 L546.3 256.5 L547.5 256.5 L548.7 256.5 L549.9 256.5 L551.1 256.5 L552.3 256.5 L553.5 256.5 L554.7 256.4 L555.9 256.4 L557.1 256.4 L558.3 256.4 L559.5 256.3 L560.7 256.3 L561.9 256.3 L563.1 256.2 L564.3 256.2 L565.5 256.2 L566.7 256.1 L567.9 256.0 L569.1 256.0 L570.3 255.9 L571.5 255.8 L572.7 255.7 L573.9 255.6 L575.1 255.4 L576.3 255.3 L577.5 255.1 L578.7 254.8 L579.9 254.5 L581.1 254.2 L582.3 254.4 L583.5 255.8 L584.7 256.6 L585.9 256.7 L587.1 256.7 L588.3 256.7 L589.5 256.7 L590.7 256.7 L591.9 256.7 L593.1 256.7 L594.3 256.7 L595.5 256.7 L596.7 256.7 L597.9 256.7 L599.1 256.7 L600.3 256.7" stroke="#2244ff" stroke-width="1.7" fill="none" stroke-linejoin="round"/>
<path d="M533.1 256.7 L534.3 256.7 L535.5 256.7 L536.7 256.7 L537.9 256.7 L539.1 256.7 L540.3 256.7 L541.5 256.7 L542.7 256.7 L543.9 256.7 L545.1 256.7 L546.3 256.7 L547.5 256.7 L548.7 256.7 L549.9 256.7 L551.1 256.7 L552.3 256.7 L553.5 256.7 L554.7 256.7 L555.9 256.7 L557.1 256.7 L558.3 256.7 L559.5 256.7 L560.7 256.7 L561.9 256.7 L563.1 256.6 L564.3 256.6 L565.5 256.6 L566.7 256.5 L567.9 256.4 L569.1 256.3 L570.3 256.2 L571.5 256.0 L572.7 255.7 L573.9 255.5 L575.1 255.1 L576.3 254.7 L577.5 254.3 L578.7 253.9 L579.9 253.5 L581.1 253.1 L582.3 252.8 L583.5 252.7 L584.7 252.7 L585.9 252.9 L587.1 253.2 L588.3 253.7 L589.5 254.2 L590.7 254.7 L591.9 255.1 L593.1 255.5 L594.3 255.8 L595.5 256.1 L596.7 256.3 L597.9 256.4 L599.1 256.5 L600.3 256.6" stroke="#ec0a12" stroke-width="1.7" fill="none" stroke-linejoin="round"/>
<path d="M533.1 269.2 L534.3 269.2 L535.5 269.2 L536.7 269.2 L537.9 269.2 L539.1 269.2 L540.3 269.2 L541.5 269.2 L542.7 269.2 L543.9 269.2 L545.1 269.2 L546.3 269.2 L547.5 269.2 L548.7 269.1 L549.9 269.1 L551.1 269.1 L552.3 269.1 L553.5 269.1 L554.7 269.1 L555.9 269.0 L557.1 269.0 L558.3 269.0 L559.5 269.0 L560.7 268.9 L561.9 268.9 L563.1 268.9 L564.3 268.8 L565.5 268.8 L566.7 268.7 L567.9 268.7 L569.1 268.6 L570.3 268.6 L571.5 268.5 L572.7 268.4 L573.9 268.3 L575.1 268.1 L576.3 268.0 L577.5 267.8 L578.7 267.6 L579.9 267.4 L581.1 267.1 L582.3 267.3 L583.5 268.5 L584.7 269.2 L585.9 269.3 L587.1 269.3 L588.3 269.3 L589.5 269.3 L590.7 269.3 L591.9 269.3 L593.1 269.3 L594.3 269.3 L595.5 269.3 L596.7 269.3 L597.9 269.3 L599.1 269.3 L600.3 269.3" stroke="#2244ff" stroke-width="1.7" fill="none" stroke-linejoin="round"/>
<path d="M533.1 269.3 L534.3 269.3 L535.5 269.3 L536.7 269.3 L537.9 269.3 L539.1 269.3 L540.3 269.3 L541.5 269.3 L542.7 269.3 L543.9 269.3 L545.1 269.3 L546.3 269.3 L547.5 269.3 L548.7 269.3 L549.9 269.3 L551.1 269.3 L552.3 269.3 L553.5 269.3 L554.7 269.3 L555.9 269.3 L557.1 269.3 L558.3 269.3 L559.5 269.3 L560.7 269.3 L561.9 269.3 L563.1 269.3 L564.3 269.3 L565.5 269.2 L566.7 269.2 L567.9 269.2 L569.1 269.1 L570.3 269.0 L571.5 268.9 L572.7 268.7 L573.9 268.5 L575.1 268.3 L576.3 268.0 L577.5 267.7 L578.7 267.4 L579.9 267.0 L581.1 266.7 L582.3 266.5 L583.5 266.3 L584.7 266.3 L585.9 266.4 L587.1 266.6 L588.3 266.9 L589.5 267.3 L590.7 267.7 L591.9 268.0 L593.1 268.4 L594.3 268.6 L595.5 268.8 L596.7 269.0 L597.9 269.1 L599.1 269.1 L600.3 269.2" stroke="#ec0a12" stroke-width="1.7" fill="none" stroke-linejoin="round"/>
<path d="M533.1 281.9 L534.3 281.8 L535.5 281.8 L536.7 281.8 L537.9 281.8 L539.1 281.8 L540.3 281.8 L541.5 281.8 L542.7 281.8 L543.9 281.8 L545.1 281.8 L546.3 281.8 L547.5 281.8 L548.7 281.8 L549.9 281.8 L551.1 281.7 L552.3 281.7 L553.5 281.7 L554.7 281.7 L555.9 281.7 L557.1 281.7 L558.3 281.6 L559.5 281.6 L560.7 281.6 L561.9 281.6 L563.1 281.5 L564.3 281.5 L565.5 281.4 L566.7 281.4 L567.9 281.4 L569.1 281.3 L570.3 281.2 L571.5 281.2 L572.7 281.1 L573.9 281.0 L575.1 280.9 L576.3 280.7 L577.5 280.6 L578.7 280.4 L579.9 280.2 L581.1 280.0 L582.3 280.1 L583.5 281.3 L584.7 281.9 L585.9 281.9 L587.1 281.9 L588.3 281.9 L589.5 281.9 L590.7 281.9 L591.9 281.9 L593.1 281.9 L594.3 281.9 L595.5 281.9 L596.7 281.9 L597.9 281.9 L599.1 281.9 L600.3 281.9" stroke="#2244ff" stroke-width="1.7" fill="none" stroke-linejoin="round"/>
<path d="M533.1 281.9 L534.3 281.9 L535.5 281.9 L536.7 281.9 L537.9 281.9 L539.1 281.9 L540.3 281.9 L541.5 281.9 L542.7 281.9 L543.9 281.9 L545.1 281.9 L546.3 281.9 L547.5 281.9 L548.7 281.9 L549.9 281.9 L551.1 281.9 L552.3 281.9 L553.5 281.9 L554.7 281.9 L555.9 281.9 L557.1 281.9 L558.3 281.9 L559.5 281.9 L560.7 281.9 L561.9 281.9 L563.1 281.9 L564.3 281.9 L565.5 281.9 L566.7 281.9 L567.9 281.8 L569.1 281.8 L570.3 281.8 L571.5 281.7 L572.7 281.6 L573.9 281.5 L575.1 281.3 L576.3 281.2 L577.5 281.0 L578.7 280.7 L579.9 280.5 L581.1 280.3 L582.3 280.1 L583.5 280.0 L584.7 279.9 L585.9 279.9 L587.1 280.1 L588.3 280.2 L589.5 280.5 L590.7 280.8 L591.9 281.0 L593.1 281.2 L594.3 281.4 L595.5 281.6 L596.7 281.7 L597.9 281.7 L599.1 281.8 L600.3 281.8" stroke="#ec0a12" stroke-width="1.7" fill="none" stroke-linejoin="round"/>
<path d="M533.1 294.5 L534.3 294.5 L535.5 294.5 L536.7 294.5 L537.9 294.5 L539.1 294.5 L540.3 294.5 L541.5 294.5 L542.7 294.4 L543.9 294.4 L545.1 294.4 L546.3 294.4 L547.5 294.4 L548.7 294.4 L549.9 294.4 L551.1 294.4 L552.3 294.4 L553.5 294.4 L554.7 294.4 L555.9 294.3 L557.1 294.3 L558.3 294.3 L559.5 294.3 L560.7 294.3 L561.9 294.2 L563.1 294.2 L564.3 294.2 L565.5 294.1 L566.7 294.1 L567.9 294.1 L569.1 294.0 L570.3 294.0 L571.5 293.9 L572.7 293.8 L573.9 293.8 L575.1 293.7 L576.3 293.6 L577.5 293.4 L578.7 293.3 L579.9 293.1 L581.1 293.0 L582.3 293.1 L583.5 294.0 L584.7 294.5 L585.9 294.5 L587.1 294.5 L588.3 294.5 L589.5 294.5 L590.7 294.5 L591.9 294.5 L593.1 294.5 L594.3 294.5 L595.5 294.5 L596.7 294.5 L597.9 294.5 L599.1 294.5 L600.3 294.5" stroke="#2244ff" stroke-width="1.7" fill="none" stroke-linejoin="round"/>
<path d="M533.1 294.5 L534.3 294.5 L535.5 294.5 L536.7 294.5 L537.9 294.5 L539.1 294.5 L540.3 294.5 L541.5 294.5 L542.7 294.5 L543.9 294.5 L545.1 294.5 L546.3 294.5 L547.5 294.5 L548.7 294.5 L549.9 294.5 L551.1 294.5 L552.3 294.5 L553.5 294.5 L554.7 294.5 L555.9 294.5 L557.1 294.5 L558.3 294.5 L559.5 294.5 L560.7 294.5 L561.9 294.5 L563.1 294.5 L564.3 294.5 L565.5 294.5 L566.7 294.5 L567.9 294.5 L569.1 294.5 L570.3 294.4 L571.5 294.4 L572.7 294.3 L573.9 294.3 L575.1 294.2 L576.3 294.0 L577.5 293.9 L578.7 293.7 L579.9 293.6 L581.1 293.4 L582.3 293.3 L583.5 293.1 L584.7 293.1 L585.9 293.0 L587.1 293.1 L588.3 293.2 L589.5 293.4 L590.7 293.6 L591.9 293.8 L593.1 294.0 L594.3 294.1 L595.5 294.2 L596.7 294.3 L597.9 294.4 L599.1 294.4 L600.3 294.5" stroke="#ec0a12" stroke-width="1.7" fill="none" stroke-linejoin="round"/>
<path d="M533.1 307.1 L534.3 307.1 L535.5 307.1 L536.7 307.1 L537.9 307.1 L539.1 307.1 L540.3 307.1 L541.5 307.1 L542.7 307.1 L543.9 307.1 L545.1 307.1 L546.3 307.1 L547.5 307.1 L548.7 307.1 L549.9 307.1 L551.1 307.0 L552.3 307.0 L553.5 307.0 L554.7 307.0 L555.9 307.0 L557.1 307.0 L558.3 307.0 L559.5 307.0 L560.7 306.9 L561.9 306.9 L563.1 306.9 L564.3 306.9 L565.5 306.9 L566.7 306.8 L567.9 306.8 L569.1 306.8 L570.3 306.7 L571.5 306.7 L572.7 306.6 L573.9 306.6 L575.1 306.5 L576.3 306.4 L577.5 306.3 L578.7 306.2 L579.9 306.1 L581.1 306.0 L582.3 306.1 L583.5 306.8 L584.7 307.1 L585.9 307.2 L587.1 307.2 L588.3 307.2 L589.5 307.2 L590.7 307.2 L591.9 307.2 L593.1 307.2 L594.3 307.2 L595.5 307.2 L596.7 307.2 L597.9 307.2 L599.1 307.2 L600.3 307.2" stroke="#2244ff" stroke-width="1.7" fill="none" stroke-linejoin="round"/>
<path d="M533.1 307.2 L534.3 307.2 L535.5 307.2 L536.7 307.2 L537.9 307.2 L539.1 307.2 L540.3 307.2 L541.5 307.2 L542.7 307.2 L543.9 307.2 L545.1 307.2 L546.3 307.2 L547.5 307.2 L548.7 307.2 L549.9 307.2 L551.1 307.2 L552.3 307.2 L553.5 307.2 L554.7 307.2 L555.9 307.2 L557.1 307.2 L558.3 307.2 L559.5 307.2 L560.7 307.2 L561.9 307.2 L563.1 307.2 L564.3 307.2 L565.5 307.2 L566.7 307.1 L567.9 307.1 L569.1 307.1 L570.3 307.1 L571.5 307.1 L572.7 307.1 L573.9 307.0 L575.1 306.9 L576.3 306.9 L577.5 306.8 L578.7 306.7 L579.9 306.6 L581.1 306.5 L582.3 306.3 L583.5 306.2 L584.7 306.2 L585.9 306.2 L587.1 306.2 L588.3 306.2 L589.5 306.4 L590.7 306.5 L591.9 306.6 L593.1 306.7 L594.3 306.8 L595.5 306.9 L596.7 307.0 L597.9 307.0 L599.1 307.1 L600.3 307.1" stroke="#ec0a12" stroke-width="1.7" fill="none" stroke-linejoin="round"/>
<path d="M533.1 319.7 L534.3 319.7 L535.5 319.7 L536.7 319.7 L537.9 319.7 L539.1 319.7 L540.3 319.7 L541.5 319.7 L542.7 319.7 L543.9 319.7 L545.1 319.7 L546.3 319.7 L547.5 319.7 L548.7 319.7 L549.9 319.7 L551.1 319.7 L552.3 319.7 L553.5 319.7 L554.7 319.7 L555.9 319.6 L557.1 319.6 L558.3 319.6 L559.5 319.6 L560.7 319.6 L561.9 319.6 L563.1 319.6 L564.3 319.5 L565.5 319.5 L566.7 319.5 L567.9 319.5 L569.1 319.4 L570.3 319.4 L571.5 319.4 L572.7 319.3 L573.9 319.3 L575.1 319.2 L576.3 319.1 L577.5 319.1 L578.7 319.0 L579.9 318.9 L581.1 318.8 L582.3 318.9 L583.5 319.5 L584.7 319.8 L585.9 319.8 L587.1 319.8 L588.3 319.8 L589.5 319.8 L590.7 319.8 L591.9 319.8 L593.1 319.8 L594.3 319.8 L595.5 319.8 L596.7 319.8 L597.9 319.8 L599.1 319.8 L600.3 319.8" stroke="#2244ff" stroke-width="1.7" fill="none" stroke-linejoin="round"/>
<path d="M533.1 319.8 L534.3 319.8 L535.5 319.8 L536.7 319.8 L537.9 319.8 L539.1 319.8 L540.3 319.8 L541.5 319.8 L542.7 319.8 L543.9 319.8 L545.1 319.8 L546.3 319.8 L547.5 319.8 L548.7 319.8 L549.9 319.8 L551.1 319.8 L552.3 319.8 L553.5 319.8 L554.7 319.8 L555.9 319.8 L557.1 319.8 L558.3 319.8 L559.5 319.8 L560.7 319.8 L561.9 319.8 L563.1 319.8 L564.3 319.8 L565.5 319.8 L566.7 319.8 L567.9 319.8 L569.1 319.8 L570.3 319.7 L571.5 319.7 L572.7 319.7 L573.9 319.7 L575.1 319.6 L576.3 319.6 L577.5 319.5 L578.7 319.4 L579.9 319.4 L581.1 319.3 L582.3 319.2 L583.5 319.1 L584.7 319.0 L585.9 319.0 L587.1 319.0 L588.3 319.0 L589.5 319.1 L590.7 319.2 L591.9 319.3 L593.1 319.4 L594.3 319.5 L595.5 319.6 L596.7 319.6 L597.9 319.7 L599.1 319.7 L600.3 319.7" stroke="#ec0a12" stroke-width="1.7" fill="none" stroke-linejoin="round"/>
<path d="M533.1 330.0 L534.3 330.0 L535.5 330.0 L536.7 330.0 L537.9 330.0 L539.1 330.0 L540.3 330.0 L541.5 330.0 L542.7 329.9 L543.9 329.9 L545.1 329.9 L546.3 329.9 L547.5 329.9 L548.7 329.9 L549.9 329.9 L551.1 329.9 L552.3 329.9 L553.5 329.9 L554.7 329.9 L555.9 329.9 L557.1 329.9 L558.3 329.9 L559.5 329.9 L560.7 329.8 L561.9 329.8 L563.1 329.8 L564.3 329.8 L565.5 329.8 L566.7 329.8 L567.9 329.7 L569.1 329.7 L570.3 329.7 L571.5 329.7 L572.7 329.6 L573.9 329.6 L575.1 329.5 L576.3 329.5 L577.5 329.4 L578.7 329.4 L579.9 329.3 L581.1 329.2 L582.3 329.3 L583.5 329.7 L584.7 330.0 L585.9 330.0 L587.1 330.0 L588.3 330.0 L589.5 330.0 L590.7 330.0 L591.9 330.0 L593.1 330.0 L594.3 330.0 L595.5 330.0 L596.7 330.0 L597.9 330.0 L599.1 330.0 L600.3 330.0" stroke="#2244ff" stroke-width="1.7" fill="none" stroke-linejoin="round"/>
<path d="M533.1 330.0 L534.3 330.0 L535.5 330.0 L536.7 330.0 L537.9 330.0 L539.1 330.0 L540.3 330.0 L541.5 330.0 L542.7 330.0 L543.9 330.0 L545.1 330.0 L546.3 330.0 L547.5 330.0 L548.7 330.0 L549.9 330.0 L551.1 330.0 L552.3 330.0 L553.5 330.0 L554.7 330.0 L555.9 330.0 L557.1 330.0 L558.3 330.0 L559.5 330.0 L560.7 330.0 L561.9 330.0 L563.1 330.0 L564.3 330.0 L565.5 330.0 L566.7 330.0 L567.9 330.0 L569.1 330.0 L570.3 330.0 L571.5 330.0 L572.7 330.0 L573.9 329.9 L575.1 329.9 L576.3 329.9 L577.5 329.9 L578.7 329.8 L579.9 329.8 L581.1 329.7 L582.3 329.6 L583.5 329.6 L584.7 329.5 L585.9 329.5 L587.1 329.5 L588.3 329.5 L589.5 329.6 L590.7 329.6 L591.9 329.7 L593.1 329.7 L594.3 329.8 L595.5 329.9 L596.7 329.9 L597.9 329.9 L599.1 329.9 L600.3 330.0" stroke="#ec0a12" stroke-width="1.7" fill="none" stroke-linejoin="round"/>
<path d="M564.85 17 L568.35 17 L566.6 12.4 Z" stroke="#2244ff" stroke-width="1.25" fill="#fff"/>
<path d="M573.55 15.8 L577.05 15.8 L575.3 11.2 Z" stroke="#ec0a12" stroke-width="1.25" fill="#fff"/>
<path d="M564.95 28.95 L568.45 28.95 L566.7 24.35 Z" stroke="#2244ff" stroke-width="1.25" fill="#fff"/>
<path d="M573.55 28.32 L577.05 28.32 L575.3 23.72 Z" stroke="#ec0a12" stroke-width="1.25" fill="#fff"/>
<path d="M565.27 40.91 L568.77 40.91 L567.02 36.31 Z" stroke="#2244ff" stroke-width="1.25" fill="#fff"/>
<path d="M573.57 40.84 L577.07 40.84 L575.32 36.24 Z" stroke="#ec0a12" stroke-width="1.25" fill="#fff"/>
<path d="M565.79 52.86 L569.29 52.86 L567.54 48.26 Z" stroke="#2244ff" stroke-width="1.25" fill="#fff"/>
<path d="M573.62 53.36 L577.12 53.36 L575.37 48.76 Z" stroke="#ec0a12" stroke-width="1.25" fill="#fff"/>
<path d="M566.53 64.48 L570.03 64.48 L568.28 59.88 Z" stroke="#2244ff" stroke-width="1.25" fill="#fff"/>
<path d="M573.73 65.88 L577.23 65.88 L575.48 61.28 Z" stroke="#ec0a12" stroke-width="1.25" fill="#fff"/>
<path d="M567.47 76.1 L570.97 76.1 L569.22 71.5 Z" stroke="#2244ff" stroke-width="1.25" fill="#fff"/>
<path d="M573.9 78.4 L577.4 78.4 L575.65 73.8 Z" stroke="#ec0a12" stroke-width="1.25" fill="#fff"/>
<path d="M568.63 87.22 L572.13 87.22 L570.38 82.62 Z" stroke="#2244ff" stroke-width="1.25" fill="#fff"/>
<path d="M574.15 90.98 L577.65 90.98 L575.9 86.38 Z" stroke="#ec0a12" stroke-width="1.25" fill="#fff"/>
<path d="M569.99 98.34 L573.49 98.34 L571.74 93.74 Z" stroke="#2244ff" stroke-width="1.25" fill="#fff"/>
<path d="M574.51 103.55 L578.01 103.55 L576.26 98.95 Z" stroke="#ec0a12" stroke-width="1.25" fill="#fff"/>
<path d="M571.57 109.47 L575.07 109.47 L573.32 104.87 Z" stroke="#2244ff" stroke-width="1.25" fill="#fff"/>
<path d="M574.98 116.17 L578.48 116.17 L576.73 111.57 Z" stroke="#ec0a12" stroke-width="1.25" fill="#fff"/>
<path d="M573.35 121.09 L576.85 121.09 L575.1 116.49 Z" stroke="#2244ff" stroke-width="1.25" fill="#fff"/>
<path d="M575.59 128.8 L579.09 128.8 L577.34 124.2 Z" stroke="#ec0a12" stroke-width="1.25" fill="#fff"/>
<path d="M575.35 132.73 L578.85 132.73 L577.1 128.13 Z" stroke="#2244ff" stroke-width="1.25" fill="#fff"/>
<path d="M576.35 141.43 L579.85 141.43 L578.1 136.83 Z" stroke="#ec0a12" stroke-width="1.25" fill="#fff"/>
<path d="M577.55 144.4 L581.05 144.4 L579.3 139.8 Z" stroke="#2244ff" stroke-width="1.25" fill="#fff"/>
<path d="M577.28 153.87 L580.78 153.87 L579.03 149.27 Z" stroke="#ec0a12" stroke-width="1.25" fill="#fff"/>
<path d="M578.4 166.69 L581.9 166.69 L580.15 162.09 Z" stroke="#ec0a12" stroke-width="1.25" fill="#fff"/>
<path d="M579.71 179.55 L583.21 179.55 L581.46 174.95 Z" stroke="#ec0a12" stroke-width="1.25" fill="#fff"/>
<line x1="583" y1="5.6" x2="583" y2="332.5" stroke="#111" stroke-width="2.0" stroke-dasharray="6 5.85" stroke-dashoffset="5.55"/>
<rect x="533.1" y="4.6" width="67.3" height="327.9" fill="none" stroke="#111" stroke-width="2.0"/>
<line x1="532.9" y1="332.5" x2="532.9" y2="338.5" stroke="#111" stroke-width="1.8"/>
<line x1="557.7" y1="332.5" x2="557.7" y2="338.5" stroke="#111" stroke-width="1.8"/>
<line x1="582.7" y1="332.5" x2="582.7" y2="338.5" stroke="#111" stroke-width="1.8"/>
<text transform="translate(519.13 350.29) scale(0.960 1)" font-size="14.00" fill="#111" stroke="#111" stroke-width="0.2">-0.2</text>
<text transform="translate(547.35 350.29) scale(0.911 1)" font-size="14.00" fill="#111" stroke="#111" stroke-width="0.2">-0.1</text>
<text transform="translate(574.86 350.29) scale(0.965 1)" font-size="14.00" fill="#111" stroke="#111" stroke-width="0.2">0.0</text>
<text transform="translate(602.6 336.5) scale(0.95 1)" font-size="14" fill="#000" stroke="#000" stroke-width="0.2">0.36Å<tspan font-size="9" dy="-5">-1</tspan></text>
<text transform="translate(541 367.3) scale(0.950 1)" font-size="14.00" fill="#111" stroke="#111" stroke-width="0.2">E-E<tspan font-size="8.7" dy="4.2">F</tspan><tspan dy="-4.2">(eV)</tspan></text>
<text transform="translate(522.0 217.6) rotate(-90) scale(0.965 1)" font-size="14" fill="#000" stroke="#000" stroke-width="0.2">Intensity (arb. units)</text>
<text transform="translate(508.27 13.99) scale(0.996 1)" font-size="14.00" fill="#111" stroke="#111" stroke-width="0.2">(c2)</text>
<text transform="translate(535.63 14.6) scale(0.960 1)" font-size="14.00" fill="#111" stroke="#111" stroke-width="0.2">m2</text>
<text transform="translate(602.71 22.7) scale(0.938 1)" font-size="14.00" fill="#111" stroke="#111" stroke-width="0.2">M</text>
<line x1="603.6" y1="47.6" x2="612.7" y2="47.6" stroke="#2233cc" stroke-width="1.8"/>
<text transform="translate(616.83 51.76) scale(0.980 1)" font-size="14.00" fill="#2233cc" stroke="#2233cc" stroke-width="0.2">10K</text>
<line x1="603.6" y1="59.9" x2="612.7" y2="59.9" stroke="#ec0a12" stroke-width="1.8"/>
<text transform="translate(613.39 62.96) scale(0.973 1)" font-size="14.00" fill="#ec0a12" stroke="#ec0a12" stroke-width="0.2">312K</text>
<text transform="translate(602.8 159.3) scale(0.95 1)" font-size="14.2" fill="#ec0a12" stroke="#ec0a12" stroke-width="0.2">k<tspan font-size="9" dy="4">F</tspan></text>
<text transform="translate(602.8 180.5) scale(0.95 1)" font-size="14.2" fill="#3355ee" stroke="#3355ee" stroke-width="0.2">k<tspan font-size="9" dy="4">F</tspan></text>
<path d="M671.5 40.2 L672.5 40.2 L673.5 40.1 L674.5 40.0 L675.5 40.1 L676.5 40.0 L677.5 40.1 L678.5 40.2 L679.5 40.0 L680.5 39.9 L681.5 40.0 L682.5 39.9 L683.5 39.9 L684.5 39.7 L685.5 39.8 L686.5 39.8 L687.5 39.6 L688.5 39.6 L689.5 39.4 L690.5 39.4 L691.5 39.3 L692.5 39.4 L693.5 39.2 L694.5 39.3 L695.5 39.2 L696.5 39.1 L697.5 38.8 L698.5 38.9 L699.5 38.9 L700.5 38.8 L701.5 38.5 L702.5 38.5 L703.5 38.3 L704.5 38.1 L705.5 38.2 L706.5 37.8 L707.5 37.7 L708.5 37.6 L709.5 37.2 L710.5 37.0 L711.5 36.8 L712.5 36.5 L713.5 36.0 L714.5 35.8 L715.5 35.6 L716.5 34.8 L717.5 34.6 L718.5 33.9 L719.5 33.2 L720.5 32.8 L721.5 31.8 L722.5 30.6 L723.5 29.7 L724.5 28.5 L725.5 26.8 L726.5 25.3 L727.5 23.1 L728.5 21.0 L729.5 18.7 L730.5 15.4 L731.5 13.3 L732.5 11.0 L733.5 10.1 L734.5 9.4 L735.5 10.9 L736.5 13.1 L737.5 16.1 L738.5 18.8 L739.5 20.7 L740.5 23.2 L741.5 25.7 L742.5 27.0 L743.5 28.8 L744.5 30.2 L745.5 31.6 L746.5 32.5 L747.5 33.3 L748.5 34.0 L749.5 34.8 L750.5 35.6 L751.5 36.0 L752.5 36.5 L753.5 37.0 L754.5 37.4 L755.5 37.8 L756.5 38.0 L757.5 38.4 L758.5 38.7 L759.5 39.1 L760.5 39.2 L761.5 39.3 L762.5 39.6 L763.5 39.6 L764.5 39.9 L765.5 39.9 L766.5 40.1 L767.5 39.9 L768.5 40.2 L769.5 40.0 L770.5 40.1 L771.5 40.3 L772.5 40.3 L773.5 40.4 L774.5 40.6" stroke="#111" stroke-width="2.0" fill="none" stroke-linejoin="round"/>
<text transform="translate(780.75 42.66) scale(1.054 1)" font-size="13.80" fill="#111" stroke="#111" stroke-width="0.2">295K</text>
<path d="M671.5 56.6 L672.5 56.6 L673.5 56.6 L674.5 56.7 L675.5 56.6 L676.5 56.5 L677.5 56.6 L678.5 56.6 L679.5 56.4 L680.5 56.5 L681.5 56.5 L682.5 56.3 L683.5 56.4 L684.5 56.3 L685.5 56.4 L686.5 56.3 L687.5 56.3 L688.5 56.1 L689.5 56.2 L690.5 55.9 L691.5 56.0 L692.5 56.1 L693.5 55.7 L694.5 56.0 L695.5 55.7 L696.5 55.8 L697.5 55.6 L698.5 55.7 L699.5 55.5 L700.5 55.3 L701.5 55.5 L702.5 55.4 L703.5 55.1 L704.5 55.0 L705.5 54.8 L706.5 54.6 L707.5 54.7 L708.5 54.3 L709.5 54.2 L710.5 53.9 L711.5 53.7 L712.5 53.4 L713.5 53.4 L714.5 52.9 L715.5 52.7 L716.5 52.2 L717.5 51.7 L718.5 51.3 L719.5 50.7 L720.5 50.1 L721.5 49.4 L722.5 48.5 L723.5 47.4 L724.5 46.3 L725.5 45.4 L726.5 43.4 L727.5 41.4 L728.5 39.4 L729.5 37.2 L730.5 33.5 L731.5 31.3 L732.5 28.7 L733.5 26.5 L734.5 27.4 L735.5 27.9 L736.5 30.0 L737.5 32.3 L738.5 35.5 L739.5 38.0 L740.5 40.5 L741.5 42.5 L742.5 44.3 L743.5 46.3 L744.5 47.3 L745.5 48.6 L746.5 49.5 L747.5 50.4 L748.5 51.1 L749.5 52.0 L750.5 52.5 L751.5 53.1 L752.5 53.6 L753.5 54.2 L754.5 54.5 L755.5 54.9 L756.5 55.1 L757.5 55.3 L758.5 55.7 L759.5 56.0 L760.5 56.0 L761.5 56.2 L762.5 56.4 L763.5 56.5 L764.5 56.6 L765.5 56.5 L766.5 56.8 L767.5 56.6 L768.5 56.8 L769.5 56.9 L770.5 56.9 L771.5 57.0 L772.5 57.0 L773.5 56.8 L774.5 56.8" stroke="#111" stroke-width="2.0" fill="none" stroke-linejoin="round"/>
<text transform="translate(780.75 59.58) scale(1.054 1)" font-size="13.80" fill="#111" stroke="#111" stroke-width="0.2">248K</text>
<path d="M671.5 74.0 L672.5 73.8 L673.5 73.9 L674.5 73.9 L675.5 73.7 L676.5 73.6 L677.5 73.8 L678.5 73.8 L679.5 73.7 L680.5 73.7 L681.5 73.6 L682.5 73.5 L683.5 73.7 L684.5 73.5 L685.5 73.4 L686.5 73.6 L687.5 73.5 L688.5 73.5 L689.5 73.4 L690.5 73.4 L691.5 73.3 L692.5 73.3 L693.5 73.3 L694.5 73.2 L695.5 73.2 L696.5 73.2 L697.5 73.3 L698.5 72.8 L699.5 73.0 L700.5 72.8 L701.5 72.7 L702.5 72.5 L703.5 72.5 L704.5 72.5 L705.5 72.3 L706.5 72.2 L707.5 72.0 L708.5 72.0 L709.5 71.7 L710.5 71.3 L711.5 71.3 L712.5 71.0 L713.5 70.6 L714.5 70.6 L715.5 70.5 L716.5 70.1 L717.5 69.6 L718.5 69.2 L719.5 69.0 L720.5 68.3 L721.5 67.7 L722.5 67.0 L723.5 66.2 L724.5 65.3 L725.5 64.1 L726.5 62.7 L727.5 60.7 L728.5 58.9 L729.5 56.1 L730.5 53.5 L731.5 49.3 L732.5 46.1 L733.5 43.1 L734.5 40.5 L735.5 41.9 L736.5 43.2 L737.5 45.1 L738.5 49.1 L739.5 52.4 L740.5 54.9 L741.5 58.3 L742.5 60.5 L743.5 62.4 L744.5 63.9 L745.5 65.3 L746.5 66.5 L747.5 67.7 L748.5 68.5 L749.5 69.3 L750.5 70.2 L751.5 70.6 L752.5 71.2 L753.5 71.5 L754.5 72.3 L755.5 72.6 L756.5 72.9 L757.5 73.1 L758.5 73.3 L759.5 73.5 L760.5 73.6 L761.5 73.7 L762.5 73.8 L763.5 74.0 L764.5 74.0 L765.5 74.0 L766.5 74.0 L767.5 74.0 L768.5 74.3 L769.5 74.2 L770.5 74.1 L771.5 74.1 L772.5 74.0 L773.5 74.2 L774.5 74.3" stroke="#111" stroke-width="2.0" fill="none" stroke-linejoin="round"/>
<text transform="translate(780.75 76.5) scale(1.054 1)" font-size="13.80" fill="#111" stroke="#111" stroke-width="0.2">200K</text>
<path d="M671.5 90.5 L672.5 90.5 L673.5 90.5 L674.5 90.5 L675.5 90.3 L676.5 90.4 L677.5 90.3 L678.5 90.5 L679.5 90.3 L680.5 90.4 L681.5 90.5 L682.5 90.3 L683.5 90.2 L684.5 90.3 L685.5 90.2 L686.5 90.1 L687.5 90.2 L688.5 90.3 L689.5 90.0 L690.5 90.0 L691.5 89.9 L692.5 90.0 L693.5 89.8 L694.5 89.7 L695.5 89.9 L696.5 89.6 L697.5 89.7 L698.5 89.7 L699.5 89.5 L700.5 89.4 L701.5 89.5 L702.5 89.2 L703.5 89.0 L704.5 88.8 L705.5 88.8 L706.5 88.9 L707.5 88.7 L708.5 88.3 L709.5 88.1 L710.5 88.0 L711.5 87.8 L712.5 87.5 L713.5 87.3 L714.5 87.0 L715.5 86.6 L716.5 86.3 L717.5 85.9 L718.5 85.4 L719.5 84.8 L720.5 84.3 L721.5 83.4 L722.5 82.3 L723.5 80.8 L724.5 79.6 L725.5 77.2 L726.5 74.7 L727.5 71.7 L728.5 67.6 L729.5 62.5 L730.5 57.0 L731.5 53.9 L732.5 52.4 L733.5 54.7 L734.5 59.1 L735.5 62.8 L736.5 67.0 L737.5 70.8 L738.5 74.0 L739.5 76.3 L740.5 78.0 L741.5 79.6 L742.5 80.6 L743.5 82.0 L744.5 82.9 L745.5 83.8 L746.5 84.4 L747.5 85.4 L748.5 86.1 L749.5 86.8 L750.5 87.5 L751.5 88.0 L752.5 88.5 L753.5 89.2 L754.5 89.4 L755.5 89.8 L756.5 90.1 L757.5 90.0 L758.5 90.3 L759.5 90.5 L760.5 90.6 L761.5 90.6 L762.5 90.8 L763.5 90.7 L764.5 90.6 L765.5 90.6 L766.5 90.8 L767.5 90.8 L768.5 90.6 L769.5 90.9 L770.5 90.8 L771.5 90.9 L772.5 90.8 L773.5 90.8 L774.5 90.7" stroke="#111" stroke-width="2.0" fill="none" stroke-linejoin="round"/>
<text transform="translate(780.14 93.42) scale(1.074 1)" font-size="13.80" fill="#111" stroke="#111" stroke-width="0.2">152K</text>
<path d="M671.5 107.5 L672.5 107.2 L673.5 107.4 L674.5 107.1 L675.5 107.2 L676.5 107.0 L677.5 107.1 L678.5 107.2 L679.5 107.0 L680.5 107.2 L681.5 107.1 L682.5 106.9 L683.5 106.9 L684.5 106.9 L685.5 106.9 L686.5 106.8 L687.5 106.8 L688.5 106.8 L689.5 106.7 L690.5 106.6 L691.5 106.7 L692.5 106.7 L693.5 106.4 L694.5 106.5 L695.5 106.4 L696.5 106.3 L697.5 106.4 L698.5 106.2 L699.5 106.3 L700.5 106.0 L701.5 106.0 L702.5 105.9 L703.5 105.7 L704.5 105.7 L705.5 105.5 L706.5 105.4 L707.5 105.2 L708.5 105.0 L709.5 104.9 L710.5 104.7 L711.5 104.6 L712.5 104.1 L713.5 103.9 L714.5 103.4 L715.5 103.3 L716.5 102.7 L717.5 102.2 L718.5 101.8 L719.5 101.3 L720.5 100.3 L721.5 99.3 L722.5 98.2 L723.5 96.6 L724.5 94.7 L725.5 91.8 L726.5 88.1 L727.5 83.6 L728.5 77.3 L729.5 71.7 L730.5 66.4 L731.5 64.9 L732.5 67.0 L733.5 73.8 L734.5 78.7 L735.5 84.1 L736.5 88.1 L737.5 91.1 L738.5 93.3 L739.5 95.1 L740.5 96.0 L741.5 96.9 L742.5 97.8 L743.5 98.6 L744.5 99.6 L745.5 100.4 L746.5 101.1 L747.5 101.9 L748.5 103.0 L749.5 104.1 L750.5 104.5 L751.5 105.5 L752.5 105.9 L753.5 106.6 L754.5 106.7 L755.5 107.0 L756.5 107.0 L757.5 107.2 L758.5 107.5 L759.5 107.5 L760.5 107.4 L761.5 107.4 L762.5 107.3 L763.5 107.4 L764.5 107.5 L765.5 107.5 L766.5 107.5 L767.5 107.4 L768.5 107.5 L769.5 107.5 L770.5 107.6 L771.5 107.7 L772.5 107.5 L773.5 107.4 L774.5 107.5" stroke="#111" stroke-width="2.0" fill="none" stroke-linejoin="round"/>
<text transform="translate(780.14 110.34) scale(1.074 1)" font-size="13.80" fill="#111" stroke="#111" stroke-width="0.2">103K</text>
<path d="M671.5 123.6 L672.5 123.5 L673.5 123.6 L674.5 123.5 L675.5 123.6 L676.5 123.5 L677.5 123.5 L678.5 123.5 L679.5 123.4 L680.5 123.4 L681.5 123.4 L682.5 123.3 L683.5 123.4 L684.5 123.3 L685.5 123.2 L686.5 123.3 L687.5 123.1 L688.5 123.1 L689.5 123.1 L690.5 122.9 L691.5 123.1 L692.5 123.0 L693.5 122.9 L694.5 122.8 L695.5 122.8 L696.5 122.6 L697.5 122.6 L698.5 122.5 L699.5 122.5 L700.5 122.3 L701.5 122.3 L702.5 122.2 L703.5 122.1 L704.5 121.9 L705.5 121.9 L706.5 121.5 L707.5 121.5 L708.5 121.3 L709.5 121.1 L710.5 120.9 L711.5 120.6 L712.5 120.3 L713.5 120.1 L714.5 119.8 L715.5 119.3 L716.5 118.7 L717.5 118.3 L718.5 117.7 L719.5 116.9 L720.5 115.8 L721.5 114.3 L722.5 112.9 L723.5 110.4 L724.5 106.7 L725.5 102.5 L726.5 95.6 L727.5 87.7 L728.5 80.3 L729.5 76.9 L730.5 76.9 L731.5 82.8 L732.5 90.9 L733.5 97.7 L734.5 102.7 L735.5 106.5 L736.5 109.0 L737.5 110.8 L738.5 112.3 L739.5 113.2 L740.5 113.9 L741.5 114.5 L742.5 114.8 L743.5 115.3 L744.5 115.8 L745.5 116.3 L746.5 117.2 L747.5 118.2 L748.5 119.4 L749.5 120.8 L750.5 121.9 L751.5 122.7 L752.5 123.4 L753.5 123.6 L754.5 123.8 L755.5 123.7 L756.5 123.8 L757.5 123.8 L758.5 123.8 L759.5 123.7 L760.5 123.9 L761.5 124.0 L762.5 123.9 L763.5 123.8 L764.5 123.9 L765.5 124.0 L766.5 123.6 L767.5 123.9 L768.5 124.0 L769.5 124.0 L770.5 124.1 L771.5 124.0 L772.5 123.9 L773.5 123.9 L774.5 124.0" stroke="#111" stroke-width="2.0" fill="none" stroke-linejoin="round"/>
<text transform="translate(780.59 127.26) scale(0.979 1)" font-size="13.80" fill="#111" stroke="#111" stroke-width="0.2">53K</text>
<path d="M671.5 140.0 L672.5 140.0 L673.5 140.1 L674.5 140.2 L675.5 140.0 L676.5 139.9 L677.5 140.0 L678.5 140.0 L679.5 139.9 L680.5 140.0 L681.5 139.7 L682.5 139.8 L683.5 139.8 L684.5 139.8 L685.5 139.8 L686.5 139.5 L687.5 139.6 L688.5 139.6 L689.5 139.5 L690.5 139.4 L691.5 139.6 L692.5 139.5 L693.5 139.4 L694.5 139.3 L695.5 139.4 L696.5 139.2 L697.5 139.2 L698.5 138.9 L699.5 138.9 L700.5 138.9 L701.5 138.7 L702.5 138.7 L703.5 138.6 L704.5 138.3 L705.5 138.3 L706.5 138.1 L707.5 138.1 L708.5 137.7 L709.5 137.5 L710.5 137.5 L711.5 137.4 L712.5 137.1 L713.5 136.6 L714.5 136.2 L715.5 136.0 L716.5 135.3 L717.5 134.7 L718.5 134.1 L719.5 133.3 L720.5 132.1 L721.5 130.6 L722.5 128.7 L723.5 126.2 L724.5 122.0 L725.5 116.0 L726.5 107.6 L727.5 97.6 L728.5 88.4 L729.5 85.6 L730.5 89.1 L731.5 98.5 L732.5 108.0 L733.5 116.2 L734.5 121.3 L735.5 124.6 L736.5 126.9 L737.5 128.5 L738.5 129.7 L739.5 130.2 L740.5 130.9 L741.5 131.4 L742.5 132.1 L743.5 132.2 L744.5 132.3 L745.5 132.6 L746.5 133.2 L747.5 133.9 L748.5 135.7 L749.5 137.9 L750.5 139.4 L751.5 140.1 L752.5 140.2 L753.5 140.5 L754.5 140.5 L755.5 140.4 L756.5 140.4 L757.5 140.1 L758.5 140.4 L759.5 140.3 L760.5 140.3 L761.5 140.4 L762.5 140.3 L763.5 140.1 L764.5 140.3 L765.5 140.2 L766.5 140.3 L767.5 140.2 L768.5 140.3 L769.5 140.1 L770.5 140.4 L771.5 140.3 L772.5 140.4 L773.5 140.5 L774.5 140.3" stroke="#111" stroke-width="2.0" fill="none" stroke-linejoin="round"/>
<text transform="translate(780.74 144.11) scale(1.189 1)" font-size="13.80" fill="#111" stroke="#111" stroke-width="0.2">8.5K</text>
<line x1="748.9" y1="8" x2="748.9" y2="142" stroke="#ec0a12" stroke-width="2.0" stroke-dasharray="6.2 4.8"/>
<path d="M734.2 13.5 l3.0 3.6 l-3.0 3.6 l-3.0 -3.6 Z" fill="#e020e0"/>
<path d="M734.2 29.9 l3.0 3.6 l-3.0 3.6 l-3.0 -3.6 Z" fill="#e020e0"/>
<path d="M735.2 45.7 l3.0 3.6 l-3.0 3.6 l-3.0 -3.6 Z" fill="#e020e0"/>
<path d="M732.4 56.9 l3.0 3.6 l-3.0 3.6 l-3.0 -3.6 Z" fill="#e020e0"/>
<path d="M731.3 70.4 l3.0 3.6 l-3.0 3.6 l-3.0 -3.6 Z" fill="#e020e0"/>
<path d="M729.3 80 l3.0 3.6 l-3.0 3.6 l-3.0 -3.6 Z" fill="#e020e0"/>
<path d="M729.3 94.3 l3.0 3.6 l-3.0 3.6 l-3.0 -3.6 Z" fill="#e020e0"/>
<rect x="671" y="7" width="107.2" height="135" fill="none" stroke="#111" stroke-width="2.0"/>
<line x1="696.8" y1="142" x2="696.8" y2="148.4" stroke="#111" stroke-width="1.9"/>
<line x1="722.9" y1="142" x2="722.9" y2="148.4" stroke="#111" stroke-width="1.9"/>
<line x1="748.9" y1="142" x2="748.9" y2="148.4" stroke="#111" stroke-width="1.9"/>
<line x1="671" y1="142" x2="671" y2="148.4" stroke="#111" stroke-width="1.9"/>
<text transform="translate(685.42 162.69) scale(1.003 1)" font-size="13.80" fill="#111" stroke="#111" stroke-width="0.2">-0.2</text>
<text transform="translate(739.54 162.69) scale(1.022 1)" font-size="13.80" fill="#111" stroke="#111" stroke-width="0.2">0.0</text>
<text transform="translate(698.1 177.8) scale(0.960 1)" font-size="13.80" fill="#111" stroke="#111" stroke-width="0.2">E-E<tspan font-size="8.6" dy="4.1">F</tspan><tspan dy="-4.1">(eV)</tspan></text>
<text transform="translate(659.4 128.2) rotate(-90) scale(0.97 1)" font-size="13.6" fill="#000" stroke="#000" stroke-width="0.2">Intensity (arb.units)</text>
<text transform="translate(679.51 20) scale(0.943 1)" font-size="13.80" fill="#111" stroke="#111" stroke-width="0.2">M</text>
<text transform="translate(754.34 19.7) scale(0.936 1)" font-size="13.80" fill="#111" stroke="#111" stroke-width="0.2">m1</text>
<text transform="translate(645.37 14.63) scale(1.013 1)" font-size="13.80" fill="#111" stroke="#111" stroke-width="0.2">(d)</text>
<path d="M674.9 241.2 L675.9 241.2 L676.9 241.2 L677.9 241.2 L678.9 241.2 L679.9 241.0 L680.9 241.2 L681.9 240.9 L682.9 241.1 L683.9 241.0 L684.9 240.9 L685.9 240.9 L686.9 240.8 L687.9 240.8 L688.9 240.6 L689.9 240.7 L690.9 240.8 L691.9 240.8 L692.9 240.7 L693.9 240.5 L694.9 240.3 L695.9 240.5 L696.9 240.3 L697.9 240.2 L698.9 240.1 L699.9 240.0 L700.9 239.9 L701.9 239.8 L702.9 239.6 L703.9 239.6 L704.9 239.8 L705.9 239.4 L706.9 239.3 L707.9 239.2 L708.9 239.1 L709.9 238.8 L710.9 238.7 L711.9 238.7 L712.9 238.4 L713.9 238.2 L714.9 238.1 L715.9 237.6 L716.9 237.4 L717.9 237.0 L718.9 236.8 L719.9 236.0 L720.9 235.6 L721.9 234.9 L722.9 234.3 L723.9 233.4 L724.9 232.4 L725.9 230.8 L726.9 229.7 L727.9 227.9 L728.9 226.0 L729.9 224.2 L730.9 221.7 L731.9 218.9 L732.9 216.7 L733.9 213.5 L734.9 211.0 L735.9 208.7 L736.9 205.9 L737.9 204.1 L738.9 200.5 L739.9 197.3 L740.9 196.2 L741.9 194.8 L742.9 193.9 L743.9 195.4 L744.9 195.1 L745.9 195.3 L746.9 199.5 L747.9 201.3 L748.9 204.5 L749.9 207.4 L750.9 210.8 L751.9 213.8 L752.9 217.4 L753.9 220.1 L754.9 223.0 L755.9 225.7 L756.9 227.8 L757.9 230.2 L758.9 232.1 L759.9 233.9 L760.9 235.1 L761.9 236.7 L762.9 237.5 L763.9 238.3 L764.9 238.9 L765.9 239.6 L766.9 240.1 L767.9 240.4 L768.9 240.8 L769.9 241.0 L770.9 241.3 L771.9 241.3 L772.9 241.5 L773.9 241.7 L774.9 242.0 L775.9 241.7 L776.9 241.8 L777.9 241.8" stroke="#111" stroke-width="2.0" fill="none" stroke-linejoin="round"/>
<text transform="translate(783.95 246.66) scale(1.054 1)" font-size="13.80" fill="#111" stroke="#111" stroke-width="0.2">312K</text>
<path d="M674.9 255.3 L675.9 255.1 L676.9 255.1 L677.9 255.1 L678.9 255.0 L679.9 255.0 L680.9 255.0 L681.9 254.8 L682.9 254.8 L683.9 254.9 L684.9 254.9 L685.9 254.8 L686.9 254.6 L687.9 254.7 L688.9 254.7 L689.9 254.7 L690.9 254.6 L691.9 254.4 L692.9 254.5 L693.9 254.3 L694.9 254.2 L695.9 254.2 L696.9 254.3 L697.9 254.1 L698.9 254.2 L699.9 253.9 L700.9 254.0 L701.9 253.7 L702.9 253.7 L703.9 253.9 L704.9 253.6 L705.9 253.3 L706.9 253.3 L707.9 253.2 L708.9 253.1 L709.9 252.8 L710.9 252.5 L711.9 252.5 L712.9 252.3 L713.9 252.1 L714.9 252.0 L715.9 251.6 L716.9 251.3 L717.9 250.7 L718.9 250.4 L719.9 250.0 L720.9 249.1 L721.9 248.3 L722.9 247.3 L723.9 246.5 L724.9 244.8 L725.9 243.5 L726.9 242.0 L727.9 240.2 L728.9 237.9 L729.9 235.9 L730.9 233.3 L731.9 230.9 L732.9 228.2 L733.9 225.0 L734.9 222.8 L735.9 220.8 L736.9 217.1 L737.9 215.4 L738.9 214.3 L739.9 211.4 L740.9 211.5 L741.9 210.0 L742.9 212.3 L743.9 214.2 L744.9 215.5 L745.9 215.9 L746.9 219.1 L747.9 221.6 L748.9 224.7 L749.9 228.5 L750.9 230.6 L751.9 234.5 L752.9 237.1 L753.9 240.2 L754.9 242.4 L755.9 244.6 L756.9 246.7 L757.9 248.4 L758.9 249.7 L759.9 251.0 L760.9 251.9 L761.9 252.5 L762.9 253.5 L763.9 254.0 L764.9 254.3 L765.9 254.7 L766.9 255.0 L767.9 255.1 L768.9 255.2 L769.9 255.4 L770.9 255.6 L771.9 255.5 L772.9 255.8 L773.9 255.7 L774.9 255.7 L775.9 255.9 L776.9 255.8 L777.9 255.7" stroke="#111" stroke-width="2.0" fill="none" stroke-linejoin="round"/>
<text transform="translate(783.95 260.94) scale(1.054 1)" font-size="13.80" fill="#111" stroke="#111" stroke-width="0.2">268K</text>
<path d="M674.9 270.2 L675.9 270.3 L676.9 270.3 L677.9 270.1 L678.9 270.1 L679.9 270.1 L680.9 270.0 L681.9 270.0 L682.9 269.9 L683.9 269.9 L684.9 269.8 L685.9 269.8 L686.9 269.8 L687.9 269.7 L688.9 269.6 L689.9 269.7 L690.9 269.6 L691.9 269.6 L692.9 269.6 L693.9 269.5 L694.9 269.6 L695.9 269.2 L696.9 269.3 L697.9 269.1 L698.9 269.2 L699.9 269.1 L700.9 268.7 L701.9 268.7 L702.9 268.8 L703.9 268.7 L704.9 268.6 L705.9 268.4 L706.9 268.3 L707.9 268.2 L708.9 268.0 L709.9 267.9 L710.9 267.4 L711.9 267.5 L712.9 267.1 L713.9 267.0 L714.9 266.6 L715.9 266.1 L716.9 265.8 L717.9 265.1 L718.9 264.5 L719.9 263.7 L720.9 263.0 L721.9 262.1 L722.9 261.0 L723.9 259.5 L724.9 258.1 L725.9 256.2 L726.9 254.3 L727.9 252.3 L728.9 250.2 L729.9 247.3 L730.9 244.7 L731.9 242.1 L732.9 239.4 L733.9 236.2 L734.9 234.7 L735.9 231.3 L736.9 229.8 L737.9 226.9 L738.9 226.5 L739.9 225.6 L740.9 224.6 L741.9 227.2 L742.9 226.9 L743.9 229.8 L744.9 231.4 L745.9 233.2 L746.9 236.6 L747.9 240.4 L748.9 243.8 L749.9 247.3 L750.9 250.6 L751.9 253.5 L752.9 256.8 L753.9 259.1 L754.9 261.8 L755.9 263.5 L756.9 265.1 L757.9 266.5 L758.9 267.6 L759.9 268.2 L760.9 268.8 L761.9 269.4 L762.9 269.6 L763.9 270.0 L764.9 270.5 L765.9 270.4 L766.9 270.7 L767.9 270.5 L768.9 270.8 L769.9 270.8 L770.9 270.8 L771.9 270.9 L772.9 271.1 L773.9 270.9 L774.9 271.0 L775.9 270.9 L776.9 271.0 L777.9 270.9" stroke="#111" stroke-width="2.0" fill="none" stroke-linejoin="round"/>
<text transform="translate(783.95 275.22) scale(1.054 1)" font-size="13.80" fill="#111" stroke="#111" stroke-width="0.2">204K</text>
<path d="M674.9 284.3 L675.9 284.2 L676.9 284.4 L677.9 284.0 L678.9 284.1 L679.9 284.2 L680.9 284.0 L681.9 284.0 L682.9 284.0 L683.9 283.8 L684.9 283.9 L685.9 284.1 L686.9 283.9 L687.9 283.7 L688.9 283.7 L689.9 283.6 L690.9 283.7 L691.9 283.5 L692.9 283.5 L693.9 283.6 L694.9 283.5 L695.9 283.3 L696.9 283.2 L697.9 283.1 L698.9 283.1 L699.9 282.8 L700.9 283.1 L701.9 282.8 L702.9 282.8 L703.9 282.9 L704.9 282.7 L705.9 282.4 L706.9 282.5 L707.9 282.3 L708.9 282.0 L709.9 281.8 L710.9 281.7 L711.9 281.3 L712.9 281.4 L713.9 280.7 L714.9 280.5 L715.9 280.2 L716.9 279.7 L717.9 279.2 L718.9 278.5 L719.9 277.7 L720.9 276.9 L721.9 275.4 L722.9 274.5 L723.9 273.0 L724.9 271.5 L725.9 269.8 L726.9 267.6 L727.9 265.5 L728.9 263.6 L729.9 261.1 L730.9 258.1 L731.9 256.7 L732.9 254.4 L733.9 249.8 L734.9 248.4 L735.9 247.8 L736.9 244.6 L737.9 242.6 L738.9 241.0 L739.9 240.1 L740.9 240.4 L741.9 240.8 L742.9 243.2 L743.9 244.3 L744.9 246.9 L745.9 249.4 L746.9 253.4 L747.9 256.6 L748.9 260.5 L749.9 264.4 L750.9 267.7 L751.9 270.9 L752.9 273.7 L753.9 276.2 L754.9 278.2 L755.9 279.9 L756.9 281.3 L757.9 282.1 L758.9 283.1 L759.9 283.6 L760.9 283.9 L761.9 284.2 L762.9 284.4 L763.9 284.6 L764.9 284.6 L765.9 284.9 L766.9 284.8 L767.9 284.7 L768.9 284.8 L769.9 284.7 L770.9 284.9 L771.9 285.1 L772.9 285.0 L773.9 284.8 L774.9 284.9 L775.9 285.2 L776.9 285.0 L777.9 285.0" stroke="#111" stroke-width="2.0" fill="none" stroke-linejoin="round"/>
<text transform="translate(783.34 289.5) scale(1.074 1)" font-size="13.80" fill="#111" stroke="#111" stroke-width="0.2">160K</text>
<path d="M674.9 298.4 L675.9 298.6 L676.9 298.4 L677.9 298.3 L678.9 298.3 L679.9 298.3 L680.9 298.1 L681.9 298.0 L682.9 298.1 L683.9 298.0 L684.9 298.0 L685.9 298.0 L686.9 298.2 L687.9 297.8 L688.9 297.9 L689.9 297.8 L690.9 297.8 L691.9 297.8 L692.9 297.6 L693.9 297.5 L694.9 297.4 L695.9 297.4 L696.9 297.5 L697.9 297.4 L698.9 297.2 L699.9 297.2 L700.9 297.2 L701.9 297.2 L702.9 297.0 L703.9 296.9 L704.9 296.7 L705.9 296.6 L706.9 296.8 L707.9 296.3 L708.9 296.3 L709.9 296.3 L710.9 296.0 L711.9 295.8 L712.9 295.6 L713.9 295.4 L714.9 295.1 L715.9 294.5 L716.9 294.2 L717.9 293.6 L718.9 293.1 L719.9 292.5 L720.9 291.7 L721.9 290.7 L722.9 289.4 L723.9 288.4 L724.9 287.0 L725.9 285.4 L726.9 283.7 L727.9 281.5 L728.9 279.4 L729.9 277.5 L730.9 274.5 L731.9 272.7 L732.9 270.0 L733.9 267.7 L734.9 264.6 L735.9 263.0 L736.9 261.8 L737.9 260.9 L738.9 259.8 L739.9 258.2 L740.9 257.8 L741.9 257.7 L742.9 259.7 L743.9 260.8 L744.9 263.6 L745.9 266.8 L746.9 268.7 L747.9 271.5 L748.9 275.4 L749.9 279.1 L750.9 283.0 L751.9 287.1 L752.9 290.0 L753.9 292.5 L754.9 294.8 L755.9 296.3 L756.9 297.2 L757.9 297.8 L758.9 298.3 L759.9 298.6 L760.9 298.8 L761.9 299.0 L762.9 299.0 L763.9 299.1 L764.9 299.1 L765.9 299.0 L766.9 298.8 L767.9 299.0 L768.9 299.0 L769.9 299.0 L770.9 299.1 L771.9 299.0 L772.9 298.9 L773.9 299.1 L774.9 299.1 L775.9 299.0 L776.9 299.1 L777.9 299.1" stroke="#111" stroke-width="2.0" fill="none" stroke-linejoin="round"/>
<text transform="translate(783.34 303.78) scale(1.074 1)" font-size="13.80" fill="#111" stroke="#111" stroke-width="0.2">101K</text>
<path d="M674.9 312.9 L675.9 312.6 L676.9 312.8 L677.9 312.8 L678.9 312.7 L679.9 312.8 L680.9 312.9 L681.9 312.7 L682.9 312.6 L683.9 312.8 L684.9 312.6 L685.9 312.4 L686.9 312.5 L687.9 312.5 L688.9 312.4 L689.9 312.5 L690.9 312.3 L691.9 312.2 L692.9 312.3 L693.9 312.3 L694.9 312.1 L695.9 312.1 L696.9 312.0 L697.9 312.2 L698.9 311.8 L699.9 311.9 L700.9 311.7 L701.9 311.6 L702.9 311.6 L703.9 311.6 L704.9 311.5 L705.9 311.3 L706.9 311.1 L707.9 311.0 L708.9 310.9 L709.9 310.8 L710.9 310.6 L711.9 310.3 L712.9 310.1 L713.9 309.9 L714.9 309.4 L715.9 308.7 L716.9 308.3 L717.9 307.6 L718.9 307.3 L719.9 306.2 L720.9 305.5 L721.9 304.3 L722.9 303.2 L723.9 301.7 L724.9 299.9 L725.9 298.2 L726.9 296.3 L727.9 294.3 L728.9 291.9 L729.9 289.8 L730.9 288.2 L731.9 284.4 L732.9 283.0 L733.9 280.1 L734.9 278.7 L735.9 277.4 L736.9 275.1 L737.9 274.6 L738.9 271.7 L739.9 273.8 L740.9 272.6 L741.9 274.5 L742.9 275.5 L743.9 275.4 L744.9 279.0 L745.9 282.1 L746.9 285.5 L747.9 287.9 L748.9 291.1 L749.9 294.4 L750.9 299.0 L751.9 303.1 L752.9 306.5 L753.9 309.4 L754.9 311.2 L755.9 312.6 L756.9 313.4 L757.9 313.5 L758.9 313.6 L759.9 313.6 L760.9 313.5 L761.9 313.7 L762.9 313.5 L763.9 313.6 L764.9 313.6 L765.9 313.7 L766.9 313.6 L767.9 313.6 L768.9 313.5 L769.9 313.5 L770.9 313.6 L771.9 313.5 L772.9 313.5 L773.9 313.5 L774.9 313.6 L775.9 313.4 L776.9 313.5 L777.9 313.4" stroke="#111" stroke-width="2.0" fill="none" stroke-linejoin="round"/>
<text transform="translate(783.79 318.06) scale(0.979 1)" font-size="13.80" fill="#111" stroke="#111" stroke-width="0.2">56K</text>
<path d="M674.9 325.7 L675.9 325.7 L676.9 325.9 L677.9 325.5 L678.9 325.5 L679.9 325.7 L680.9 325.5 L681.9 325.5 L682.9 325.7 L683.9 325.4 L684.9 325.3 L685.9 325.2 L686.9 325.4 L687.9 325.3 L688.9 325.1 L689.9 325.1 L690.9 325.2 L691.9 325.2 L692.9 325.0 L693.9 325.1 L694.9 325.0 L695.9 324.7 L696.9 324.8 L697.9 324.8 L698.9 324.6 L699.9 324.4 L700.9 324.5 L701.9 324.5 L702.9 324.5 L703.9 324.1 L704.9 324.5 L705.9 324.0 L706.9 324.1 L707.9 324.0 L708.9 323.8 L709.9 323.5 L710.9 323.2 L711.9 323.2 L712.9 322.8 L713.9 322.3 L714.9 322.5 L715.9 321.8 L716.9 321.5 L717.9 320.6 L718.9 320.1 L719.9 319.3 L720.9 318.4 L721.9 317.1 L722.9 315.7 L723.9 314.4 L724.9 312.5 L725.9 310.8 L726.9 309.3 L727.9 307.0 L728.9 305.0 L729.9 302.8 L730.9 301.4 L731.9 298.9 L732.9 295.9 L733.9 294.5 L734.9 291.2 L735.9 289.6 L736.9 289.0 L737.9 286.0 L738.9 286.0 L739.9 284.8 L740.9 286.4 L741.9 288.7 L742.9 288.3 L743.9 291.1 L744.9 292.7 L745.9 295.2 L746.9 297.9 L747.9 301.7 L748.9 304.6 L749.9 306.8 L750.9 310.2 L751.9 315.4 L752.9 320.5 L753.9 324.3 L754.9 325.9 L755.9 326.3 L756.9 326.5 L757.9 326.3 L758.9 326.4 L759.9 326.2 L760.9 326.4 L761.9 326.3 L762.9 326.4 L763.9 326.3 L764.9 326.4 L765.9 326.4 L766.9 326.3 L767.9 326.3 L768.9 326.3 L769.9 326.5 L770.9 326.6 L771.9 326.5 L772.9 326.4 L773.9 326.5 L774.9 326.2 L775.9 326.5 L776.9 326.3 L777.9 326.1" stroke="#111" stroke-width="2.0" fill="none" stroke-linejoin="round"/>
<text transform="translate(783.43 332.34) scale(0.994 1)" font-size="13.80" fill="#111" stroke="#111" stroke-width="0.2">10K</text>
<line x1="752.4" y1="192.4" x2="752.4" y2="327.9" stroke="#ec0a12" stroke-width="2.0" stroke-dasharray="6.2 4.8"/>
<path d="M745.8 199.3 l3.0 3.6 l-3.0 3.6 l-3.0 -3.6 Z" fill="#e020e0"/>
<path d="M743.3 214.5 l3.0 3.6 l-3.0 3.6 l-3.0 -3.6 Z" fill="#e020e0"/>
<path d="M741.9 230.4 l3.0 3.6 l-3.0 3.6 l-3.0 -3.6 Z" fill="#e020e0"/>
<path d="M741.3 246.1 l3.0 3.6 l-3.0 3.6 l-3.0 -3.6 Z" fill="#e020e0"/>
<path d="M739.9 263.4 l3.0 3.6 l-3.0 3.6 l-3.0 -3.6 Z" fill="#e020e0"/>
<path d="M739.9 277.4 l3.0 3.6 l-3.0 3.6 l-3.0 -3.6 Z" fill="#e020e0"/>
<path d="M737.9 291.3 l3.0 3.6 l-3.0 3.6 l-3.0 -3.6 Z" fill="#e020e0"/>
<rect x="674.4" y="191.4" width="106.8" height="136.5" fill="none" stroke="#111" stroke-width="2.0"/>
<line x1="700" y1="327.9" x2="700" y2="334.5" stroke="#111" stroke-width="1.9"/>
<line x1="726.3" y1="327.9" x2="726.3" y2="334.5" stroke="#111" stroke-width="1.9"/>
<line x1="752.3" y1="327.9" x2="752.3" y2="334.5" stroke="#111" stroke-width="1.9"/>
<line x1="674.4" y1="327.9" x2="674.4" y2="334.5" stroke="#111" stroke-width="1.9"/>
<text transform="translate(689.63 347.39) scale(0.979 1)" font-size="13.80" fill="#111" stroke="#111" stroke-width="0.2">-0.2</text>
<text transform="translate(743.04 347.39) scale(1.022 1)" font-size="13.80" fill="#111" stroke="#111" stroke-width="0.2">0.0</text>
<text transform="translate(707.1 362.8) scale(0.960 1)" font-size="13.80" fill="#111" stroke="#111" stroke-width="0.2">E-E<tspan font-size="8.6" dy="4.1">F</tspan><tspan dy="-4.1">(eV)</tspan></text>
<text transform="translate(662.6 313.2) rotate(-90) scale(0.97 1)" font-size="13.6" fill="#000" stroke="#000" stroke-width="0.2">Intensity (arb.units)</text>
<text transform="translate(683.51 206.2) scale(0.934 1)" font-size="13.80" fill="#111" stroke="#111" stroke-width="0.2">M</text>
<text transform="translate(756.03 205.8) scale(0.980 1)" font-size="13.80" fill="#111" stroke="#111" stroke-width="0.2">m2</text>
<path d="M832 101.3 L844 96.9 L857.5 93.9 L870.9 86.9 L884.3 76.9 L897.3 74.9 L909.8 74.9" stroke="#ec0a12" stroke-width="1.8" fill="none"/>
<line x1="832" y1="96.1" x2="832" y2="106.5" stroke="#ec0a12" stroke-width="1.4"/>
<line x1="829" y1="96.1" x2="835" y2="96.1" stroke="#ec0a12" stroke-width="1.4"/>
<line x1="829" y1="106.5" x2="835" y2="106.5" stroke="#ec0a12" stroke-width="1.4"/>
<line x1="844" y1="91.4" x2="844" y2="102.4" stroke="#ec0a12" stroke-width="1.4"/>
<line x1="841" y1="91.4" x2="847" y2="91.4" stroke="#ec0a12" stroke-width="1.4"/>
<line x1="841" y1="102.4" x2="847" y2="102.4" stroke="#ec0a12" stroke-width="1.4"/>
<line x1="857.5" y1="88.4" x2="857.5" y2="99.4" stroke="#ec0a12" stroke-width="1.4"/>
<line x1="854.5" y1="88.4" x2="860.5" y2="88.4" stroke="#ec0a12" stroke-width="1.4"/>
<line x1="854.5" y1="99.4" x2="860.5" y2="99.4" stroke="#ec0a12" stroke-width="1.4"/>
<line x1="870.9" y1="81.4" x2="870.9" y2="92.4" stroke="#ec0a12" stroke-width="1.4"/>
<line x1="867.9" y1="81.4" x2="873.9" y2="81.4" stroke="#ec0a12" stroke-width="1.4"/>
<line x1="867.9" y1="92.4" x2="873.9" y2="92.4" stroke="#ec0a12" stroke-width="1.4"/>
<line x1="884.3" y1="71.4" x2="884.3" y2="82.4" stroke="#ec0a12" stroke-width="1.4"/>
<line x1="881.3" y1="71.4" x2="887.3" y2="71.4" stroke="#ec0a12" stroke-width="1.4"/>
<line x1="881.3" y1="82.4" x2="887.3" y2="82.4" stroke="#ec0a12" stroke-width="1.4"/>
<line x1="897.3" y1="69.4" x2="897.3" y2="80.4" stroke="#ec0a12" stroke-width="1.4"/>
<line x1="894.3" y1="69.4" x2="900.3" y2="69.4" stroke="#ec0a12" stroke-width="1.4"/>
<line x1="894.3" y1="80.4" x2="900.3" y2="80.4" stroke="#ec0a12" stroke-width="1.4"/>
<line x1="909.8" y1="69.4" x2="909.8" y2="80.4" stroke="#ec0a12" stroke-width="1.4"/>
<line x1="906.8" y1="69.4" x2="912.8" y2="69.4" stroke="#ec0a12" stroke-width="1.4"/>
<line x1="906.8" y1="80.4" x2="912.8" y2="80.4" stroke="#ec0a12" stroke-width="1.4"/>
<path d="M832 97.69 L835.61 104.04 L828.39 104.04 Z" stroke="#ec0a12" stroke-width="1.6" fill="#fff" stroke-linejoin="miter"/>
<path d="M844 93.29 L847.61 99.64 L840.39 99.64 Z" stroke="#ec0a12" stroke-width="1.6" fill="#fff" stroke-linejoin="miter"/>
<path d="M857.5 90.29 L861.11 96.64 L853.89 96.64 Z" stroke="#ec0a12" stroke-width="1.6" fill="#fff" stroke-linejoin="miter"/>
<path d="M870.9 83.29 L874.51 89.64 L867.29 89.64 Z" stroke="#ec0a12" stroke-width="1.6" fill="#fff" stroke-linejoin="miter"/>
<path d="M884.3 73.29 L887.91 79.64 L880.69 79.64 Z" stroke="#ec0a12" stroke-width="1.6" fill="#fff" stroke-linejoin="miter"/>
<path d="M897.3 71.29 L900.91 77.64 L893.69 77.64 Z" stroke="#ec0a12" stroke-width="1.6" fill="#fff" stroke-linejoin="miter"/>
<path d="M909.8 71.29 L913.41 77.64 L906.19 77.64 Z" stroke="#ec0a12" stroke-width="1.6" fill="#fff" stroke-linejoin="miter"/>
<path d="M832.4 69.3 L844.6 64.9 L856.9 60.5 L872.5 59 L884.9 53.4 L902.8 52 L914.8 46" stroke="#ec0a12" stroke-width="1.8" fill="none"/>
<line x1="832.4" y1="61.1" x2="832.4" y2="77.5" stroke="#ec0a12" stroke-width="1.4"/>
<line x1="829.4" y1="61.1" x2="835.4" y2="61.1" stroke="#ec0a12" stroke-width="1.4"/>
<line x1="829.4" y1="77.5" x2="835.4" y2="77.5" stroke="#ec0a12" stroke-width="1.4"/>
<line x1="844.6" y1="56.9" x2="844.6" y2="72.9" stroke="#ec0a12" stroke-width="1.4"/>
<line x1="841.6" y1="56.9" x2="847.6" y2="56.9" stroke="#ec0a12" stroke-width="1.4"/>
<line x1="841.6" y1="72.9" x2="847.6" y2="72.9" stroke="#ec0a12" stroke-width="1.4"/>
<line x1="856.9" y1="52.5" x2="856.9" y2="68.5" stroke="#ec0a12" stroke-width="1.4"/>
<line x1="853.9" y1="52.5" x2="859.9" y2="52.5" stroke="#ec0a12" stroke-width="1.4"/>
<line x1="853.9" y1="68.5" x2="859.9" y2="68.5" stroke="#ec0a12" stroke-width="1.4"/>
<line x1="872.5" y1="51" x2="872.5" y2="67" stroke="#ec0a12" stroke-width="1.4"/>
<line x1="869.5" y1="51" x2="875.5" y2="51" stroke="#ec0a12" stroke-width="1.4"/>
<line x1="869.5" y1="67" x2="875.5" y2="67" stroke="#ec0a12" stroke-width="1.4"/>
<line x1="884.9" y1="45.4" x2="884.9" y2="61.4" stroke="#ec0a12" stroke-width="1.4"/>
<line x1="881.9" y1="45.4" x2="887.9" y2="45.4" stroke="#ec0a12" stroke-width="1.4"/>
<line x1="881.9" y1="61.4" x2="887.9" y2="61.4" stroke="#ec0a12" stroke-width="1.4"/>
<line x1="902.8" y1="44" x2="902.8" y2="60" stroke="#ec0a12" stroke-width="1.4"/>
<line x1="899.8" y1="44" x2="905.8" y2="44" stroke="#ec0a12" stroke-width="1.4"/>
<line x1="899.8" y1="60" x2="905.8" y2="60" stroke="#ec0a12" stroke-width="1.4"/>
<line x1="914.8" y1="38" x2="914.8" y2="54" stroke="#ec0a12" stroke-width="1.4"/>
<line x1="911.8" y1="38" x2="917.8" y2="38" stroke="#ec0a12" stroke-width="1.4"/>
<line x1="911.8" y1="54" x2="917.8" y2="54" stroke="#ec0a12" stroke-width="1.4"/>
<path d="M832.4 65.69 L836.01 72.04 L828.79 72.04 Z" stroke="#ec0a12" stroke-width="1.6" fill="#ec0a12" stroke-linejoin="miter"/>
<path d="M844.6 61.29 L848.21 67.64 L840.99 67.64 Z" stroke="#ec0a12" stroke-width="1.6" fill="#ec0a12" stroke-linejoin="miter"/>
<path d="M856.9 56.89 L860.51 63.24 L853.29 63.24 Z" stroke="#ec0a12" stroke-width="1.6" fill="#ec0a12" stroke-linejoin="miter"/>
<path d="M872.5 55.39 L876.11 61.74 L868.89 61.74 Z" stroke="#ec0a12" stroke-width="1.6" fill="#ec0a12" stroke-linejoin="miter"/>
<path d="M884.9 49.79 L888.51 56.14 L881.29 56.14 Z" stroke="#ec0a12" stroke-width="1.6" fill="#ec0a12" stroke-linejoin="miter"/>
<path d="M902.8 48.39 L906.41 54.74 L899.19 54.74 Z" stroke="#ec0a12" stroke-width="1.6" fill="#ec0a12" stroke-linejoin="miter"/>
<path d="M914.8 42.39 L918.41 48.74 L911.19 48.74 Z" stroke="#ec0a12" stroke-width="1.6" fill="#ec0a12" stroke-linejoin="miter"/>
<rect x="825.2" y="1" width="96.1" height="139.2" fill="none" stroke="#111" stroke-width="1.9"/>
<line x1="921.3" y1="15.8" x2="927.6" y2="15.8" stroke="#111" stroke-width="1.8"/>
<text transform="translate(933.13 19.8) scale(1.059 1)" font-size="13.40" fill="#111" stroke="#111" stroke-width="0.2">0.00</text>
<line x1="921.3" y1="37.7" x2="927.6" y2="37.7" stroke="#111" stroke-width="1.8"/>
<text transform="translate(931.53 41.7) scale(1.006 1)" font-size="13.40" fill="#111" stroke="#111" stroke-width="0.2">-0.02</text>
<line x1="921.3" y1="59.5" x2="927.6" y2="59.5" stroke="#111" stroke-width="1.8"/>
<text transform="translate(931.54 63.5) scale(0.986 1)" font-size="13.40" fill="#111" stroke="#111" stroke-width="0.2">-0.04</text>
<line x1="921.3" y1="81.3" x2="927.6" y2="81.3" stroke="#111" stroke-width="1.8"/>
<text transform="translate(931.53 85.3) scale(0.994 1)" font-size="13.40" fill="#111" stroke="#111" stroke-width="0.2">-0.06</text>
<line x1="921.3" y1="103.1" x2="927.6" y2="103.1" stroke="#111" stroke-width="1.8"/>
<text transform="translate(931.53 107.1) scale(0.999 1)" font-size="13.40" fill="#111" stroke="#111" stroke-width="0.2">-0.08</text>
<line x1="921.3" y1="125" x2="927.6" y2="125" stroke="#111" stroke-width="1.8"/>
<text transform="translate(931.53 129) scale(0.999 1)" font-size="13.40" fill="#111" stroke="#111" stroke-width="0.2">-0.10</text>
<line x1="829.3" y1="140.2" x2="829.3" y2="146.6" stroke="#111" stroke-width="1.8"/>
<line x1="856.77" y1="140.2" x2="856.77" y2="146.6" stroke="#111" stroke-width="1.8"/>
<line x1="884.24" y1="140.2" x2="884.24" y2="146.6" stroke="#111" stroke-width="1.8"/>
<line x1="911.71" y1="140.2" x2="911.71" y2="146.6" stroke="#111" stroke-width="1.8"/>
<line x1="843.03" y1="140.2" x2="843.03" y2="144" stroke="#111" stroke-width="1.8"/>
<line x1="870.5" y1="140.2" x2="870.5" y2="144" stroke="#111" stroke-width="1.8"/>
<line x1="897.97" y1="140.2" x2="897.97" y2="144" stroke="#111" stroke-width="1.8"/>
<text transform="translate(825.81 160.47) scale(1.102 1)" font-size="13.40" fill="#111" stroke="#111" stroke-width="0.2">0</text>
<text transform="translate(845.83 160.47) scale(1.031 1)" font-size="13.40" fill="#111" stroke="#111" stroke-width="0.2">100</text>
<text transform="translate(872.78 160.47) scale(1.034 1)" font-size="13.40" fill="#111" stroke="#111" stroke-width="0.2">200</text>
<text transform="translate(900.18 160.47) scale(1.023 1)" font-size="13.40" fill="#111" stroke="#111" stroke-width="0.2">300</text>
<text transform="translate(834.33 174.5) scale(0.942 1)" font-size="14.20" fill="#111" stroke="#111" stroke-width="0.2">Temperature(K)</text>
<text transform="translate(970.4 95.8) rotate(-90) scale(0.960 1)" font-size="13.00" fill="#111" stroke="#111" stroke-width="0.2">E-E<tspan font-size="8.1" dy="3.9">F</tspan><tspan dy="-3.9">(eV)</tspan></text>
<text transform="translate(830.51 21.48) scale(0.916 1)" font-size="13.60" fill="#ec0a12" stroke="#ec0a12" stroke-width="0.2">η band</text>
<line x1="885.2" y1="11.9" x2="898.3" y2="11.9" stroke="#ec0a12" stroke-width="1.8"/>
<path d="M891.8 8.4 L895.6 15.08 L888 15.08 Z" stroke="#ec0a12" stroke-width="1.6" fill="#fff" stroke-linejoin="miter"/>
<text transform="translate(903.14 14) scale(0.958 1)" font-size="13.40" fill="#111" stroke="#111" stroke-width="0.2">m1</text>
<line x1="885.2" y1="25" x2="898.3" y2="25" stroke="#ec0a12" stroke-width="1.8"/>
<path d="M891.8 21.5 L895.6 28.18 L888 28.18 Z" stroke="#ec0a12" stroke-width="1.6" fill="#ec0a12" stroke-linejoin="miter"/>
<text transform="translate(903.14 27.9) scale(0.979 1)" font-size="13.40" fill="#111" stroke="#111" stroke-width="0.2">m2</text>
<text transform="translate(805.17 14.82) scale(1.039 1)" font-size="13.40" fill="#111" stroke="#111" stroke-width="0.2">(e)</text>
<path d="M831.9 197 L844.7 204.3 L857.1 210.8 L873.3 222.2 L885.2 239.3 L902.4 243.1 L915 244.4" stroke="#ec0a12" stroke-width="1.8" fill="none"/>
<circle cx="831.9" cy="197" r="3.3" fill="#fff" stroke="#ec0a12" stroke-width="1.5"/>
<circle cx="844.7" cy="204.3" r="3.3" fill="#fff" stroke="#ec0a12" stroke-width="1.5"/>
<circle cx="857.1" cy="210.8" r="3.3" fill="#fff" stroke="#ec0a12" stroke-width="1.5"/>
<circle cx="873.3" cy="222.2" r="3.3" fill="#fff" stroke="#ec0a12" stroke-width="1.5"/>
<circle cx="885.2" cy="239.3" r="3.3" fill="#fff" stroke="#ec0a12" stroke-width="1.5"/>
<circle cx="902.4" cy="243.1" r="3.3" fill="#fff" stroke="#ec0a12" stroke-width="1.5"/>
<circle cx="915" cy="244.4" r="3.3" fill="#fff" stroke="#ec0a12" stroke-width="1.5"/>
<path d="M831.9 306.7 L844.7 309.5 L857.1 313.2 L873.3 314.6 L885.2 320 L902.4 320.8 L915 324.5" stroke="#ec0a12" stroke-width="1.8" fill="none"/>
<circle cx="831.9" cy="306.7" r="3.9" fill="#ec0a12" stroke="#ec0a12" stroke-width="1.5"/>
<circle cx="844.7" cy="309.5" r="3.9" fill="#ec0a12" stroke="#ec0a12" stroke-width="1.5"/>
<circle cx="857.1" cy="313.2" r="3.9" fill="#ec0a12" stroke="#ec0a12" stroke-width="1.5"/>
<circle cx="873.3" cy="314.6" r="3.9" fill="#ec0a12" stroke="#ec0a12" stroke-width="1.5"/>
<circle cx="885.2" cy="320" r="3.9" fill="#ec0a12" stroke="#ec0a12" stroke-width="1.5"/>
<circle cx="902.4" cy="320.8" r="3.9" fill="#ec0a12" stroke="#ec0a12" stroke-width="1.5"/>
<circle cx="915" cy="324.5" r="3.9" fill="#ec0a12" stroke="#ec0a12" stroke-width="1.5"/>
<rect x="825.2" y="191" width="96.1" height="138.8" fill="none" stroke="#111" stroke-width="1.9"/>
<line x1="921.3" y1="204.9" x2="927.6" y2="204.9" stroke="#111" stroke-width="1.8"/>
<text transform="translate(929.83 209) scale(1.055 1)" font-size="13.40" fill="#111" stroke="#111" stroke-width="0.2">0.25</text>
<line x1="921.3" y1="233.5" x2="927.6" y2="233.5" stroke="#111" stroke-width="1.8"/>
<text transform="translate(929.83 237.6) scale(1.055 1)" font-size="13.40" fill="#111" stroke="#111" stroke-width="0.2">0.20</text>
<line x1="921.3" y1="261.9" x2="927.6" y2="261.9" stroke="#111" stroke-width="1.8"/>
<text transform="translate(929.83 266) scale(1.055 1)" font-size="13.40" fill="#111" stroke="#111" stroke-width="0.2">0.15</text>
<line x1="921.3" y1="290.4" x2="927.6" y2="290.4" stroke="#111" stroke-width="1.8"/>
<text transform="translate(929.83 294.5) scale(1.055 1)" font-size="13.40" fill="#111" stroke="#111" stroke-width="0.2">0.10</text>
<line x1="921.3" y1="319" x2="927.6" y2="319" stroke="#111" stroke-width="1.8"/>
<text transform="translate(929.83 323.1) scale(1.055 1)" font-size="13.40" fill="#111" stroke="#111" stroke-width="0.2">0.05</text>
<line x1="829.3" y1="329.8" x2="829.3" y2="336.1" stroke="#111" stroke-width="1.8"/>
<line x1="856.77" y1="329.8" x2="856.77" y2="336.1" stroke="#111" stroke-width="1.8"/>
<line x1="884.24" y1="329.8" x2="884.24" y2="336.1" stroke="#111" stroke-width="1.8"/>
<line x1="911.71" y1="329.8" x2="911.71" y2="336.1" stroke="#111" stroke-width="1.8"/>
<line x1="843.03" y1="329.8" x2="843.03" y2="334.1" stroke="#111" stroke-width="1.8"/>
<line x1="870.5" y1="329.8" x2="870.5" y2="334.1" stroke="#111" stroke-width="1.8"/>
<line x1="897.97" y1="329.8" x2="897.97" y2="334.1" stroke="#111" stroke-width="1.8"/>
<text transform="translate(825.81 350.47) scale(1.102 1)" font-size="13.40" fill="#111" stroke="#111" stroke-width="0.2">0</text>
<text transform="translate(845.83 350.47) scale(1.031 1)" font-size="13.40" fill="#111" stroke="#111" stroke-width="0.2">100</text>
<text transform="translate(872.78 350.47) scale(1.034 1)" font-size="13.40" fill="#111" stroke="#111" stroke-width="0.2">200</text>
<text transform="translate(900.18 350.47) scale(1.023 1)" font-size="13.40" fill="#111" stroke="#111" stroke-width="0.2">300</text>
<text transform="translate(833.03 365.2) scale(0.942 1)" font-size="14.20" fill="#111" stroke="#111" stroke-width="0.2">Temperature(K)</text>
<text transform="translate(970.0 297.8) rotate(-90) scale(0.98 1)" font-size="13.0" fill="#000" stroke="#000" stroke-width="0.2">doping level <tspan font-style="italic">x</tspan></text>
<line x1="885.2" y1="202" x2="898.3" y2="202" stroke="#ec0a12" stroke-width="1.8"/>
<circle cx="891" cy="202" r="3.3" fill="#fff" stroke="#ec0a12" stroke-width="1.5"/>
<text transform="translate(901.33 206.4) scale(1.007 1)" font-size="13.40" fill="#111" stroke="#111" stroke-width="0.2">m1</text>
<line x1="885.2" y1="215.3" x2="898.3" y2="215.3" stroke="#ec0a12" stroke-width="1.8"/>
<circle cx="891" cy="215.3" r="3.9" fill="#ec0a12" stroke="#ec0a12" stroke-width="1.5"/>
<text transform="translate(901.32 219.8) scale(1.028 1)" font-size="13.40" fill="#111" stroke="#111" stroke-width="0.2">m2</text>
<text transform="translate(805.35 200.82) scale(1.074 1)" font-size="13.40" fill="#111" stroke="#111" stroke-width="0.2">(f)</text>
</svg>
</body></html>
